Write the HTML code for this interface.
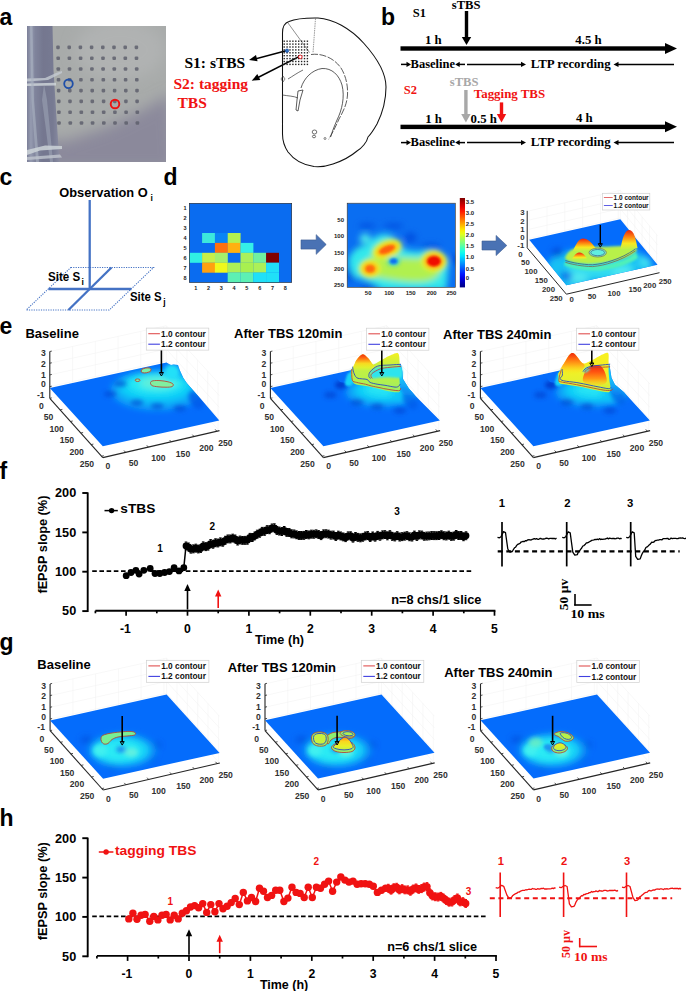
<!DOCTYPE html>
<html><head><meta charset="utf-8"><title>Figure</title>
<style>html,body{margin:0;padding:0;background:#fff;} svg{display:block;}</style></head>
<body><svg width="686" height="991" viewBox="0 0 686 991">
<defs>
<linearGradient id="phMain" x1="0" y1="0" x2="1" y2="1">
 <stop offset="0" stop-color="#aeb1b0"/>
 <stop offset="0.4" stop-color="#a8acaa"/>
 <stop offset="0.7" stop-color="#9fa1a6"/>
 <stop offset="1" stop-color="#8e8d9e"/>
</linearGradient>
<radialGradient id="phDark" cx="0.95" cy="1.0" r="0.55">
 <stop offset="0" stop-color="#848296" stop-opacity="0.95"/>
 <stop offset="1" stop-color="#848296" stop-opacity="0"/>
</radialGradient>
<linearGradient id="phLeft" x1="0" y1="0" x2="1" y2="0">
 <stop offset="0" stop-color="#7c7f98"/>
 <stop offset="0.12" stop-color="#959bb0"/>
 <stop offset="0.25" stop-color="#80849c"/>
 <stop offset="0.5" stop-color="#74778f"/>
 <stop offset="0.8" stop-color="#777a92"/>
 <stop offset="1" stop-color="#8a8da2"/>
</linearGradient>
<filter id="phblur"><feGaussianBlur stdDeviation="0.7"/></filter>
<clipPath id="phclip"><rect x="27" y="26" width="139" height="136"/></clipPath><filter id="phbig" x="-30%" y="-30%" width="160%" height="160%"><feGaussianBlur stdDeviation="7"/></filter><clipPath id="clipH"><rect x="347.2" y="203.2" width="108.1" height="84.1"/></clipPath><filter id="blur3" x="-50%" y="-50%" width="200%" height="200%"><feGaussianBlur stdDeviation="3"/></filter><filter id="blur2" x="-50%" y="-50%" width="200%" height="200%"><feGaussianBlur stdDeviation="2"/></filter><filter id="blur1" x="-50%" y="-50%" width="200%" height="200%"><feGaussianBlur stdDeviation="1.2"/></filter><filter id="blur4" x="-50%" y="-50%" width="200%" height="200%"><feGaussianBlur stdDeviation="4"/></filter><linearGradient id="jetv" x1="0" y1="1" x2="0" y2="0"><stop offset="0.00" stop-color="#00007f"/><stop offset="0.05" stop-color="#0000b2"/><stop offset="0.10" stop-color="#0000e5"/><stop offset="0.15" stop-color="#0019ff"/><stop offset="0.20" stop-color="#004cff"/><stop offset="0.25" stop-color="#007fff"/><stop offset="0.30" stop-color="#00b2ff"/><stop offset="0.35" stop-color="#00e5ff"/><stop offset="0.40" stop-color="#19ffe5"/><stop offset="0.45" stop-color="#4cffb2"/><stop offset="0.50" stop-color="#7fff7f"/><stop offset="0.55" stop-color="#b2ff4c"/><stop offset="0.60" stop-color="#e5ff19"/><stop offset="0.65" stop-color="#ffe500"/><stop offset="0.70" stop-color="#ffb200"/><stop offset="0.75" stop-color="#ff7f00"/><stop offset="0.80" stop-color="#ff4c00"/><stop offset="0.85" stop-color="#ff1900"/><stop offset="0.90" stop-color="#e50000"/><stop offset="0.95" stop-color="#b20000"/><stop offset="1.00" stop-color="#7f0000"/></linearGradient><clipPath id="sc1"><path d="M49.8,388.0 L166.5,362.6 L169.0,364.0 L171.0,365.0 L173.6,364.6 L178.0,365.0 L179.7,369.9 L183.2,377.7 L186.7,383.0 L193.7,390.9 L206.0,405.0 L219.3,420.5 L102.8,446.3 Z"/></clipPath><clipPath id="sc2"><path d="M270.4,388.0 L386.9,362.2 L401.0,364.5 L402.5,372.0 L403.0,379.1 L408.7,388.3 L416.0,396.5 L439.9,420.5 L323.4,446.3 Z"/></clipPath><linearGradient id="vg1" x1="0" y1="362" x2="0" y2="400" gradientUnits="userSpaceOnUse"><stop offset="0" stop-color="#30e8e8"/><stop offset="0.35" stop-color="#18d4f8"/><stop offset="0.75" stop-color="#1090f4"/><stop offset="1" stop-color="#0a70f0" stop-opacity="0"/></linearGradient><linearGradient id="vg2" x1="0" y1="353" x2="0" y2="392" gradientUnits="userSpaceOnUse"><stop offset="0" stop-color="#f4f020"/><stop offset="0.3" stop-color="#c8f040"/><stop offset="0.7" stop-color="#b4f04c"/><stop offset="1" stop-color="#98f068"/></linearGradient><linearGradient id="vg3" x1="0" y1="354" x2="0" y2="371" gradientUnits="userSpaceOnUse"><stop offset="0" stop-color="#f02810"/><stop offset="0.25" stop-color="#ff7010"/><stop offset="0.55" stop-color="#f8d820"/><stop offset="0.8" stop-color="#f0f020" stop-opacity="0.6"/><stop offset="1" stop-color="#e0f030" stop-opacity="0"/></linearGradient><clipPath id="sc3"><path d="M480.4,388.0 L596.9,362.2 L609.5,364.7 L611.5,377.8 L614.8,384.4 L624.0,392.2 L649.9,420.5 L533.4,446.3 Z"/></clipPath><linearGradient id="vg4" x1="0" y1="362" x2="0" y2="400" gradientUnits="userSpaceOnUse"><stop offset="0" stop-color="#30e8e8"/><stop offset="0.35" stop-color="#18d4f8"/><stop offset="0.75" stop-color="#1090f4"/><stop offset="1" stop-color="#0a70f0" stop-opacity="0"/></linearGradient><linearGradient id="vg5" x1="0" y1="353" x2="0" y2="392" gradientUnits="userSpaceOnUse"><stop offset="0" stop-color="#f8f020"/><stop offset="0.4" stop-color="#f4f024"/><stop offset="0.75" stop-color="#e4f030"/><stop offset="1" stop-color="#c0f044"/></linearGradient><linearGradient id="vg6" x1="0" y1="353" x2="0" y2="375" gradientUnits="userSpaceOnUse"><stop offset="0" stop-color="#f02810"/><stop offset="0.25" stop-color="#ff6810"/><stop offset="0.55" stop-color="#ffb018"/><stop offset="0.8" stop-color="#f8e020" stop-opacity="0.7"/><stop offset="1" stop-color="#f0f020" stop-opacity="0"/></linearGradient><linearGradient id="vg7" x1="0" y1="365" x2="0" y2="388" gradientUnits="userSpaceOnUse"><stop offset="0" stop-color="#f02810"/><stop offset="0.3" stop-color="#ff5410"/><stop offset="0.6" stop-color="#ff9a14"/><stop offset="0.85" stop-color="#f8d020" stop-opacity="0.5"/><stop offset="1" stop-color="#f0f020" stop-opacity="0"/></linearGradient><clipPath id="sc4"><polygon points="50.1,720.4 103.1,778.7 219.6,752.9 166.6,694.6"/></clipPath><clipPath id="sc5"><polygon points="265.0,720.3 318.0,778.6 434.5,752.8 381.5,694.5"/></clipPath><linearGradient id="vg8" x1="0" y1="737.0" x2="0" y2="750.0" gradientUnits="userSpaceOnUse"><stop offset="0" stop-color="#ff8a10"/><stop offset="0.35" stop-color="#f8d820"/><stop offset="0.7" stop-color="#e8f028"/><stop offset="1" stop-color="#c0f048"/></linearGradient><clipPath id="sc6"><polygon points="480.5,720.3 533.5,778.6 650.0,752.8 597.0,694.5"/></clipPath><linearGradient id="vg9" x1="0" y1="742.5" x2="0" y2="751.0" gradientUnits="userSpaceOnUse"><stop offset="0" stop-color="#f0f020"/><stop offset="0.5" stop-color="#d8f030"/><stop offset="1" stop-color="#b0f050"/></linearGradient><clipPath id="cd3"><polygon points="529.2,239.8 566.4,285.2 657.5,264.7 620.3,219.3"/></clipPath><linearGradient id="dpk" x1="0" y1="0" x2="0" y2="1"><stop offset="0" stop-color="#e82010"/><stop offset="0.35" stop-color="#ff8010"/><stop offset="0.7" stop-color="#f8e820"/><stop offset="1" stop-color="#c0f048"/></linearGradient></defs>
<rect width="686" height="991" fill="#fff"/>
<text x="-0.5" y="24.8" font-family='"Liberation Sans", sans-serif' font-size="23" font-weight="bold" fill="#000" text-anchor="start" >a</text>
<text x="381.0" y="24.6" font-family='"Liberation Sans", sans-serif' font-size="23" font-weight="bold" fill="#000" text-anchor="start" >b</text>
<text x="-0.5" y="184.7" font-family='"Liberation Sans", sans-serif' font-size="23" font-weight="bold" fill="#000" text-anchor="start" >c</text>
<text x="163.5" y="184.7" font-family='"Liberation Sans", sans-serif' font-size="23" font-weight="bold" fill="#000" text-anchor="start" >d</text>
<text x="-0.5" y="333.9" font-family='"Liberation Sans", sans-serif' font-size="23" font-weight="bold" fill="#000" text-anchor="start" >e</text>
<text x="-0.5" y="478.7" font-family='"Liberation Sans", sans-serif' font-size="23" font-weight="bold" fill="#000" text-anchor="start" >f</text>
<text x="-0.5" y="650.4" font-family='"Liberation Sans", sans-serif' font-size="23" font-weight="bold" fill="#000" text-anchor="start" >g</text>
<text x="-0.5" y="825.7" font-family='"Liberation Sans", sans-serif' font-size="23" font-weight="bold" fill="#000" text-anchor="start" >h</text>
<rect x="27" y="26" width="139" height="136" fill="#a8abaa"/>
<g clip-path="url(#phclip)">
<ellipse cx="120" cy="50" rx="45" ry="30" fill="#b0b2b2" filter="url(#phbig)"/>
<path d="M20,138 L65,141 L105,128 L143,110 L170,94 L175,170 L20,170 Z" fill="#8b899b" filter="url(#phbig)"/>
</g>
<g filter="url(#phblur)">
<path d="M27,26 L52.5,26 L53.5,70 L56,110 L59.5,162 L27,162 Z" fill="url(#phLeft)"/>
<path d="M27,78.5 L45,78 L56,73 L62,71 L62,73 L48,80 L27,81.5 Z" fill="#c4cad2" opacity="0.8"/>
<path d="M27,83.5 L56,82.8 L56,85.5 L27,86 Z" fill="#d2d8dc" opacity="0.8"/>
<path d="M44,84 L47,100 L50,130 L53,162 L50,162 L46,130 L42,100 Z" fill="#a4acbc" opacity="0.5"/>
<path d="M30,26 L32.5,26 L34,100 L39,162 L36,162 L31.5,100 Z" fill="#aab2c2" opacity="0.6"/>
<path d="M27,150 L45,145.5 L62,146 L62,149 L40,150.5 L27,155 Z" fill="#cdd3d8" opacity="0.85"/>
<path d="M27,157 L60,154.5 L62,157.5 L27,160 Z" fill="#c0c6ce" opacity="0.8"/>
</g>
<g filter="url(#phblur)">
<rect x="56.2" y="45.6" width="3.6" height="3.6" rx="1.1" fill="#5e5f6c" opacity="0.85"/>
<rect x="56.4" y="56.4" width="3.6" height="3.6" rx="1.1" fill="#5e5f6c" opacity="0.85"/>
<rect x="56.5" y="67.2" width="3.6" height="3.6" rx="1.1" fill="#5e5f6c" opacity="0.85"/>
<rect x="56.7" y="78.0" width="3.6" height="3.6" rx="1.1" fill="#5e5f6c" opacity="0.85"/>
<rect x="56.8" y="88.8" width="3.6" height="3.6" rx="1.1" fill="#5e5f6c" opacity="0.85"/>
<rect x="57.0" y="99.6" width="3.6" height="3.6" rx="1.1" fill="#5e5f6c" opacity="0.85"/>
<rect x="57.1" y="110.4" width="3.6" height="3.6" rx="1.1" fill="#5e5f6c" opacity="0.85"/>
<rect x="57.2" y="121.2" width="3.6" height="3.6" rx="1.1" fill="#5e5f6c" opacity="0.85"/>
<rect x="67.4" y="45.6" width="3.6" height="3.6" rx="1.1" fill="#5e5f6c" opacity="0.85"/>
<rect x="67.6" y="56.4" width="3.6" height="3.6" rx="1.1" fill="#5e5f6c" opacity="0.85"/>
<rect x="67.7" y="67.2" width="3.6" height="3.6" rx="1.1" fill="#5e5f6c" opacity="0.85"/>
<rect x="67.9" y="78.0" width="3.6" height="3.6" rx="1.1" fill="#5e5f6c" opacity="0.85"/>
<rect x="68.0" y="88.8" width="3.6" height="3.6" rx="1.1" fill="#5e5f6c" opacity="0.85"/>
<rect x="68.2" y="99.6" width="3.6" height="3.6" rx="1.1" fill="#5e5f6c" opacity="0.85"/>
<rect x="68.3" y="110.4" width="3.6" height="3.6" rx="1.1" fill="#5e5f6c" opacity="0.85"/>
<rect x="68.5" y="121.2" width="3.6" height="3.6" rx="1.1" fill="#5e5f6c" opacity="0.85"/>
<rect x="78.6" y="45.6" width="3.6" height="3.6" rx="1.1" fill="#5e5f6c" opacity="0.85"/>
<rect x="78.8" y="56.4" width="3.6" height="3.6" rx="1.1" fill="#5e5f6c" opacity="0.85"/>
<rect x="78.9" y="67.2" width="3.6" height="3.6" rx="1.1" fill="#5e5f6c" opacity="0.85"/>
<rect x="79.1" y="78.0" width="3.6" height="3.6" rx="1.1" fill="#5e5f6c" opacity="0.85"/>
<rect x="79.2" y="88.8" width="3.6" height="3.6" rx="1.1" fill="#5e5f6c" opacity="0.85"/>
<rect x="79.4" y="99.6" width="3.6" height="3.6" rx="1.1" fill="#5e5f6c" opacity="0.85"/>
<rect x="79.5" y="110.4" width="3.6" height="3.6" rx="1.1" fill="#5e5f6c" opacity="0.85"/>
<rect x="79.7" y="121.2" width="3.6" height="3.6" rx="1.1" fill="#5e5f6c" opacity="0.85"/>
<rect x="89.8" y="45.6" width="3.6" height="3.6" rx="1.1" fill="#5e5f6c" opacity="0.85"/>
<rect x="90.0" y="56.4" width="3.6" height="3.6" rx="1.1" fill="#5e5f6c" opacity="0.85"/>
<rect x="90.1" y="67.2" width="3.6" height="3.6" rx="1.1" fill="#5e5f6c" opacity="0.85"/>
<rect x="90.2" y="78.0" width="3.6" height="3.6" rx="1.1" fill="#5e5f6c" opacity="0.85"/>
<rect x="90.4" y="88.8" width="3.6" height="3.6" rx="1.1" fill="#5e5f6c" opacity="0.85"/>
<rect x="90.5" y="99.6" width="3.6" height="3.6" rx="1.1" fill="#5e5f6c" opacity="0.85"/>
<rect x="90.7" y="110.4" width="3.6" height="3.6" rx="1.1" fill="#5e5f6c" opacity="0.85"/>
<rect x="90.8" y="121.2" width="3.6" height="3.6" rx="1.1" fill="#5e5f6c" opacity="0.85"/>
<rect x="101.0" y="45.6" width="3.6" height="3.6" rx="1.1" fill="#5e5f6c" opacity="0.85"/>
<rect x="101.2" y="56.4" width="3.6" height="3.6" rx="1.1" fill="#5e5f6c" opacity="0.85"/>
<rect x="101.3" y="67.2" width="3.6" height="3.6" rx="1.1" fill="#5e5f6c" opacity="0.85"/>
<rect x="101.5" y="78.0" width="3.6" height="3.6" rx="1.1" fill="#5e5f6c" opacity="0.85"/>
<rect x="101.6" y="88.8" width="3.6" height="3.6" rx="1.1" fill="#5e5f6c" opacity="0.85"/>
<rect x="101.8" y="99.6" width="3.6" height="3.6" rx="1.1" fill="#5e5f6c" opacity="0.85"/>
<rect x="101.9" y="110.4" width="3.6" height="3.6" rx="1.1" fill="#5e5f6c" opacity="0.85"/>
<rect x="102.0" y="121.2" width="3.6" height="3.6" rx="1.1" fill="#5e5f6c" opacity="0.85"/>
<rect x="112.2" y="45.6" width="3.6" height="3.6" rx="1.1" fill="#5e5f6c" opacity="0.85"/>
<rect x="112.4" y="56.4" width="3.6" height="3.6" rx="1.1" fill="#5e5f6c" opacity="0.85"/>
<rect x="112.5" y="67.2" width="3.6" height="3.6" rx="1.1" fill="#5e5f6c" opacity="0.85"/>
<rect x="112.7" y="78.0" width="3.6" height="3.6" rx="1.1" fill="#5e5f6c" opacity="0.85"/>
<rect x="112.8" y="88.8" width="3.6" height="3.6" rx="1.1" fill="#5e5f6c" opacity="0.85"/>
<rect x="113.0" y="99.6" width="3.6" height="3.6" rx="1.1" fill="#5e5f6c" opacity="0.85"/>
<rect x="113.1" y="110.4" width="3.6" height="3.6" rx="1.1" fill="#5e5f6c" opacity="0.85"/>
<rect x="113.2" y="121.2" width="3.6" height="3.6" rx="1.1" fill="#5e5f6c" opacity="0.85"/>
<rect x="123.4" y="45.6" width="3.6" height="3.6" rx="1.1" fill="#5e5f6c" opacity="0.85"/>
<rect x="123.5" y="56.4" width="3.6" height="3.6" rx="1.1" fill="#5e5f6c" opacity="0.85"/>
<rect x="123.7" y="67.2" width="3.6" height="3.6" rx="1.1" fill="#5e5f6c" opacity="0.85"/>
<rect x="123.8" y="78.0" width="3.6" height="3.6" rx="1.1" fill="#5e5f6c" opacity="0.85"/>
<rect x="124.0" y="88.8" width="3.6" height="3.6" rx="1.1" fill="#5e5f6c" opacity="0.85"/>
<rect x="124.1" y="99.6" width="3.6" height="3.6" rx="1.1" fill="#5e5f6c" opacity="0.85"/>
<rect x="124.3" y="110.4" width="3.6" height="3.6" rx="1.1" fill="#5e5f6c" opacity="0.85"/>
<rect x="124.4" y="121.2" width="3.6" height="3.6" rx="1.1" fill="#5e5f6c" opacity="0.85"/>
<rect x="134.6" y="45.6" width="3.6" height="3.6" rx="1.1" fill="#5e5f6c" opacity="0.85"/>
<rect x="134.7" y="56.4" width="3.6" height="3.6" rx="1.1" fill="#5e5f6c" opacity="0.85"/>
<rect x="134.9" y="67.2" width="3.6" height="3.6" rx="1.1" fill="#5e5f6c" opacity="0.85"/>
<rect x="135.0" y="78.0" width="3.6" height="3.6" rx="1.1" fill="#5e5f6c" opacity="0.85"/>
<rect x="135.2" y="88.8" width="3.6" height="3.6" rx="1.1" fill="#5e5f6c" opacity="0.85"/>
<rect x="135.3" y="99.6" width="3.6" height="3.6" rx="1.1" fill="#5e5f6c" opacity="0.85"/>
<rect x="135.5" y="110.4" width="3.6" height="3.6" rx="1.1" fill="#5e5f6c" opacity="0.85"/>
<rect x="135.6" y="121.2" width="3.6" height="3.6" rx="1.1" fill="#5e5f6c" opacity="0.85"/>
</g>
<circle cx="68.5" cy="83.8" r="4.3" fill="none" stroke="#1f4fa8" stroke-width="1.8"/>
<circle cx="115" cy="104" r="4.3" fill="none" stroke="#ec1010" stroke-width="1.9"/>
<text x="184.5" y="68.0" font-family='"Liberation Serif", serif' font-size="15.5" font-weight="bold" fill="#000" text-anchor="start" >S1: sTBS</text>
<text x="173.5" y="88.5" font-family='"Liberation Serif", serif' font-size="15.5" font-weight="bold" fill="#f01212" text-anchor="start" >S2: tagging</text>
<text x="177.5" y="107.5" font-family='"Liberation Serif", serif' font-size="15.5" font-weight="bold" fill="#f01212" text-anchor="start" >TBS</text>
<line x1="287.0" y1="50.6" x2="254.0" y2="59.2" stroke="#000" stroke-width="1.5" />
<path d="M249.0,60.0 L256.0,54.9 L257.6,61.3 Z" fill="#000"/>
<line x1="300.0" y1="56.2" x2="256.0" y2="78.5" stroke="#000" stroke-width="1.5" />
<path d="M251.7,80.7 L257.3,74.1 L260.3,80.0 Z" fill="#000"/>
<path d="M282.5,33 C282.5,27 284,23 289,21.5 C296,18.5 306,17.8 318,18 C333,19 350,28 364,43.5 C377,58 386,72 386,87 C386,100 383,112 377,124 C373,131 370,135 368,137 C367,142 362,148 357,151 C350,157 342,161 333,164 C326,166.5 320,167 314,166.5 C303,165 294,160 288,152 C284,146 282.5,140 282.5,134 Z" fill="none" stroke="#111" stroke-width="1.05"/>
<path d="M288,23 L309.5,52.5" stroke="#444" stroke-width="0.6" fill="none"/>
<path d="M315.5,18.5 L313,53" stroke="#555" stroke-width="0.6" stroke-dasharray="1.5,0.8" fill="none"/>
<path d="M311,54.5 C322,53 334,58 341,68 C346,76 348,86 347.5,95 C347,104 343,112 339,119 C336,126 333,132 328.7,139.3" fill="none" stroke="#333" stroke-width="0.8" stroke-dasharray="7,1.5"/>
<path d="M301,88 C304,78 312,70 322,68.5 C332,68 339,75 342,85 C345,97 342,110 337,120 C334,127 332,132 330.6,137" fill="none" stroke="#333" stroke-width="0.8"/>
<path d="M303,70 C297,73 293,76 288,79" fill="none" stroke="#333" stroke-width="0.7"/>
<path d="M298,91 L297,100 L296,110 L298,111 L300,100 L303,90 Z" fill="none" stroke="#333" stroke-width="0.8"/>
<path d="M282.5,95 C288,96 294,96 298,98" fill="none" stroke="#333" stroke-width="0.7"/>
<path d="M283,76 L285,79 L283,82 L281,79 Z" fill="none" stroke="#333" stroke-width="0.6"/>
<ellipse cx="314.5" cy="132" rx="2.3" ry="2" fill="none" stroke="#333" stroke-width="0.7"/>
<ellipse cx="314" cy="136.5" rx="1.6" ry="1.3" fill="none" stroke="#333" stroke-width="0.7"/>
<circle cx="325" cy="138.5" r="1" fill="none" stroke="#333" stroke-width="0.6"/>
<rect x="283.5" y="40.5" width="1.4" height="1.4" fill="#222"/>
<rect x="283.5" y="43.4" width="1.4" height="1.4" fill="#222"/>
<rect x="283.5" y="46.3" width="1.4" height="1.4" fill="#222"/>
<rect x="283.5" y="49.2" width="1.4" height="1.4" fill="#222"/>
<rect x="283.5" y="52.1" width="1.4" height="1.4" fill="#222"/>
<rect x="283.5" y="55.0" width="1.4" height="1.4" fill="#222"/>
<rect x="283.5" y="57.9" width="1.4" height="1.4" fill="#222"/>
<rect x="283.5" y="60.8" width="1.4" height="1.4" fill="#222"/>
<rect x="283.5" y="63.7" width="1.4" height="1.4" fill="#222"/>
<rect x="286.4" y="40.5" width="1.4" height="1.4" fill="#222"/>
<rect x="286.4" y="43.4" width="1.4" height="1.4" fill="#222"/>
<rect x="286.4" y="46.3" width="1.4" height="1.4" fill="#222"/>
<rect x="286.4" y="49.2" width="1.4" height="1.4" fill="#222"/>
<rect x="286.4" y="52.1" width="1.4" height="1.4" fill="#222"/>
<rect x="286.4" y="55.0" width="1.4" height="1.4" fill="#222"/>
<rect x="286.4" y="57.9" width="1.4" height="1.4" fill="#222"/>
<rect x="286.4" y="60.8" width="1.4" height="1.4" fill="#222"/>
<rect x="286.4" y="63.7" width="1.4" height="1.4" fill="#222"/>
<rect x="289.3" y="40.5" width="1.4" height="1.4" fill="#222"/>
<rect x="289.3" y="43.4" width="1.4" height="1.4" fill="#222"/>
<rect x="289.3" y="46.3" width="1.4" height="1.4" fill="#222"/>
<rect x="289.3" y="49.2" width="1.4" height="1.4" fill="#222"/>
<rect x="289.3" y="52.1" width="1.4" height="1.4" fill="#222"/>
<rect x="289.3" y="55.0" width="1.4" height="1.4" fill="#222"/>
<rect x="289.3" y="57.9" width="1.4" height="1.4" fill="#222"/>
<rect x="289.3" y="60.8" width="1.4" height="1.4" fill="#222"/>
<rect x="289.3" y="63.7" width="1.4" height="1.4" fill="#222"/>
<rect x="292.2" y="40.5" width="1.4" height="1.4" fill="#222"/>
<rect x="292.2" y="43.4" width="1.4" height="1.4" fill="#222"/>
<rect x="292.2" y="46.3" width="1.4" height="1.4" fill="#222"/>
<rect x="292.2" y="49.2" width="1.4" height="1.4" fill="#222"/>
<rect x="292.2" y="52.1" width="1.4" height="1.4" fill="#222"/>
<rect x="292.2" y="55.0" width="1.4" height="1.4" fill="#222"/>
<rect x="292.2" y="57.9" width="1.4" height="1.4" fill="#222"/>
<rect x="292.2" y="60.8" width="1.4" height="1.4" fill="#222"/>
<rect x="292.2" y="63.7" width="1.4" height="1.4" fill="#222"/>
<rect x="295.1" y="40.5" width="1.4" height="1.4" fill="#222"/>
<rect x="295.1" y="43.4" width="1.4" height="1.4" fill="#222"/>
<rect x="295.1" y="46.3" width="1.4" height="1.4" fill="#222"/>
<rect x="295.1" y="49.2" width="1.4" height="1.4" fill="#222"/>
<rect x="295.1" y="52.1" width="1.4" height="1.4" fill="#222"/>
<rect x="295.1" y="55.0" width="1.4" height="1.4" fill="#222"/>
<rect x="295.1" y="57.9" width="1.4" height="1.4" fill="#222"/>
<rect x="295.1" y="60.8" width="1.4" height="1.4" fill="#222"/>
<rect x="295.1" y="63.7" width="1.4" height="1.4" fill="#222"/>
<rect x="298.0" y="40.5" width="1.4" height="1.4" fill="#222"/>
<rect x="298.0" y="43.4" width="1.4" height="1.4" fill="#222"/>
<rect x="298.0" y="46.3" width="1.4" height="1.4" fill="#222"/>
<rect x="298.0" y="49.2" width="1.4" height="1.4" fill="#222"/>
<rect x="298.0" y="52.1" width="1.4" height="1.4" fill="#222"/>
<rect x="298.0" y="55.0" width="1.4" height="1.4" fill="#222"/>
<rect x="298.0" y="57.9" width="1.4" height="1.4" fill="#222"/>
<rect x="298.0" y="60.8" width="1.4" height="1.4" fill="#222"/>
<rect x="298.0" y="63.7" width="1.4" height="1.4" fill="#222"/>
<rect x="300.9" y="40.5" width="1.4" height="1.4" fill="#222"/>
<rect x="300.9" y="43.4" width="1.4" height="1.4" fill="#222"/>
<rect x="300.9" y="46.3" width="1.4" height="1.4" fill="#222"/>
<rect x="300.9" y="49.2" width="1.4" height="1.4" fill="#222"/>
<rect x="300.9" y="52.1" width="1.4" height="1.4" fill="#222"/>
<rect x="300.9" y="55.0" width="1.4" height="1.4" fill="#222"/>
<rect x="300.9" y="57.9" width="1.4" height="1.4" fill="#222"/>
<rect x="300.9" y="60.8" width="1.4" height="1.4" fill="#222"/>
<rect x="300.9" y="63.7" width="1.4" height="1.4" fill="#222"/>
<rect x="303.8" y="40.5" width="1.4" height="1.4" fill="#222"/>
<rect x="303.8" y="43.4" width="1.4" height="1.4" fill="#222"/>
<rect x="303.8" y="46.3" width="1.4" height="1.4" fill="#222"/>
<rect x="303.8" y="49.2" width="1.4" height="1.4" fill="#222"/>
<rect x="303.8" y="52.1" width="1.4" height="1.4" fill="#222"/>
<rect x="303.8" y="55.0" width="1.4" height="1.4" fill="#222"/>
<rect x="303.8" y="57.9" width="1.4" height="1.4" fill="#222"/>
<rect x="303.8" y="60.8" width="1.4" height="1.4" fill="#222"/>
<rect x="303.8" y="63.7" width="1.4" height="1.4" fill="#222"/>
<rect x="306.7" y="40.5" width="1.4" height="1.4" fill="#222"/>
<rect x="306.7" y="43.4" width="1.4" height="1.4" fill="#222"/>
<rect x="306.7" y="46.3" width="1.4" height="1.4" fill="#222"/>
<rect x="306.7" y="49.2" width="1.4" height="1.4" fill="#222"/>
<rect x="306.7" y="52.1" width="1.4" height="1.4" fill="#222"/>
<rect x="306.7" y="55.0" width="1.4" height="1.4" fill="#222"/>
<rect x="306.7" y="57.9" width="1.4" height="1.4" fill="#222"/>
<rect x="306.7" y="60.8" width="1.4" height="1.4" fill="#222"/>
<rect x="306.7" y="63.7" width="1.4" height="1.4" fill="#222"/>
<circle cx="287" cy="50.7" r="1.8" fill="#2a6fc0" stroke="#1f4fa8" stroke-width="0.6"/>
<circle cx="300.3" cy="56.9" r="1.8" fill="#fff" stroke="#e8141c" stroke-width="1"/>
<text x="412.8" y="17.0" font-family='"Liberation Serif", serif' font-size="12.5" font-weight="bold" fill="#000" text-anchor="start" >S1</text>
<text x="451.8" y="8.7" font-family='"Liberation Serif", serif' font-size="12.6" font-weight="bold" fill="#000" text-anchor="start" >sTBS</text>
<rect x="464.8" y="11" width="3.4" height="27" fill="#000"/>
<path d="M461.8,37 L471.2,37 L466.5,45 Z" fill="#000"/>
<text x="425.0" y="43.7" font-family='"Liberation Serif", serif' font-size="12.8" font-weight="bold" fill="#000" text-anchor="start" >1 h</text>
<text x="575.3" y="44.3" font-family='"Liberation Serif", serif' font-size="12.8" font-weight="bold" fill="#000" text-anchor="start" >4.5 h</text>
<rect x="400.5" y="46.3" width="266" height="4.4" fill="#000"/>
<path d="M665,43 L677,48.5 L665,54 Z" fill="#000"/>
<line x1="401.0" y1="64.4" x2="408.0" y2="64.4" stroke="#000" stroke-width="1.5" />
<path d="M411.0,64.4 L406.5,67.0 L406.5,61.8 Z" fill="#000"/>
<text x="410.6" y="67.8" font-family='"Liberation Serif", serif' font-size="12.5" font-weight="bold" fill="#000" text-anchor="start" >Baseline</text>
<line x1="458.0" y1="64.4" x2="465.0" y2="64.4" stroke="#000" stroke-width="1.5" />
<path d="M455.2,64.4 L459.7,61.8 L459.7,67.0 Z" fill="#000"/>
<line x1="467.0" y1="64.4" x2="522.0" y2="64.4" stroke="#000" stroke-width="1.5" />
<path d="M526.0,64.4 L521.0,67.0 L521.0,61.8 Z" fill="#000"/>
<text x="530.8" y="67.8" font-family='"Liberation Serif", serif' font-size="12.9" font-weight="bold" fill="#000" text-anchor="start" >LTP recording</text>
<line x1="617.0" y1="64.4" x2="674.0" y2="64.4" stroke="#000" stroke-width="1.5" />
<path d="M613.5,64.4 L618.5,61.8 L618.5,67.0 Z" fill="#000"/>
<text x="403.8" y="93.6" font-family='"Liberation Serif", serif' font-size="12.5" font-weight="bold" fill="#f01212" text-anchor="start" >S2</text>
<text x="449.8" y="86.4" font-family='"Liberation Serif", serif' font-size="12.6" font-weight="bold" fill="#a8a8a8" text-anchor="start" >sTBS</text>
<rect x="464.2" y="90" width="3.4" height="25" fill="#a8a8a8"/>
<path d="M461.2,114 L470.6,114 L465.9,122.5 Z" fill="#a8a8a8"/>
<text x="473.8" y="98.0" font-family='"Liberation Serif", serif' font-size="12.9" font-weight="bold" fill="#f01212" text-anchor="start" >Tagging TBS</text>
<rect x="499.8" y="102.4" width="3.4" height="13" fill="#f01212"/>
<path d="M496.8,114 L506.2,114 L501.5,122.5 Z" fill="#f01212"/>
<text x="425.2" y="122.5" font-family='"Liberation Serif", serif' font-size="12.8" font-weight="bold" fill="#000" text-anchor="start" >1 h</text>
<text x="470.6" y="122.5" font-family='"Liberation Serif", serif' font-size="12.8" font-weight="bold" fill="#000" text-anchor="start" >0.5 h</text>
<text x="575.9" y="122.0" font-family='"Liberation Serif", serif' font-size="12.8" font-weight="bold" fill="#000" text-anchor="start" >4 h</text>
<rect x="400.5" y="124.7" width="266" height="4.4" fill="#000"/>
<path d="M665,121.3 L677,126.8 L665,132.2 Z" fill="#000"/>
<line x1="401.0" y1="142.6" x2="408.0" y2="142.6" stroke="#000" stroke-width="1.5" />
<path d="M411.0,142.6 L406.5,145.2 L406.5,140.0 Z" fill="#000"/>
<text x="410.6" y="146.0" font-family='"Liberation Serif", serif' font-size="12.5" font-weight="bold" fill="#000" text-anchor="start" >Baseline</text>
<line x1="458.0" y1="142.6" x2="465.0" y2="142.6" stroke="#000" stroke-width="1.5" />
<path d="M455.2,142.6 L459.7,140.0 L459.7,145.2 Z" fill="#000"/>
<line x1="467.0" y1="142.6" x2="522.0" y2="142.6" stroke="#000" stroke-width="1.5" />
<path d="M526.0,142.6 L521.0,145.2 L521.0,140.0 Z" fill="#000"/>
<text x="530.8" y="146.0" font-family='"Liberation Serif", serif' font-size="12.9" font-weight="bold" fill="#000" text-anchor="start" >LTP recording</text>
<line x1="617.0" y1="142.6" x2="674.0" y2="142.6" stroke="#000" stroke-width="1.5" />
<path d="M613.5,142.6 L618.5,140.0 L618.5,145.2 Z" fill="#000"/>
<path d="M70.8,267.5 L153.5,267.5 L109.3,310 L26.2,310 Z" fill="none" stroke="#4472c4" stroke-width="1.1" stroke-dasharray="1.2,1.2"/>
<line x1="48.5" y1="289.0" x2="131.4" y2="289.0" stroke="#4472c4" stroke-width="2.3" />
<line x1="111.5" y1="267.5" x2="68.4" y2="310.0" stroke="#4472c4" stroke-width="2.3" />
<line x1="89.7" y1="200.0" x2="89.7" y2="289.0" stroke="#4472c4" stroke-width="2.3" />
<text x="59.3" y="197.3" font-family='"Liberation Sans", sans-serif' font-size="12.8" font-weight="bold" fill="#000" text-anchor="start"  textLength="88.4" lengthAdjust="spacingAndGlyphs">Observation O</text>
<text x="150.6" y="200.8" font-family='"Liberation Sans", sans-serif' font-size="8.5" font-weight="bold" fill="#000" text-anchor="start" >i</text>
<text x="48.0" y="281.1" font-family='"Liberation Sans", sans-serif' font-size="12.8" font-weight="bold" fill="#000" text-anchor="start"  textLength="32.2" lengthAdjust="spacingAndGlyphs">Site S</text>
<text x="81.5" y="284.6" font-family='"Liberation Sans", sans-serif' font-size="8.5" font-weight="bold" fill="#000" text-anchor="start" >i</text>
<text x="130.0" y="301.0" font-family='"Liberation Sans", sans-serif' font-size="12.8" font-weight="bold" fill="#000" text-anchor="start"  textLength="31.7" lengthAdjust="spacingAndGlyphs">Site S</text>
<text x="163.2" y="304.5" font-family='"Liberation Sans", sans-serif' font-size="8.5" font-weight="bold" fill="#000" text-anchor="start" >j</text>
<rect x="189.3" y="203.3" width="102.4" height="79.2" fill="#0a6cf0"/>
<rect x="202.10" y="233.00" width="12.90" height="10.00" fill="#3ce8dc"/>
<rect x="214.90" y="233.00" width="12.90" height="10.00" fill="#0a84f4"/>
<rect x="227.70" y="233.00" width="12.90" height="10.00" fill="#b4f050"/>
<rect x="214.90" y="242.90" width="12.90" height="10.00" fill="#ff7010"/>
<rect x="227.70" y="242.90" width="12.90" height="10.00" fill="#ffb010"/>
<rect x="240.50" y="242.90" width="12.90" height="10.00" fill="#34f0e8"/>
<rect x="189.30" y="252.80" width="12.90" height="10.00" fill="#30f0e4"/>
<rect x="202.10" y="252.80" width="12.90" height="10.00" fill="#c8f048"/>
<rect x="214.90" y="252.80" width="12.90" height="10.00" fill="#a4f06c"/>
<rect x="240.50" y="252.80" width="12.90" height="10.00" fill="#aaf05c"/>
<rect x="253.30" y="252.80" width="12.90" height="10.00" fill="#70f0a0"/>
<rect x="266.10" y="252.80" width="12.90" height="10.00" fill="#800000"/>
<rect x="202.10" y="262.70" width="12.90" height="10.00" fill="#ffa010"/>
<rect x="214.90" y="262.70" width="12.90" height="10.00" fill="#f0f81c"/>
<rect x="227.70" y="262.70" width="12.90" height="10.00" fill="#acf058"/>
<rect x="240.50" y="262.70" width="12.90" height="10.00" fill="#a8f050"/>
<rect x="253.30" y="262.70" width="12.90" height="10.00" fill="#acf058"/>
<rect x="266.10" y="262.70" width="12.90" height="10.00" fill="#20e0f8"/>
<rect x="227.70" y="272.60" width="12.90" height="10.00" fill="#5cf0b4"/>
<rect x="240.50" y="272.60" width="12.90" height="10.00" fill="#5cf0b4"/>
<rect x="253.30" y="272.60" width="12.90" height="10.00" fill="#20e0f8"/>
<rect x="266.10" y="272.60" width="12.90" height="10.00" fill="#20e0f8"/>
<rect x="189.3" y="203.3" width="102.4" height="79.2" fill="none" stroke="#222" stroke-width="0.6"/>
<text x="185.0" y="210.2" font-family='"Liberation Sans", sans-serif' font-size="5.5" font-weight="bold" fill="#222" text-anchor="middle" >1</text>
<text x="195.7" y="289.8" font-family='"Liberation Sans", sans-serif' font-size="5.5" font-weight="bold" fill="#222" text-anchor="middle" >1</text>
<text x="185.0" y="220.2" font-family='"Liberation Sans", sans-serif' font-size="5.5" font-weight="bold" fill="#222" text-anchor="middle" >2</text>
<text x="208.5" y="289.8" font-family='"Liberation Sans", sans-serif' font-size="5.5" font-weight="bold" fill="#222" text-anchor="middle" >2</text>
<text x="185.0" y="230.1" font-family='"Liberation Sans", sans-serif' font-size="5.5" font-weight="bold" fill="#222" text-anchor="middle" >3</text>
<text x="221.3" y="289.8" font-family='"Liberation Sans", sans-serif' font-size="5.5" font-weight="bold" fill="#222" text-anchor="middle" >3</text>
<text x="185.0" y="240.0" font-family='"Liberation Sans", sans-serif' font-size="5.5" font-weight="bold" fill="#222" text-anchor="middle" >4</text>
<text x="234.1" y="289.8" font-family='"Liberation Sans", sans-serif' font-size="5.5" font-weight="bold" fill="#222" text-anchor="middle" >4</text>
<text x="185.0" y="249.9" font-family='"Liberation Sans", sans-serif' font-size="5.5" font-weight="bold" fill="#222" text-anchor="middle" >5</text>
<text x="246.9" y="289.8" font-family='"Liberation Sans", sans-serif' font-size="5.5" font-weight="bold" fill="#222" text-anchor="middle" >5</text>
<text x="185.0" y="259.8" font-family='"Liberation Sans", sans-serif' font-size="5.5" font-weight="bold" fill="#222" text-anchor="middle" >6</text>
<text x="259.7" y="289.8" font-family='"Liberation Sans", sans-serif' font-size="5.5" font-weight="bold" fill="#222" text-anchor="middle" >6</text>
<text x="185.0" y="269.7" font-family='"Liberation Sans", sans-serif' font-size="5.5" font-weight="bold" fill="#222" text-anchor="middle" >7</text>
<text x="272.5" y="289.8" font-family='"Liberation Sans", sans-serif' font-size="5.5" font-weight="bold" fill="#222" text-anchor="middle" >7</text>
<text x="185.0" y="279.6" font-family='"Liberation Sans", sans-serif' font-size="5.5" font-weight="bold" fill="#222" text-anchor="middle" >8</text>
<text x="285.3" y="289.8" font-family='"Liberation Sans", sans-serif' font-size="5.5" font-weight="bold" fill="#222" text-anchor="middle" >8</text>
<path d="M301,239.9 L316.2,239.9 L316.2,234.65 L326.2,244.5 L316.2,254.35 L316.2,249.1 L301,249.1 Z" fill="#4a72b4" stroke="#3a5a90" stroke-width="0.6"/>
<path d="M482,241.0 L496.1,241.0 L496.1,235.45 L506.8,245.5 L496.1,255.55 L496.1,250.0 L482,250.0 Z" fill="#4a72b4" stroke="#3a5a90" stroke-width="0.6"/>
<g clip-path="url(#clipH)">
<rect x="347.2" y="203.2" width="108.1" height="84.1" fill="#0a6ef2"/>
<g filter="url(#blur3)">
<ellipse cx="366.8" cy="226" rx="8.5" ry="2.5" fill="#0650e0"/>
<ellipse cx="393.6" cy="226" rx="10" ry="2.5" fill="#0650e0"/>
<ellipse cx="410.4" cy="237.7" rx="6" ry="5" fill="#0650e0"/>
<ellipse cx="430.5" cy="247.8" rx="10" ry="4" fill="#0650e0"/>
<ellipse cx="455" cy="259.5" rx="4" ry="6" fill="#0650e0"/>
<ellipse cx="351.7" cy="274" rx="6" ry="7" fill="#0650e0"/>
<ellipse cx="370" cy="286" rx="10" ry="3" fill="#0650e0"/>
<ellipse cx="361.8" cy="248.6" rx="7" ry="4" fill="#0650e0"/>
<path d="M349,258 C352,250 360,246 368,244 C372,238 378,234 384,234 C392,234 398,240 402,248 C410,252 420,252 428,250 C438,250 446,254 448,262 C449,270 447,280 446,290 L382,290 C376,284 366,280 356,278 C350,272 348,264 349,258 Z" fill="#30e8ec"/>
<ellipse cx="365.1" cy="238.6" rx="5.5" ry="4.5" fill="#50f0e8"/>
<path d="M366,262 C370,256 378,254 386,256 C398,258 410,258 422,258 C434,258 440,262 440,270 C440,278 430,282 418,282 C404,282 392,280 380,278 C370,276 364,270 366,262 Z" fill="#b0f050"/>
<ellipse cx="387" cy="249.5" rx="15" ry="8.5" fill="#c8f048" transform="rotate(-22 387 249.5)"/>
<ellipse cx="370.1" cy="268.7" rx="10" ry="8" fill="#d8f040"/>
<ellipse cx="433.9" cy="261.2" rx="12" ry="9.5" fill="#d8f040"/>
</g>
<g filter="url(#blur2)">
<ellipse cx="393.6" cy="261.2" rx="6" ry="4.2" fill="#20c8f0"/>
<ellipse cx="387" cy="249.5" rx="14" ry="7.5" fill="#f0f020" transform="rotate(-22 387 249.5)"/>
<ellipse cx="370.1" cy="268.7" rx="9.5" ry="8" fill="#f0f020"/>
<ellipse cx="433.9" cy="261.2" rx="11.5" ry="9.5" fill="#f0f020"/>
<ellipse cx="387" cy="249.5" rx="11" ry="5" fill="#ffa010" transform="rotate(-22 387 249.5)"/>
<ellipse cx="370.1" cy="268.7" rx="7" ry="5.8" fill="#ffa010"/>
<ellipse cx="433.9" cy="261.2" rx="9" ry="7" fill="#ff8010"/>
</g>
<g filter="url(#blur1)">
<ellipse cx="393.6" cy="261.2" rx="3.6" ry="2.6" fill="#1070f0"/>
<ellipse cx="387" cy="249.5" rx="8" ry="3.2" fill="#ff6010" transform="rotate(-22 387 249.5)"/>
<ellipse cx="370.1" cy="268.7" rx="4.2" ry="3.5" fill="#ff6a10"/>
<ellipse cx="433.9" cy="261.2" rx="6.5" ry="5" fill="#f01000"/>
</g>
</g>
<rect x="347.2" y="203.2" width="108.1" height="84.1" fill="none" stroke="#222" stroke-width="0.6"/>
<text x="344.0" y="221.7" font-family='"Liberation Sans", sans-serif' font-size="6" font-weight="bold" fill="#222" text-anchor="end" >50</text>
<text x="344.0" y="238.4" font-family='"Liberation Sans", sans-serif' font-size="6" font-weight="bold" fill="#222" text-anchor="end" >100</text>
<text x="344.0" y="255.0" font-family='"Liberation Sans", sans-serif' font-size="6" font-weight="bold" fill="#222" text-anchor="end" >150</text>
<text x="344.0" y="270.7" font-family='"Liberation Sans", sans-serif' font-size="6" font-weight="bold" fill="#222" text-anchor="end" >200</text>
<text x="344.0" y="287.0" font-family='"Liberation Sans", sans-serif' font-size="6" font-weight="bold" fill="#222" text-anchor="end" >250</text>
<text x="368.2" y="295.0" font-family='"Liberation Sans", sans-serif' font-size="6" font-weight="bold" fill="#222" text-anchor="middle" >50</text>
<text x="389.2" y="295.0" font-family='"Liberation Sans", sans-serif' font-size="6" font-weight="bold" fill="#222" text-anchor="middle" >100</text>
<text x="410.7" y="295.0" font-family='"Liberation Sans", sans-serif' font-size="6" font-weight="bold" fill="#222" text-anchor="middle" >150</text>
<text x="431.7" y="295.0" font-family='"Liberation Sans", sans-serif' font-size="6" font-weight="bold" fill="#222" text-anchor="middle" >200</text>
<text x="451.4" y="295.0" font-family='"Liberation Sans", sans-serif' font-size="6" font-weight="bold" fill="#222" text-anchor="middle" >250</text>
<rect x="459.8" y="198" width="5.2" height="89.4" fill="url(#jetv)"/>
<text x="465.8" y="203.7" font-family='"Liberation Sans", sans-serif' font-size="6" font-weight="bold" fill="#222" text-anchor="start" >3.5</text>
<text x="465.8" y="215.0" font-family='"Liberation Sans", sans-serif' font-size="6" font-weight="bold" fill="#222" text-anchor="start" >3.0</text>
<text x="465.8" y="226.3" font-family='"Liberation Sans", sans-serif' font-size="6" font-weight="bold" fill="#222" text-anchor="start" >2.5</text>
<text x="465.8" y="237.2" font-family='"Liberation Sans", sans-serif' font-size="6" font-weight="bold" fill="#222" text-anchor="start" >2.0</text>
<text x="465.8" y="248.1" font-family='"Liberation Sans", sans-serif' font-size="6" font-weight="bold" fill="#222" text-anchor="start" >1.5</text>
<text x="465.8" y="259.3" font-family='"Liberation Sans", sans-serif' font-size="6" font-weight="bold" fill="#222" text-anchor="start" >1.0</text>
<text x="465.8" y="270.7" font-family='"Liberation Sans", sans-serif' font-size="6" font-weight="bold" fill="#222" text-anchor="start" >0.5</text>
<text x="465.8" y="280.2" font-family='"Liberation Sans", sans-serif' font-size="6" font-weight="bold" fill="#222" text-anchor="start" >0</text>
<line x1="49.8" y1="398.3" x2="49.8" y2="351.5" stroke="#f1f1f1" stroke-width="0.5" />
<line x1="72.6" y1="393.3" x2="72.6" y2="346.5" stroke="#f1f1f1" stroke-width="0.5" />
<line x1="95.3" y1="388.2" x2="95.3" y2="341.4" stroke="#f1f1f1" stroke-width="0.5" />
<line x1="118.1" y1="383.2" x2="118.1" y2="336.4" stroke="#f1f1f1" stroke-width="0.5" />
<line x1="140.8" y1="378.1" x2="140.8" y2="331.3" stroke="#f1f1f1" stroke-width="0.5" />
<line x1="163.6" y1="373.1" x2="163.6" y2="326.3" stroke="#f1f1f1" stroke-width="0.5" />
<line x1="49.8" y1="351.5" x2="166.3" y2="325.7" stroke="#f1f1f1" stroke-width="0.5" />
<line x1="166.3" y1="325.7" x2="219.3" y2="384.0" stroke="#f1f1f1" stroke-width="0.5" />
<line x1="49.8" y1="363.2" x2="166.3" y2="337.4" stroke="#f1f1f1" stroke-width="0.5" />
<line x1="166.3" y1="337.4" x2="219.3" y2="395.7" stroke="#f1f1f1" stroke-width="0.5" />
<line x1="49.8" y1="374.9" x2="166.3" y2="349.1" stroke="#f1f1f1" stroke-width="0.5" />
<line x1="166.3" y1="349.1" x2="219.3" y2="407.4" stroke="#f1f1f1" stroke-width="0.5" />
<line x1="49.8" y1="386.6" x2="166.3" y2="360.8" stroke="#f1f1f1" stroke-width="0.5" />
<line x1="166.3" y1="360.8" x2="219.3" y2="419.1" stroke="#f1f1f1" stroke-width="0.5" />
<line x1="49.8" y1="398.3" x2="166.3" y2="372.5" stroke="#f1f1f1" stroke-width="0.5" />
<line x1="166.3" y1="372.5" x2="219.3" y2="430.8" stroke="#f1f1f1" stroke-width="0.5" />
<line x1="166.3" y1="372.5" x2="166.3" y2="325.7" stroke="#f1f1f1" stroke-width="0.5" />
<line x1="176.7" y1="383.9" x2="176.7" y2="337.1" stroke="#f1f1f1" stroke-width="0.5" />
<line x1="187.0" y1="395.3" x2="187.0" y2="348.5" stroke="#f1f1f1" stroke-width="0.5" />
<line x1="197.4" y1="406.7" x2="197.4" y2="359.9" stroke="#f1f1f1" stroke-width="0.5" />
<line x1="207.7" y1="418.0" x2="207.7" y2="371.2" stroke="#f1f1f1" stroke-width="0.5" />
<line x1="218.1" y1="429.4" x2="218.1" y2="382.6" stroke="#f1f1f1" stroke-width="0.5" />
<line x1="49.8" y1="351.5" x2="49.8" y2="398.3" stroke="#262626" stroke-width="1.1" />
<line x1="49.8" y1="351.5" x2="51.8" y2="351.1" stroke="#262626" stroke-width="0.8" />
<line x1="49.8" y1="363.2" x2="51.8" y2="362.8" stroke="#262626" stroke-width="0.8" />
<line x1="49.8" y1="374.9" x2="51.8" y2="374.4" stroke="#262626" stroke-width="0.8" />
<line x1="49.8" y1="386.6" x2="51.8" y2="386.2" stroke="#262626" stroke-width="0.8" />
<line x1="49.8" y1="398.3" x2="51.8" y2="397.9" stroke="#262626" stroke-width="0.8" />
<line x1="49.8" y1="398.3" x2="102.8" y2="457.6" stroke="#262626" stroke-width="1.1" />
<line x1="60.2" y1="409.9" x2="62.4" y2="409.4" stroke="#262626" stroke-width="0.8" />
<line x1="70.5" y1="421.5" x2="72.7" y2="421.0" stroke="#262626" stroke-width="0.8" />
<line x1="80.9" y1="433.0" x2="83.1" y2="432.5" stroke="#262626" stroke-width="0.8" />
<line x1="91.2" y1="444.6" x2="93.4" y2="444.1" stroke="#262626" stroke-width="0.8" />
<line x1="101.6" y1="456.2" x2="103.8" y2="455.7" stroke="#262626" stroke-width="0.8" />
<line x1="102.8" y1="457.6" x2="219.5" y2="430.6" stroke="#262626" stroke-width="1.1" />
<line x1="125.6" y1="452.3" x2="124.0" y2="450.5" stroke="#262626" stroke-width="0.8" />
<line x1="148.4" y1="447.1" x2="146.8" y2="445.3" stroke="#262626" stroke-width="0.8" />
<line x1="171.2" y1="441.8" x2="169.6" y2="440.0" stroke="#262626" stroke-width="0.8" />
<line x1="194.0" y1="436.5" x2="192.4" y2="434.7" stroke="#262626" stroke-width="0.8" />
<line x1="216.8" y1="431.2" x2="215.2" y2="429.4" stroke="#262626" stroke-width="0.8" />
<text x="43.3" y="356.3" font-family='"Liberation Sans", sans-serif' font-size="8.6" font-weight="bold" fill="#303030" text-anchor="middle" >3</text>
<text x="43.3" y="366.9" font-family='"Liberation Sans", sans-serif' font-size="8.6" font-weight="bold" fill="#303030" text-anchor="middle" >2</text>
<text x="43.3" y="377.6" font-family='"Liberation Sans", sans-serif' font-size="8.6" font-weight="bold" fill="#303030" text-anchor="middle" >1</text>
<text x="43.3" y="387.4" font-family='"Liberation Sans", sans-serif' font-size="8.6" font-weight="bold" fill="#303030" text-anchor="middle" >0</text>
<text x="40.8" y="398.0" font-family='"Liberation Sans", sans-serif' font-size="8.6" font-weight="bold" fill="#303030" text-anchor="middle" >-1</text>
<text x="41.5" y="409.2" font-family='"Liberation Sans", sans-serif' font-size="8.6" font-weight="bold" fill="#303030" text-anchor="middle" >0</text>
<text x="48.6" y="420.2" font-family='"Liberation Sans", sans-serif' font-size="8.6" font-weight="bold" fill="#303030" text-anchor="middle" >50</text>
<text x="56.6" y="431.8" font-family='"Liberation Sans", sans-serif' font-size="8.6" font-weight="bold" fill="#303030" text-anchor="middle" >100</text>
<text x="66.8" y="443.2" font-family='"Liberation Sans", sans-serif' font-size="8.6" font-weight="bold" fill="#303030" text-anchor="middle" >150</text>
<text x="76.7" y="454.9" font-family='"Liberation Sans", sans-serif' font-size="8.6" font-weight="bold" fill="#303030" text-anchor="middle" >200</text>
<text x="86.9" y="466.5" font-family='"Liberation Sans", sans-serif' font-size="8.6" font-weight="bold" fill="#303030" text-anchor="middle" >250</text>
<text x="108.0" y="469.4" font-family='"Liberation Sans", sans-serif' font-size="8.6" font-weight="bold" fill="#303030" text-anchor="middle" >0</text>
<text x="133.5" y="465.7" font-family='"Liberation Sans", sans-serif' font-size="8.6" font-weight="bold" fill="#303030" text-anchor="middle" >50</text>
<text x="158.3" y="461.3" font-family='"Liberation Sans", sans-serif' font-size="8.6" font-weight="bold" fill="#303030" text-anchor="middle" >100</text>
<text x="183.0" y="457.0" font-family='"Liberation Sans", sans-serif' font-size="8.6" font-weight="bold" fill="#303030" text-anchor="middle" >150</text>
<text x="206.4" y="450.5" font-family='"Liberation Sans", sans-serif' font-size="8.6" font-weight="bold" fill="#303030" text-anchor="middle" >200</text>
<text x="225.3" y="446.0" font-family='"Liberation Sans", sans-serif' font-size="8.6" font-weight="bold" fill="#303030" text-anchor="middle" >250</text>
<path d="M49.8,388.0 L166.5,362.6 L169.0,364.0 L171.0,365.0 L173.6,364.6 L178.0,365.0 L179.7,369.9 L183.2,377.7 L186.7,383.0 L193.7,390.9 L206.0,405.0 L219.3,420.5 L102.8,446.3 Z" fill="#046cfc"/>
<g clip-path="url(#sc1)"><g filter="url(#blur3)">
<ellipse cx="157.0" cy="390.0" rx="46.0" ry="20.0" fill="#10a8f8" opacity="1"/>
<ellipse cx="156.0" cy="387.0" rx="37.0" ry="15.0" fill="#10d0f8" opacity="1"/>
<ellipse cx="156.0" cy="384.0" rx="28.0" ry="10.0" fill="#28e8f4" opacity="1"/>
<ellipse cx="158.0" cy="383.0" rx="18.0" ry="6.0" fill="#60f0d8" opacity="1"/>
</g><g filter="url(#blur2)">
<ellipse cx="172.0" cy="372.0" rx="8.0" ry="8.0" fill="#20e0f8" opacity="1"/>
<ellipse cx="120.6" cy="383.7" rx="6.5" ry="3.2" fill="#0640d0" opacity="0.6"/>
<ellipse cx="110.4" cy="393.9" rx="6.5" ry="3.2" fill="#0640d0" opacity="0.6"/>
<ellipse cx="137.0" cy="402.7" rx="6.5" ry="3.2" fill="#0640d0" opacity="0.6"/>
<ellipse cx="157.3" cy="406.1" rx="6.5" ry="3.2" fill="#0640d0" opacity="0.6"/>
<ellipse cx="179.8" cy="408.2" rx="6.5" ry="3.2" fill="#0640d0" opacity="0.6"/>
<ellipse cx="196.0" cy="400.0" rx="6.0" ry="10.0" fill="#0858e8" opacity="0.8" transform="rotate(-35 196.0 400.0)"/>
</g></g>
<ellipse cx="146.1" cy="370.4" rx="5.1" ry="2.4" fill="#78f0a8" stroke="#b84a38" stroke-width="0.9" transform="rotate(-8 146.1 370.4)"/>
<ellipse cx="137.6" cy="380.2" rx="2.4" ry="1.3" fill="#78f0a8" stroke="#b84a38" stroke-width="0.9"/>
<path d="M150.5,382.5 C150.7,381.7 151.4,381.1 153.0,380.8 C154.6,380.5 157.5,380.4 160.0,380.6 C162.5,380.8 165.8,381.2 168.0,381.8 C170.2,382.4 172.3,383.2 173.0,384.0 C173.7,384.8 173.2,386.1 172.0,386.6 C170.8,387.1 168.3,387.2 166.0,387.2 C163.7,387.2 160.3,387.1 158.0,386.8 C155.7,386.5 153.2,386.3 152.0,385.6 C150.8,384.9 150.3,383.3 150.5,382.5 Z" fill="#80f0a0" stroke="#b84a38" stroke-width="0.9"/>
<line x1="161.4" y1="350.0" x2="161.4" y2="373.5" stroke="#000" stroke-width="1.6" />
<path d="M159.4,372.5 L163.4,372.5 L161.4,376.0 Z" fill="none" stroke="#000" stroke-width="1"/>
<rect x="146.3" y="328.1" width="62.5" height="22" fill="#fff" stroke="#d0d0d0" stroke-width="0.7"/>
<line x1="148.3" y1="333.7" x2="159.9" y2="333.7" stroke="#e05050" stroke-width="1.1" />
<line x1="148.3" y1="344.2" x2="159.9" y2="344.2" stroke="#4040e0" stroke-width="1.1" />
<text x="161.1" y="336.9" font-family='"Liberation Sans", sans-serif' font-size="8.3" font-weight="bold" fill="#111" text-anchor="start" >1.0 contour</text>
<text x="161.1" y="347.2" font-family='"Liberation Sans", sans-serif' font-size="8.3" font-weight="bold" fill="#111" text-anchor="start" >1.2 contour</text>
<text x="25.4" y="337.7" font-family='"Liberation Sans", sans-serif' font-size="13" font-weight="bold" fill="#000" text-anchor="start" >Baseline</text>
<line x1="270.4" y1="398.3" x2="270.4" y2="351.5" stroke="#f1f1f1" stroke-width="0.5" />
<line x1="293.2" y1="393.3" x2="293.2" y2="346.5" stroke="#f1f1f1" stroke-width="0.5" />
<line x1="315.9" y1="388.2" x2="315.9" y2="341.4" stroke="#f1f1f1" stroke-width="0.5" />
<line x1="338.7" y1="383.2" x2="338.7" y2="336.4" stroke="#f1f1f1" stroke-width="0.5" />
<line x1="361.4" y1="378.1" x2="361.4" y2="331.3" stroke="#f1f1f1" stroke-width="0.5" />
<line x1="384.2" y1="373.1" x2="384.2" y2="326.3" stroke="#f1f1f1" stroke-width="0.5" />
<line x1="270.4" y1="351.5" x2="386.9" y2="325.7" stroke="#f1f1f1" stroke-width="0.5" />
<line x1="386.9" y1="325.7" x2="439.9" y2="384.0" stroke="#f1f1f1" stroke-width="0.5" />
<line x1="270.4" y1="363.2" x2="386.9" y2="337.4" stroke="#f1f1f1" stroke-width="0.5" />
<line x1="386.9" y1="337.4" x2="439.9" y2="395.7" stroke="#f1f1f1" stroke-width="0.5" />
<line x1="270.4" y1="374.9" x2="386.9" y2="349.1" stroke="#f1f1f1" stroke-width="0.5" />
<line x1="386.9" y1="349.1" x2="439.9" y2="407.4" stroke="#f1f1f1" stroke-width="0.5" />
<line x1="270.4" y1="386.6" x2="386.9" y2="360.8" stroke="#f1f1f1" stroke-width="0.5" />
<line x1="386.9" y1="360.8" x2="439.9" y2="419.1" stroke="#f1f1f1" stroke-width="0.5" />
<line x1="270.4" y1="398.3" x2="386.9" y2="372.5" stroke="#f1f1f1" stroke-width="0.5" />
<line x1="386.9" y1="372.5" x2="439.9" y2="430.8" stroke="#f1f1f1" stroke-width="0.5" />
<line x1="386.9" y1="372.5" x2="386.9" y2="325.7" stroke="#f1f1f1" stroke-width="0.5" />
<line x1="397.3" y1="383.9" x2="397.3" y2="337.1" stroke="#f1f1f1" stroke-width="0.5" />
<line x1="407.6" y1="395.3" x2="407.6" y2="348.5" stroke="#f1f1f1" stroke-width="0.5" />
<line x1="418.0" y1="406.7" x2="418.0" y2="359.9" stroke="#f1f1f1" stroke-width="0.5" />
<line x1="428.3" y1="418.0" x2="428.3" y2="371.2" stroke="#f1f1f1" stroke-width="0.5" />
<line x1="438.7" y1="429.4" x2="438.7" y2="382.6" stroke="#f1f1f1" stroke-width="0.5" />
<line x1="270.4" y1="351.5" x2="270.4" y2="398.3" stroke="#262626" stroke-width="1.1" />
<line x1="270.4" y1="351.5" x2="272.4" y2="351.1" stroke="#262626" stroke-width="0.8" />
<line x1="270.4" y1="363.2" x2="272.4" y2="362.8" stroke="#262626" stroke-width="0.8" />
<line x1="270.4" y1="374.9" x2="272.4" y2="374.4" stroke="#262626" stroke-width="0.8" />
<line x1="270.4" y1="386.6" x2="272.4" y2="386.2" stroke="#262626" stroke-width="0.8" />
<line x1="270.4" y1="398.3" x2="272.4" y2="397.9" stroke="#262626" stroke-width="0.8" />
<line x1="270.4" y1="398.3" x2="323.4" y2="457.6" stroke="#262626" stroke-width="1.1" />
<line x1="280.8" y1="409.9" x2="283.0" y2="409.4" stroke="#262626" stroke-width="0.8" />
<line x1="291.1" y1="421.5" x2="293.3" y2="421.0" stroke="#262626" stroke-width="0.8" />
<line x1="301.5" y1="433.0" x2="303.7" y2="432.5" stroke="#262626" stroke-width="0.8" />
<line x1="311.8" y1="444.6" x2="314.0" y2="444.1" stroke="#262626" stroke-width="0.8" />
<line x1="322.2" y1="456.2" x2="324.4" y2="455.7" stroke="#262626" stroke-width="0.8" />
<line x1="323.4" y1="457.6" x2="440.1" y2="430.6" stroke="#262626" stroke-width="1.1" />
<line x1="346.2" y1="452.3" x2="344.6" y2="450.5" stroke="#262626" stroke-width="0.8" />
<line x1="369.0" y1="447.1" x2="367.4" y2="445.3" stroke="#262626" stroke-width="0.8" />
<line x1="391.8" y1="441.8" x2="390.2" y2="440.0" stroke="#262626" stroke-width="0.8" />
<line x1="414.6" y1="436.5" x2="413.0" y2="434.7" stroke="#262626" stroke-width="0.8" />
<line x1="437.4" y1="431.2" x2="435.8" y2="429.4" stroke="#262626" stroke-width="0.8" />
<text x="263.9" y="356.3" font-family='"Liberation Sans", sans-serif' font-size="8.6" font-weight="bold" fill="#303030" text-anchor="middle" >3</text>
<text x="263.9" y="366.9" font-family='"Liberation Sans", sans-serif' font-size="8.6" font-weight="bold" fill="#303030" text-anchor="middle" >2</text>
<text x="263.9" y="377.6" font-family='"Liberation Sans", sans-serif' font-size="8.6" font-weight="bold" fill="#303030" text-anchor="middle" >1</text>
<text x="263.9" y="387.4" font-family='"Liberation Sans", sans-serif' font-size="8.6" font-weight="bold" fill="#303030" text-anchor="middle" >0</text>
<text x="261.4" y="398.0" font-family='"Liberation Sans", sans-serif' font-size="8.6" font-weight="bold" fill="#303030" text-anchor="middle" >-1</text>
<text x="262.1" y="409.2" font-family='"Liberation Sans", sans-serif' font-size="8.6" font-weight="bold" fill="#303030" text-anchor="middle" >0</text>
<text x="269.2" y="420.2" font-family='"Liberation Sans", sans-serif' font-size="8.6" font-weight="bold" fill="#303030" text-anchor="middle" >50</text>
<text x="277.2" y="431.8" font-family='"Liberation Sans", sans-serif' font-size="8.6" font-weight="bold" fill="#303030" text-anchor="middle" >100</text>
<text x="287.4" y="443.2" font-family='"Liberation Sans", sans-serif' font-size="8.6" font-weight="bold" fill="#303030" text-anchor="middle" >150</text>
<text x="297.3" y="454.9" font-family='"Liberation Sans", sans-serif' font-size="8.6" font-weight="bold" fill="#303030" text-anchor="middle" >200</text>
<text x="307.5" y="466.5" font-family='"Liberation Sans", sans-serif' font-size="8.6" font-weight="bold" fill="#303030" text-anchor="middle" >250</text>
<text x="328.6" y="469.4" font-family='"Liberation Sans", sans-serif' font-size="8.6" font-weight="bold" fill="#303030" text-anchor="middle" >0</text>
<text x="354.1" y="465.7" font-family='"Liberation Sans", sans-serif' font-size="8.6" font-weight="bold" fill="#303030" text-anchor="middle" >50</text>
<text x="378.9" y="461.3" font-family='"Liberation Sans", sans-serif' font-size="8.6" font-weight="bold" fill="#303030" text-anchor="middle" >100</text>
<text x="403.6" y="457.0" font-family='"Liberation Sans", sans-serif' font-size="8.6" font-weight="bold" fill="#303030" text-anchor="middle" >150</text>
<text x="427.0" y="450.5" font-family='"Liberation Sans", sans-serif' font-size="8.6" font-weight="bold" fill="#303030" text-anchor="middle" >200</text>
<text x="445.9" y="446.0" font-family='"Liberation Sans", sans-serif' font-size="8.6" font-weight="bold" fill="#303030" text-anchor="middle" >250</text>
<path d="M270.4,388.0 L386.9,362.2 L401.0,364.5 L402.5,372.0 L403.0,379.1 L408.7,388.3 L416.0,396.5 L439.9,420.5 L323.4,446.3 Z" fill="#046cfc"/>
<g clip-path="url(#sc2)"><g filter="url(#blur3)">
<ellipse cx="382.0" cy="392.0" rx="36.0" ry="15.0" fill="#10a8f8" opacity="1"/>
<ellipse cx="384.0" cy="390.0" rx="29.0" ry="11.0" fill="#10d0f8" opacity="1"/>
<ellipse cx="386.0" cy="389.0" rx="21.0" ry="7.0" fill="#28e4f4" opacity="1"/>
<ellipse cx="401.0" cy="394.0" rx="10.0" ry="9.0" fill="#10c8f8" opacity="1"/>
</g><g filter="url(#blur2)">
<ellipse cx="340.8" cy="385.0" rx="6.0" ry="4.0" fill="#0438c8" opacity="0.9"/>
<ellipse cx="330.4" cy="395.0" rx="6.5" ry="3.5" fill="#0438c8" opacity="0.55"/>
<ellipse cx="357.0" cy="402.5" rx="6.5" ry="3.3" fill="#0438c8" opacity="0.55"/>
<ellipse cx="377.3" cy="406.5" rx="6.5" ry="3.3" fill="#0438c8" opacity="0.55"/>
<ellipse cx="399.8" cy="410.5" rx="6.5" ry="3.3" fill="#0438c8" opacity="0.5"/>
<ellipse cx="410.0" cy="400.5" rx="6.0" ry="10.0" fill="#0858e8" opacity="0.7" transform="rotate(-35 410.0 400.5)"/>
</g>
<path d="M398.0,362.0 L401.0,364.5 L402.5,372.0 L403.0,379.1 L408.7,388.3 L416.0,396.5 L408.0,400.5 L399.0,388.0 Z" fill="url(#vg1)" filter="url(#blur1)"/>
</g>
<path d="M333.0,374.3 L349.5,373.4 L353.0,376.0 L352.0,384.0 L340.0,382.0 Z" fill="#046cfc"/>
<path d="M347.5,374.0 C348.3,372.1 349.2,373.3 350.0,372.5 C350.8,371.7 351.7,369.1 352.5,369.0 C353.3,368.9 354.8,369.8 355.0,372.0 C355.2,374.2 354.8,379.7 354.0,382.0 C353.2,384.3 351.5,385.7 350.0,386.0 C348.5,386.3 345.4,386.0 345.0,384.0 C344.6,382.0 346.7,375.9 347.5,374.0 Z" fill="#14d4f8" filter="url(#blur1)"/>
<path d="M351.0,371.5 C351.1,370.5 351.1,371.0 351.6,369.9 C352.2,368.8 353.4,366.4 354.3,364.7 C355.2,362.9 355.5,361.1 356.9,359.4 C358.3,357.6 360.9,354.4 362.8,354.2 C364.7,354.0 366.5,356.6 368.0,358.1 C369.5,359.6 370.9,362.4 372.0,363.4 C373.1,364.4 372.9,364.7 374.6,364.0 C376.4,363.3 379.6,360.9 382.5,359.4 C385.4,357.9 389.1,355.8 391.7,354.8 C394.3,353.8 396.9,352.3 398.2,353.5 C399.5,354.7 399.4,358.9 399.6,362.0 C399.8,365.1 399.2,368.8 399.2,372.0 C399.2,375.2 399.5,378.2 399.6,381.0 C399.7,383.8 400.3,387.1 400.0,389.0 C399.7,390.9 400.5,392.1 398.0,392.3 C395.5,392.6 389.9,391.5 385.1,390.5 C380.3,389.5 374.2,387.5 369.4,386.5 C364.6,385.5 359.0,385.4 356.2,384.5 C353.4,383.6 353.3,382.4 352.5,381.0 C351.7,379.6 351.4,377.6 351.2,376.0 C350.9,374.4 350.9,372.5 351.0,371.5 Z" fill="url(#vg2)"/>
<path d="M352.5,369.0 C351.6,367.9 353.6,366.3 354.3,364.7 C355.0,363.1 355.5,361.1 356.9,359.4 C358.3,357.6 360.9,354.4 362.8,354.2 C364.7,354.0 366.5,356.6 368.0,358.1 C369.5,359.6 370.8,361.9 372.0,363.4 C373.2,364.9 375.5,365.9 375.0,367.0 C374.5,368.1 371.5,369.3 369.0,370.0 C366.5,370.7 362.8,371.2 360.0,371.0 C357.2,370.8 353.4,370.1 352.5,369.0 Z" fill="url(#vg3)"/>
<path d="M372.0,370.5 C373.2,369.6 375.8,368.1 378.0,367.6 C380.2,367.1 382.7,367.4 385.0,367.3 C387.3,367.2 389.3,367.2 392.0,367.1 C394.7,367.0 399.4,365.2 401.0,366.9 C402.6,368.5 402.9,375.2 401.6,377.0 C400.3,378.8 395.8,377.4 393.0,377.5 C390.2,377.6 387.5,377.3 385.0,377.3 C382.5,377.3 380.1,377.5 378.0,377.7 C375.9,377.9 373.7,378.6 372.5,378.3 C371.3,378.0 370.9,376.9 370.6,376.0 C370.3,375.1 370.6,373.9 370.8,373.0 C371.0,372.1 370.8,371.4 372.0,370.5 Z" fill="#2ee4ee" filter="url(#blur1)"/>
<path d="M351.7,369.0 C351.8,370.9 351.5,377.9 352.3,380.1 C353.1,382.3 354.5,381.7 356.7,382.4 C358.9,383.1 363.0,383.6 365.4,384.2 C367.8,384.8 368.8,385.3 371.2,385.9 C373.6,386.5 377.7,387.2 380.0,387.7 C382.3,388.2 381.9,388.3 385.0,388.8 C388.1,389.3 396.0,390.8 398.6,390.7 C401.2,390.6 400.4,388.4 400.8,388.0" fill="none" stroke="#b84a38" stroke-width="0.9"/>
<path d="M352.6,366.7 C352.8,367.7 353.0,370.7 353.7,372.5 C354.4,374.3 355.2,376.6 356.7,377.7 C358.2,378.8 360.8,378.6 362.5,378.9 C364.2,379.2 365.9,378.9 367.2,379.5 C368.5,380.1 368.5,381.6 370.1,382.4 C371.8,383.2 374.6,383.7 377.1,384.2 C379.6,384.7 382.0,384.8 385.0,385.3 C388.0,385.8 392.7,386.9 395.0,387.1 C397.3,387.3 397.7,386.8 398.6,386.3 C399.5,385.8 399.9,384.4 400.2,384.0" fill="none" stroke="#2a48c0" stroke-width="0.9"/>
<path d="M401.0,366.4 C399.2,366.5 393.5,366.9 390.0,367.3 C386.5,367.7 383.0,367.9 380.0,369.0 C377.0,370.1 373.3,372.3 371.8,373.7 C370.3,375.1 371.1,376.4 371.2,377.2 C371.3,378.0 372.2,378.1 372.4,378.3" fill="none" stroke="#b84a38" stroke-width="0.9"/>
<path d="M401.0,364.3 C399.2,364.4 393.9,364.7 390.0,365.0 C386.1,365.3 381.0,365.0 377.7,366.1 C374.4,367.2 371.6,370.1 370.1,371.9 C368.6,373.6 368.8,375.5 368.9,376.6 C369.0,377.7 370.4,378.0 370.7,378.3" fill="none" stroke="#2a48c0" stroke-width="0.9"/>
<line x1="381.8" y1="350.0" x2="381.8" y2="373.5" stroke="#000" stroke-width="1.6" />
<path d="M379.8,372.5 L383.8,372.5 L381.8,376.0 Z" fill="none" stroke="#000" stroke-width="1"/>
<rect x="366.4" y="328.2" width="62.5" height="22" fill="#fff" stroke="#d0d0d0" stroke-width="0.7"/>
<line x1="368.4" y1="333.8" x2="380.0" y2="333.8" stroke="#e05050" stroke-width="1.1" />
<line x1="368.4" y1="344.3" x2="380.0" y2="344.3" stroke="#4040e0" stroke-width="1.1" />
<text x="381.2" y="337.0" font-family='"Liberation Sans", sans-serif' font-size="8.3" font-weight="bold" fill="#111" text-anchor="start" >1.0 contour</text>
<text x="381.2" y="347.3" font-family='"Liberation Sans", sans-serif' font-size="8.3" font-weight="bold" fill="#111" text-anchor="start" >1.2 contour</text>
<text x="234.0" y="338.3" font-family='"Liberation Sans", sans-serif' font-size="13" font-weight="bold" fill="#000" text-anchor="start" >After TBS 120min</text>
<line x1="480.4" y1="398.3" x2="480.4" y2="351.5" stroke="#f1f1f1" stroke-width="0.5" />
<line x1="503.2" y1="393.3" x2="503.2" y2="346.5" stroke="#f1f1f1" stroke-width="0.5" />
<line x1="525.9" y1="388.2" x2="525.9" y2="341.4" stroke="#f1f1f1" stroke-width="0.5" />
<line x1="548.7" y1="383.2" x2="548.7" y2="336.4" stroke="#f1f1f1" stroke-width="0.5" />
<line x1="571.4" y1="378.1" x2="571.4" y2="331.3" stroke="#f1f1f1" stroke-width="0.5" />
<line x1="594.2" y1="373.1" x2="594.2" y2="326.3" stroke="#f1f1f1" stroke-width="0.5" />
<line x1="480.4" y1="351.5" x2="596.9" y2="325.7" stroke="#f1f1f1" stroke-width="0.5" />
<line x1="596.9" y1="325.7" x2="649.9" y2="384.0" stroke="#f1f1f1" stroke-width="0.5" />
<line x1="480.4" y1="363.2" x2="596.9" y2="337.4" stroke="#f1f1f1" stroke-width="0.5" />
<line x1="596.9" y1="337.4" x2="649.9" y2="395.7" stroke="#f1f1f1" stroke-width="0.5" />
<line x1="480.4" y1="374.9" x2="596.9" y2="349.1" stroke="#f1f1f1" stroke-width="0.5" />
<line x1="596.9" y1="349.1" x2="649.9" y2="407.4" stroke="#f1f1f1" stroke-width="0.5" />
<line x1="480.4" y1="386.6" x2="596.9" y2="360.8" stroke="#f1f1f1" stroke-width="0.5" />
<line x1="596.9" y1="360.8" x2="649.9" y2="419.1" stroke="#f1f1f1" stroke-width="0.5" />
<line x1="480.4" y1="398.3" x2="596.9" y2="372.5" stroke="#f1f1f1" stroke-width="0.5" />
<line x1="596.9" y1="372.5" x2="649.9" y2="430.8" stroke="#f1f1f1" stroke-width="0.5" />
<line x1="596.9" y1="372.5" x2="596.9" y2="325.7" stroke="#f1f1f1" stroke-width="0.5" />
<line x1="607.3" y1="383.9" x2="607.3" y2="337.1" stroke="#f1f1f1" stroke-width="0.5" />
<line x1="617.6" y1="395.3" x2="617.6" y2="348.5" stroke="#f1f1f1" stroke-width="0.5" />
<line x1="628.0" y1="406.7" x2="628.0" y2="359.9" stroke="#f1f1f1" stroke-width="0.5" />
<line x1="638.3" y1="418.0" x2="638.3" y2="371.2" stroke="#f1f1f1" stroke-width="0.5" />
<line x1="648.7" y1="429.4" x2="648.7" y2="382.6" stroke="#f1f1f1" stroke-width="0.5" />
<line x1="480.4" y1="351.5" x2="480.4" y2="398.3" stroke="#262626" stroke-width="1.1" />
<line x1="480.4" y1="351.5" x2="482.4" y2="351.1" stroke="#262626" stroke-width="0.8" />
<line x1="480.4" y1="363.2" x2="482.4" y2="362.8" stroke="#262626" stroke-width="0.8" />
<line x1="480.4" y1="374.9" x2="482.4" y2="374.4" stroke="#262626" stroke-width="0.8" />
<line x1="480.4" y1="386.6" x2="482.4" y2="386.2" stroke="#262626" stroke-width="0.8" />
<line x1="480.4" y1="398.3" x2="482.4" y2="397.9" stroke="#262626" stroke-width="0.8" />
<line x1="480.4" y1="398.3" x2="533.4" y2="457.6" stroke="#262626" stroke-width="1.1" />
<line x1="490.8" y1="409.9" x2="493.0" y2="409.4" stroke="#262626" stroke-width="0.8" />
<line x1="501.1" y1="421.5" x2="503.3" y2="421.0" stroke="#262626" stroke-width="0.8" />
<line x1="511.5" y1="433.0" x2="513.7" y2="432.5" stroke="#262626" stroke-width="0.8" />
<line x1="521.8" y1="444.6" x2="524.0" y2="444.1" stroke="#262626" stroke-width="0.8" />
<line x1="532.2" y1="456.2" x2="534.4" y2="455.7" stroke="#262626" stroke-width="0.8" />
<line x1="533.4" y1="457.6" x2="650.1" y2="430.6" stroke="#262626" stroke-width="1.1" />
<line x1="556.2" y1="452.3" x2="554.6" y2="450.5" stroke="#262626" stroke-width="0.8" />
<line x1="579.0" y1="447.1" x2="577.4" y2="445.3" stroke="#262626" stroke-width="0.8" />
<line x1="601.8" y1="441.8" x2="600.2" y2="440.0" stroke="#262626" stroke-width="0.8" />
<line x1="624.6" y1="436.5" x2="623.0" y2="434.7" stroke="#262626" stroke-width="0.8" />
<line x1="647.4" y1="431.2" x2="645.8" y2="429.4" stroke="#262626" stroke-width="0.8" />
<text x="473.9" y="356.3" font-family='"Liberation Sans", sans-serif' font-size="8.6" font-weight="bold" fill="#303030" text-anchor="middle" >3</text>
<text x="473.9" y="366.9" font-family='"Liberation Sans", sans-serif' font-size="8.6" font-weight="bold" fill="#303030" text-anchor="middle" >2</text>
<text x="473.9" y="377.6" font-family='"Liberation Sans", sans-serif' font-size="8.6" font-weight="bold" fill="#303030" text-anchor="middle" >1</text>
<text x="473.9" y="387.4" font-family='"Liberation Sans", sans-serif' font-size="8.6" font-weight="bold" fill="#303030" text-anchor="middle" >0</text>
<text x="471.4" y="398.0" font-family='"Liberation Sans", sans-serif' font-size="8.6" font-weight="bold" fill="#303030" text-anchor="middle" >-1</text>
<text x="472.1" y="409.2" font-family='"Liberation Sans", sans-serif' font-size="8.6" font-weight="bold" fill="#303030" text-anchor="middle" >0</text>
<text x="479.2" y="420.2" font-family='"Liberation Sans", sans-serif' font-size="8.6" font-weight="bold" fill="#303030" text-anchor="middle" >50</text>
<text x="487.2" y="431.8" font-family='"Liberation Sans", sans-serif' font-size="8.6" font-weight="bold" fill="#303030" text-anchor="middle" >100</text>
<text x="497.4" y="443.2" font-family='"Liberation Sans", sans-serif' font-size="8.6" font-weight="bold" fill="#303030" text-anchor="middle" >150</text>
<text x="507.3" y="454.9" font-family='"Liberation Sans", sans-serif' font-size="8.6" font-weight="bold" fill="#303030" text-anchor="middle" >200</text>
<text x="517.5" y="466.5" font-family='"Liberation Sans", sans-serif' font-size="8.6" font-weight="bold" fill="#303030" text-anchor="middle" >250</text>
<text x="538.6" y="469.4" font-family='"Liberation Sans", sans-serif' font-size="8.6" font-weight="bold" fill="#303030" text-anchor="middle" >0</text>
<text x="564.1" y="465.7" font-family='"Liberation Sans", sans-serif' font-size="8.6" font-weight="bold" fill="#303030" text-anchor="middle" >50</text>
<text x="588.9" y="461.3" font-family='"Liberation Sans", sans-serif' font-size="8.6" font-weight="bold" fill="#303030" text-anchor="middle" >100</text>
<text x="613.6" y="457.0" font-family='"Liberation Sans", sans-serif' font-size="8.6" font-weight="bold" fill="#303030" text-anchor="middle" >150</text>
<text x="637.0" y="450.5" font-family='"Liberation Sans", sans-serif' font-size="8.6" font-weight="bold" fill="#303030" text-anchor="middle" >200</text>
<text x="655.9" y="446.0" font-family='"Liberation Sans", sans-serif' font-size="8.6" font-weight="bold" fill="#303030" text-anchor="middle" >250</text>
<path d="M480.4,388.0 L596.9,362.2 L609.5,364.7 L611.5,377.8 L614.8,384.4 L624.0,392.2 L649.9,420.5 L533.4,446.3 Z" fill="#046cfc"/>
<g clip-path="url(#sc3)"><g filter="url(#blur3)">
<ellipse cx="592.0" cy="392.0" rx="36.0" ry="15.0" fill="#10a8f8" opacity="1"/>
<ellipse cx="594.0" cy="390.0" rx="29.0" ry="11.0" fill="#10d0f8" opacity="1"/>
<ellipse cx="596.0" cy="389.0" rx="21.0" ry="7.0" fill="#28e4f4" opacity="1"/>
<ellipse cx="611.0" cy="394.0" rx="10.0" ry="9.0" fill="#10c8f8" opacity="1"/>
</g><g filter="url(#blur2)">
<ellipse cx="550.8" cy="385.0" rx="6.0" ry="4.0" fill="#0438c8" opacity="0.9"/>
<ellipse cx="540.4" cy="395.0" rx="6.5" ry="3.5" fill="#0438c8" opacity="0.55"/>
<ellipse cx="567.0" cy="402.5" rx="6.5" ry="3.3" fill="#0438c8" opacity="0.55"/>
<ellipse cx="587.3" cy="406.5" rx="6.5" ry="3.3" fill="#0438c8" opacity="0.55"/>
<ellipse cx="609.8" cy="410.5" rx="6.5" ry="3.3" fill="#0438c8" opacity="0.5"/>
<ellipse cx="618.0" cy="396.2" rx="6.0" ry="10.0" fill="#0858e8" opacity="0.7" transform="rotate(-35 618.0 396.2)"/>
</g>
<path d="M606.5,362.0 L609.5,364.7 L611.5,377.8 L614.8,384.4 L624.0,392.2 L616.0,396.2 L607.5,388.0 Z" fill="url(#vg4)" filter="url(#blur1)"/>
</g>
<path d="M543.0,374.3 L559.5,373.4 L563.0,376.0 L562.0,384.0 L550.0,382.0 Z" fill="#046cfc"/>
<path d="M557.5,374.0 C558.3,372.1 559.2,373.3 560.0,372.5 C560.8,371.7 561.7,369.1 562.5,369.0 C563.3,368.9 564.8,369.8 565.0,372.0 C565.2,374.2 564.8,379.7 564.0,382.0 C563.2,384.3 561.5,385.7 560.0,386.0 C558.5,386.3 555.4,386.0 555.0,384.0 C554.6,382.0 556.7,375.9 557.5,374.0 Z" fill="#14d4f8" filter="url(#blur1)"/>
<path d="M558.4,373.2 C558.9,372.0 560.4,370.7 561.6,368.6 C562.8,366.5 564.3,363.0 565.6,360.7 C566.9,358.4 568.3,356.1 569.5,354.8 C570.7,353.5 571.6,352.9 572.8,353.1 C574.0,353.3 575.4,354.8 576.7,356.2 C578.0,357.6 579.4,360.2 580.7,361.4 C582.0,362.6 582.6,363.6 584.6,363.4 C586.6,363.2 589.7,361.5 592.5,360.1 C595.4,358.7 599.1,356.0 601.7,354.8 C604.3,353.6 606.9,351.9 608.0,353.1 C609.2,354.3 608.5,358.9 608.6,362.0 C608.7,365.1 608.5,368.8 608.6,372.0 C608.8,375.2 609.2,378.2 609.5,381.0 C609.8,383.8 610.8,386.6 610.5,388.5 C610.3,390.4 610.6,392.0 608.0,392.3 C605.4,392.5 599.8,391.0 595.0,390.0 C590.2,389.0 583.8,387.4 579.0,386.5 C574.2,385.6 569.3,385.1 566.0,384.5 C562.8,383.9 560.8,384.4 559.5,383.0 C558.3,381.6 558.7,377.6 558.5,376.0 C558.3,374.4 557.9,374.4 558.4,373.2 Z" fill="url(#vg5)"/>
<path d="M560.0,371.0 C559.9,368.6 564.0,363.4 565.6,360.7 C567.2,358.0 568.3,356.1 569.5,354.8 C570.7,353.5 571.6,352.9 572.8,353.1 C574.0,353.3 575.4,354.8 576.7,356.2 C578.0,357.6 579.4,359.8 580.7,361.4 C582.0,363.0 585.0,364.1 584.6,366.0 C584.2,367.9 581.1,371.5 578.0,373.0 C574.9,374.5 569.0,375.3 566.0,375.0 C563.0,374.7 560.1,373.4 560.0,371.0 Z" fill="url(#vg6)"/>
<path d="M583.0,381.0 C582.2,378.9 584.0,374.3 585.0,372.0 C586.0,369.7 587.3,368.4 589.0,367.3 C590.7,366.2 593.3,365.6 595.0,365.3 C596.8,365.0 598.2,365.1 599.5,365.6 C600.8,366.1 602.0,367.1 603.0,368.5 C604.0,369.9 604.9,371.8 605.5,374.0 C606.1,376.2 607.4,380.1 606.5,382.0 C605.6,383.9 602.8,385.1 600.0,385.5 C597.3,385.9 592.8,385.2 590.0,384.5 C587.2,383.8 583.8,383.1 583.0,381.0 Z" fill="url(#vg7)"/>
<path d="M583.5,371.5 C583.6,370.8 584.3,369.2 585.0,368.5 C585.8,367.8 587.2,367.2 588.0,367.3 C588.8,367.4 590.2,368.2 590.0,369.0 C589.8,369.8 587.9,371.4 587.0,372.0 C586.1,372.6 585.1,372.6 584.5,372.5 C583.9,372.4 583.4,372.2 583.5,371.5 Z" fill="#50e8d8" filter="url(#blur1)"/>
<path d="M561.1,370.3 C560.8,371.2 559.9,374.3 559.5,376.0 C559.1,377.7 558.8,379.4 558.9,380.4 C559.0,381.3 557.9,381.1 560.2,381.7 C562.5,382.3 567.5,382.9 572.5,383.9 C577.5,384.8 584.9,386.4 590.0,387.4 C595.1,388.4 599.6,389.5 603.1,390.0 C606.6,390.5 609.4,390.6 611.0,390.4 C612.6,390.2 612.4,389.0 612.7,388.7" fill="none" stroke="#b84a38" stroke-width="0.9"/>
<path d="M562.0,369.0 C562.1,370.0 562.7,373.5 562.4,375.1 C562.1,376.7 560.0,377.7 560.2,378.6 C560.4,379.6 560.9,380.1 563.7,380.8 C566.5,381.5 572.5,381.9 576.9,382.6 C581.3,383.3 585.6,384.3 590.0,385.2 C594.4,386.1 599.9,387.2 603.1,387.8 C606.3,388.4 607.9,388.8 609.2,388.7 C610.5,388.6 610.7,387.6 611.0,387.4" fill="none" stroke="#2a48c0" stroke-width="0.9"/>
<path d="M584.5,372.2 C584.8,371.8 585.7,370.4 586.5,369.8 C587.3,369.1 588.3,368.7 589.5,368.3 C590.7,367.9 591.8,367.8 593.5,367.6 C595.3,367.4 597.2,367.4 600.0,367.3 C602.8,367.2 608.4,366.9 610.1,366.8" fill="none" stroke="#b84a38" stroke-width="0.9"/>
<path d="M583.0,371.6 C583.3,371.2 584.1,369.7 585.0,369.0 C585.9,368.3 586.9,367.7 588.2,367.2 C589.5,366.7 590.6,366.3 592.6,366.0 C594.6,365.7 597.1,365.5 600.0,365.2 C602.9,364.9 608.4,364.4 610.1,364.2" fill="none" stroke="#2a48c0" stroke-width="0.9"/>
<line x1="591.8" y1="350.0" x2="591.8" y2="364.0" stroke="#000" stroke-width="1.6" />
<path d="M589.8,363.0 L593.8,363.0 L591.8,366.5 Z" fill="none" stroke="#000" stroke-width="1"/>
<rect x="576.4" y="328.2" width="62.5" height="22" fill="#fff" stroke="#d0d0d0" stroke-width="0.7"/>
<line x1="578.4" y1="333.8" x2="590.0" y2="333.8" stroke="#e05050" stroke-width="1.1" />
<line x1="578.4" y1="344.3" x2="590.0" y2="344.3" stroke="#4040e0" stroke-width="1.1" />
<text x="591.2" y="337.0" font-family='"Liberation Sans", sans-serif' font-size="8.3" font-weight="bold" fill="#111" text-anchor="start" >1.0 contour</text>
<text x="591.2" y="347.3" font-family='"Liberation Sans", sans-serif' font-size="8.3" font-weight="bold" fill="#111" text-anchor="start" >1.2 contour</text>
<text x="443.0" y="338.5" font-family='"Liberation Sans", sans-serif' font-size="13" font-weight="bold" fill="#000" text-anchor="start" >After TBS 240min</text>
<line x1="50.1" y1="730.7" x2="50.1" y2="683.9" stroke="#f1f1f1" stroke-width="0.5" />
<line x1="72.9" y1="725.7" x2="72.9" y2="678.9" stroke="#f1f1f1" stroke-width="0.5" />
<line x1="95.6" y1="720.6" x2="95.6" y2="673.8" stroke="#f1f1f1" stroke-width="0.5" />
<line x1="118.4" y1="715.6" x2="118.4" y2="668.8" stroke="#f1f1f1" stroke-width="0.5" />
<line x1="141.1" y1="710.5" x2="141.1" y2="663.7" stroke="#f1f1f1" stroke-width="0.5" />
<line x1="163.9" y1="705.5" x2="163.9" y2="658.7" stroke="#f1f1f1" stroke-width="0.5" />
<line x1="50.1" y1="683.9" x2="166.6" y2="658.1" stroke="#f1f1f1" stroke-width="0.5" />
<line x1="166.6" y1="658.1" x2="219.6" y2="716.4" stroke="#f1f1f1" stroke-width="0.5" />
<line x1="50.1" y1="695.6" x2="166.6" y2="669.8" stroke="#f1f1f1" stroke-width="0.5" />
<line x1="166.6" y1="669.8" x2="219.6" y2="728.1" stroke="#f1f1f1" stroke-width="0.5" />
<line x1="50.1" y1="707.3" x2="166.6" y2="681.5" stroke="#f1f1f1" stroke-width="0.5" />
<line x1="166.6" y1="681.5" x2="219.6" y2="739.8" stroke="#f1f1f1" stroke-width="0.5" />
<line x1="50.1" y1="719.0" x2="166.6" y2="693.2" stroke="#f1f1f1" stroke-width="0.5" />
<line x1="166.6" y1="693.2" x2="219.6" y2="751.5" stroke="#f1f1f1" stroke-width="0.5" />
<line x1="50.1" y1="730.7" x2="166.6" y2="704.9" stroke="#f1f1f1" stroke-width="0.5" />
<line x1="166.6" y1="704.9" x2="219.6" y2="763.2" stroke="#f1f1f1" stroke-width="0.5" />
<line x1="166.6" y1="704.9" x2="166.6" y2="658.1" stroke="#f1f1f1" stroke-width="0.5" />
<line x1="177.0" y1="716.3" x2="177.0" y2="669.5" stroke="#f1f1f1" stroke-width="0.5" />
<line x1="187.3" y1="727.7" x2="187.3" y2="680.9" stroke="#f1f1f1" stroke-width="0.5" />
<line x1="197.7" y1="739.1" x2="197.7" y2="692.3" stroke="#f1f1f1" stroke-width="0.5" />
<line x1="208.0" y1="750.4" x2="208.0" y2="703.6" stroke="#f1f1f1" stroke-width="0.5" />
<line x1="218.4" y1="761.8" x2="218.4" y2="715.0" stroke="#f1f1f1" stroke-width="0.5" />
<line x1="50.1" y1="683.9" x2="50.1" y2="730.7" stroke="#262626" stroke-width="1.1" />
<line x1="50.1" y1="683.9" x2="52.1" y2="683.4" stroke="#262626" stroke-width="0.8" />
<line x1="50.1" y1="695.6" x2="52.1" y2="695.1" stroke="#262626" stroke-width="0.8" />
<line x1="50.1" y1="707.3" x2="52.1" y2="706.8" stroke="#262626" stroke-width="0.8" />
<line x1="50.1" y1="719.0" x2="52.1" y2="718.5" stroke="#262626" stroke-width="0.8" />
<line x1="50.1" y1="730.7" x2="52.1" y2="730.2" stroke="#262626" stroke-width="0.8" />
<line x1="50.1" y1="730.7" x2="103.1" y2="790.0" stroke="#262626" stroke-width="1.1" />
<line x1="60.5" y1="742.3" x2="62.7" y2="741.8" stroke="#262626" stroke-width="0.8" />
<line x1="70.8" y1="753.9" x2="73.0" y2="753.4" stroke="#262626" stroke-width="0.8" />
<line x1="81.2" y1="765.4" x2="83.4" y2="764.9" stroke="#262626" stroke-width="0.8" />
<line x1="91.5" y1="777.0" x2="93.7" y2="776.5" stroke="#262626" stroke-width="0.8" />
<line x1="101.9" y1="788.6" x2="104.1" y2="788.1" stroke="#262626" stroke-width="0.8" />
<line x1="103.1" y1="790.0" x2="219.8" y2="763.0" stroke="#262626" stroke-width="1.1" />
<line x1="125.9" y1="784.7" x2="124.3" y2="782.9" stroke="#262626" stroke-width="0.8" />
<line x1="148.7" y1="779.5" x2="147.1" y2="777.7" stroke="#262626" stroke-width="0.8" />
<line x1="171.5" y1="774.2" x2="169.9" y2="772.4" stroke="#262626" stroke-width="0.8" />
<line x1="194.3" y1="768.9" x2="192.7" y2="767.1" stroke="#262626" stroke-width="0.8" />
<line x1="217.1" y1="763.6" x2="215.5" y2="761.8" stroke="#262626" stroke-width="0.8" />
<text x="43.6" y="688.7" font-family='"Liberation Sans", sans-serif' font-size="8.6" font-weight="bold" fill="#303030" text-anchor="middle" >3</text>
<text x="43.6" y="699.3" font-family='"Liberation Sans", sans-serif' font-size="8.6" font-weight="bold" fill="#303030" text-anchor="middle" >2</text>
<text x="43.6" y="710.0" font-family='"Liberation Sans", sans-serif' font-size="8.6" font-weight="bold" fill="#303030" text-anchor="middle" >1</text>
<text x="43.6" y="719.8" font-family='"Liberation Sans", sans-serif' font-size="8.6" font-weight="bold" fill="#303030" text-anchor="middle" >0</text>
<text x="41.1" y="730.4" font-family='"Liberation Sans", sans-serif' font-size="8.6" font-weight="bold" fill="#303030" text-anchor="middle" >-1</text>
<text x="41.8" y="741.6" font-family='"Liberation Sans", sans-serif' font-size="8.6" font-weight="bold" fill="#303030" text-anchor="middle" >0</text>
<text x="48.9" y="752.6" font-family='"Liberation Sans", sans-serif' font-size="8.6" font-weight="bold" fill="#303030" text-anchor="middle" >50</text>
<text x="56.9" y="764.2" font-family='"Liberation Sans", sans-serif' font-size="8.6" font-weight="bold" fill="#303030" text-anchor="middle" >100</text>
<text x="67.1" y="775.6" font-family='"Liberation Sans", sans-serif' font-size="8.6" font-weight="bold" fill="#303030" text-anchor="middle" >150</text>
<text x="77.0" y="787.3" font-family='"Liberation Sans", sans-serif' font-size="8.6" font-weight="bold" fill="#303030" text-anchor="middle" >200</text>
<text x="87.2" y="798.9" font-family='"Liberation Sans", sans-serif' font-size="8.6" font-weight="bold" fill="#303030" text-anchor="middle" >250</text>
<text x="108.3" y="801.8" font-family='"Liberation Sans", sans-serif' font-size="8.6" font-weight="bold" fill="#303030" text-anchor="middle" >0</text>
<text x="133.8" y="798.1" font-family='"Liberation Sans", sans-serif' font-size="8.6" font-weight="bold" fill="#303030" text-anchor="middle" >50</text>
<text x="158.6" y="793.7" font-family='"Liberation Sans", sans-serif' font-size="8.6" font-weight="bold" fill="#303030" text-anchor="middle" >100</text>
<text x="183.3" y="789.4" font-family='"Liberation Sans", sans-serif' font-size="8.6" font-weight="bold" fill="#303030" text-anchor="middle" >150</text>
<text x="206.7" y="782.9" font-family='"Liberation Sans", sans-serif' font-size="8.6" font-weight="bold" fill="#303030" text-anchor="middle" >200</text>
<text x="225.6" y="778.4" font-family='"Liberation Sans", sans-serif' font-size="8.6" font-weight="bold" fill="#303030" text-anchor="middle" >250</text>
<polygon points="50.1,720.4 103.1,778.7 219.6,752.9 166.6,694.6" fill="#046cfc"/>
<g clip-path="url(#sc4)"><g filter="url(#blur3)">
<ellipse cx="155.1" cy="745.1" rx="6.5" ry="3.2" fill="#0448d8" opacity="0.7"/>
<ellipse cx="149.7" cy="758.2" rx="6.5" ry="3.2" fill="#0448d8" opacity="0.7"/>
<ellipse cx="113.0" cy="766.1" rx="6.5" ry="3.2" fill="#0448d8" opacity="0.7"/>
<ellipse cx="86.7" cy="739.9" rx="6.5" ry="3.2" fill="#0448d8" opacity="0.7"/>
<ellipse cx="122.1" cy="750.4" rx="34.0" ry="17.0" fill="#0c98f8" opacity="1"/>
<ellipse cx="121.1" cy="750.4" rx="28.0" ry="14.0" fill="#14d4f8" opacity="1"/>
<ellipse cx="119.1" cy="750.4" rx="21.0" ry="10.0" fill="#2ceaf4" opacity="1"/>
</g><g filter="url(#blur2)">
<ellipse cx="100.1" cy="750.4" rx="7.0" ry="6.0" fill="#40f0f0" opacity="1"/>
<ellipse cx="131.1" cy="752.4" rx="7.0" ry="4.5" fill="#60f0e0" opacity="1"/>
<ellipse cx="121.1" cy="749.4" rx="5.0" ry="3.2" fill="#1a8cf0" opacity="1"/>
</g></g>
<path d="M101.0,738.0 C101.2,737.0 101.5,736.1 103.0,735.3 C104.5,734.5 107.2,733.8 110.0,733.3 C112.8,732.8 116.7,732.3 120.0,732.0 C123.3,731.7 127.5,731.3 130.0,731.4 C132.5,731.5 134.2,731.9 135.0,732.5 C135.8,733.1 135.8,734.4 134.5,735.0 C133.2,735.6 129.8,735.7 127.0,736.0 C124.2,736.3 120.5,736.4 118.0,737.0 C115.5,737.6 113.7,738.4 112.0,739.5 C110.3,740.6 109.3,742.8 108.0,743.5 C106.7,744.2 105.1,744.3 104.0,744.0 C102.9,743.7 102.0,742.5 101.5,741.5 C101.0,740.5 100.8,739.0 101.0,738.0 Z" fill="#78f094" stroke="#b04a3a" stroke-width="0.9" stroke-linejoin="round"/>
<line x1="122.2" y1="715.9" x2="122.2" y2="742.6" stroke="#000" stroke-width="1.6" />
<path d="M120.2,741.6 L124.2,741.6 L122.2,745.1 Z" fill="none" stroke="#000" stroke-width="1"/>
<rect x="146.4" y="660.3" width="62.5" height="22" fill="#fff" stroke="#d0d0d0" stroke-width="0.7"/>
<line x1="148.4" y1="665.9" x2="160.0" y2="665.9" stroke="#e05050" stroke-width="1.1" />
<line x1="148.4" y1="676.4" x2="160.0" y2="676.4" stroke="#4040e0" stroke-width="1.1" />
<text x="161.2" y="669.1" font-family='"Liberation Sans", sans-serif' font-size="8.3" font-weight="bold" fill="#111" text-anchor="start" >1.0 contour</text>
<text x="161.2" y="679.4" font-family='"Liberation Sans", sans-serif' font-size="8.3" font-weight="bold" fill="#111" text-anchor="start" >1.2 contour</text>
<text x="37.3" y="669.4" font-family='"Liberation Sans", sans-serif' font-size="13" font-weight="bold" fill="#000" text-anchor="start" >Baseline</text>
<line x1="265.0" y1="730.6" x2="265.0" y2="683.8" stroke="#f1f1f1" stroke-width="0.5" />
<line x1="287.8" y1="725.6" x2="287.8" y2="678.8" stroke="#f1f1f1" stroke-width="0.5" />
<line x1="310.5" y1="720.5" x2="310.5" y2="673.7" stroke="#f1f1f1" stroke-width="0.5" />
<line x1="333.3" y1="715.5" x2="333.3" y2="668.7" stroke="#f1f1f1" stroke-width="0.5" />
<line x1="356.0" y1="710.4" x2="356.0" y2="663.6" stroke="#f1f1f1" stroke-width="0.5" />
<line x1="378.8" y1="705.4" x2="378.8" y2="658.6" stroke="#f1f1f1" stroke-width="0.5" />
<line x1="265.0" y1="683.8" x2="381.5" y2="658.0" stroke="#f1f1f1" stroke-width="0.5" />
<line x1="381.5" y1="658.0" x2="434.5" y2="716.3" stroke="#f1f1f1" stroke-width="0.5" />
<line x1="265.0" y1="695.5" x2="381.5" y2="669.7" stroke="#f1f1f1" stroke-width="0.5" />
<line x1="381.5" y1="669.7" x2="434.5" y2="728.0" stroke="#f1f1f1" stroke-width="0.5" />
<line x1="265.0" y1="707.2" x2="381.5" y2="681.4" stroke="#f1f1f1" stroke-width="0.5" />
<line x1="381.5" y1="681.4" x2="434.5" y2="739.7" stroke="#f1f1f1" stroke-width="0.5" />
<line x1="265.0" y1="718.9" x2="381.5" y2="693.1" stroke="#f1f1f1" stroke-width="0.5" />
<line x1="381.5" y1="693.1" x2="434.5" y2="751.4" stroke="#f1f1f1" stroke-width="0.5" />
<line x1="265.0" y1="730.6" x2="381.5" y2="704.8" stroke="#f1f1f1" stroke-width="0.5" />
<line x1="381.5" y1="704.8" x2="434.5" y2="763.1" stroke="#f1f1f1" stroke-width="0.5" />
<line x1="381.5" y1="704.8" x2="381.5" y2="658.0" stroke="#f1f1f1" stroke-width="0.5" />
<line x1="391.9" y1="716.2" x2="391.9" y2="669.4" stroke="#f1f1f1" stroke-width="0.5" />
<line x1="402.2" y1="727.6" x2="402.2" y2="680.8" stroke="#f1f1f1" stroke-width="0.5" />
<line x1="412.6" y1="739.0" x2="412.6" y2="692.2" stroke="#f1f1f1" stroke-width="0.5" />
<line x1="422.9" y1="750.3" x2="422.9" y2="703.5" stroke="#f1f1f1" stroke-width="0.5" />
<line x1="433.3" y1="761.7" x2="433.3" y2="714.9" stroke="#f1f1f1" stroke-width="0.5" />
<line x1="265.0" y1="683.8" x2="265.0" y2="730.6" stroke="#262626" stroke-width="1.1" />
<line x1="265.0" y1="683.8" x2="267.0" y2="683.3" stroke="#262626" stroke-width="0.8" />
<line x1="265.0" y1="695.5" x2="267.0" y2="695.0" stroke="#262626" stroke-width="0.8" />
<line x1="265.0" y1="707.2" x2="267.0" y2="706.7" stroke="#262626" stroke-width="0.8" />
<line x1="265.0" y1="718.9" x2="267.0" y2="718.4" stroke="#262626" stroke-width="0.8" />
<line x1="265.0" y1="730.6" x2="267.0" y2="730.1" stroke="#262626" stroke-width="0.8" />
<line x1="265.0" y1="730.6" x2="318.0" y2="789.9" stroke="#262626" stroke-width="1.1" />
<line x1="275.4" y1="742.2" x2="277.6" y2="741.7" stroke="#262626" stroke-width="0.8" />
<line x1="285.7" y1="753.8" x2="287.9" y2="753.3" stroke="#262626" stroke-width="0.8" />
<line x1="296.1" y1="765.3" x2="298.3" y2="764.8" stroke="#262626" stroke-width="0.8" />
<line x1="306.4" y1="776.9" x2="308.6" y2="776.4" stroke="#262626" stroke-width="0.8" />
<line x1="316.8" y1="788.5" x2="319.0" y2="788.0" stroke="#262626" stroke-width="0.8" />
<line x1="318.0" y1="789.9" x2="434.7" y2="762.9" stroke="#262626" stroke-width="1.1" />
<line x1="340.8" y1="784.6" x2="339.2" y2="782.8" stroke="#262626" stroke-width="0.8" />
<line x1="363.6" y1="779.4" x2="362.0" y2="777.6" stroke="#262626" stroke-width="0.8" />
<line x1="386.4" y1="774.1" x2="384.8" y2="772.3" stroke="#262626" stroke-width="0.8" />
<line x1="409.2" y1="768.8" x2="407.6" y2="767.0" stroke="#262626" stroke-width="0.8" />
<line x1="432.0" y1="763.5" x2="430.4" y2="761.7" stroke="#262626" stroke-width="0.8" />
<text x="258.5" y="688.6" font-family='"Liberation Sans", sans-serif' font-size="8.6" font-weight="bold" fill="#303030" text-anchor="middle" >3</text>
<text x="258.5" y="699.2" font-family='"Liberation Sans", sans-serif' font-size="8.6" font-weight="bold" fill="#303030" text-anchor="middle" >2</text>
<text x="258.5" y="709.9" font-family='"Liberation Sans", sans-serif' font-size="8.6" font-weight="bold" fill="#303030" text-anchor="middle" >1</text>
<text x="258.5" y="719.7" font-family='"Liberation Sans", sans-serif' font-size="8.6" font-weight="bold" fill="#303030" text-anchor="middle" >0</text>
<text x="256.0" y="730.3" font-family='"Liberation Sans", sans-serif' font-size="8.6" font-weight="bold" fill="#303030" text-anchor="middle" >-1</text>
<text x="256.7" y="741.5" font-family='"Liberation Sans", sans-serif' font-size="8.6" font-weight="bold" fill="#303030" text-anchor="middle" >0</text>
<text x="263.8" y="752.5" font-family='"Liberation Sans", sans-serif' font-size="8.6" font-weight="bold" fill="#303030" text-anchor="middle" >50</text>
<text x="271.8" y="764.1" font-family='"Liberation Sans", sans-serif' font-size="8.6" font-weight="bold" fill="#303030" text-anchor="middle" >100</text>
<text x="282.0" y="775.5" font-family='"Liberation Sans", sans-serif' font-size="8.6" font-weight="bold" fill="#303030" text-anchor="middle" >150</text>
<text x="291.9" y="787.2" font-family='"Liberation Sans", sans-serif' font-size="8.6" font-weight="bold" fill="#303030" text-anchor="middle" >200</text>
<text x="302.1" y="798.8" font-family='"Liberation Sans", sans-serif' font-size="8.6" font-weight="bold" fill="#303030" text-anchor="middle" >250</text>
<text x="323.2" y="801.7" font-family='"Liberation Sans", sans-serif' font-size="8.6" font-weight="bold" fill="#303030" text-anchor="middle" >0</text>
<text x="348.7" y="798.0" font-family='"Liberation Sans", sans-serif' font-size="8.6" font-weight="bold" fill="#303030" text-anchor="middle" >50</text>
<text x="373.5" y="793.6" font-family='"Liberation Sans", sans-serif' font-size="8.6" font-weight="bold" fill="#303030" text-anchor="middle" >100</text>
<text x="398.2" y="789.3" font-family='"Liberation Sans", sans-serif' font-size="8.6" font-weight="bold" fill="#303030" text-anchor="middle" >150</text>
<text x="421.6" y="782.8" font-family='"Liberation Sans", sans-serif' font-size="8.6" font-weight="bold" fill="#303030" text-anchor="middle" >200</text>
<text x="440.5" y="778.3" font-family='"Liberation Sans", sans-serif' font-size="8.6" font-weight="bold" fill="#303030" text-anchor="middle" >250</text>
<polygon points="265.0,720.3 318.0,778.6 434.5,752.8 381.5,694.5" fill="#046cfc"/>
<g clip-path="url(#sc5)"><g filter="url(#blur3)">
<ellipse cx="370.0" cy="745.0" rx="6.5" ry="3.2" fill="#0448d8" opacity="0.7"/>
<ellipse cx="364.6" cy="758.1" rx="6.5" ry="3.2" fill="#0448d8" opacity="0.7"/>
<ellipse cx="327.9" cy="766.0" rx="6.5" ry="3.2" fill="#0448d8" opacity="0.7"/>
<ellipse cx="301.6" cy="739.8" rx="6.5" ry="3.2" fill="#0448d8" opacity="0.7"/>
<ellipse cx="337.0" cy="750.3" rx="34.0" ry="17.0" fill="#0c98f8" opacity="1"/>
<ellipse cx="336.0" cy="750.3" rx="28.0" ry="14.0" fill="#14d4f8" opacity="1"/>
<ellipse cx="334.0" cy="750.3" rx="21.0" ry="10.0" fill="#2ceaf4" opacity="1"/>
</g><g filter="url(#blur2)">
<ellipse cx="315.0" cy="750.3" rx="7.0" ry="6.0" fill="#40f0f0" opacity="1"/>
<ellipse cx="346.0" cy="752.3" rx="7.0" ry="4.5" fill="#60f0e0" opacity="1"/>
<ellipse cx="336.0" cy="749.3" rx="5.0" ry="3.2" fill="#1a8cf0" opacity="1"/>
</g></g>
<path d="M325.0,739.0 C325.0,737.5 326.7,736.1 328.0,735.0 C329.3,733.9 331.0,733.0 333.0,732.5 C335.0,732.0 337.8,732.0 340.0,731.8 C342.2,731.6 344.0,731.3 346.0,731.5 C348.0,731.7 350.7,732.2 352.0,733.0 C353.3,733.8 354.3,735.6 354.0,736.5 C353.7,737.4 351.8,738.3 350.0,738.5 C348.2,738.7 345.3,737.7 343.0,737.5 C340.7,737.3 338.0,737.1 336.0,737.5 C334.0,737.9 332.3,738.9 331.0,740.0 C329.7,741.1 329.0,744.2 328.0,744.0 C327.0,743.8 325.0,740.5 325.0,739.0 Z" fill="#8cf070" stroke="#b04a3a" stroke-width="0.9"/>
<path d="M311.5,738.0 C311.5,736.4 311.9,735.0 313.0,734.0 C314.1,733.0 316.2,732.2 318.0,732.0 C319.8,731.8 322.4,731.9 324.0,732.5 C325.6,733.1 326.8,734.1 327.5,735.5 C328.2,736.9 328.4,739.3 328.0,741.0 C327.6,742.7 326.7,744.7 325.0,745.5 C323.3,746.3 320.0,746.3 318.0,746.0 C316.0,745.7 314.1,744.8 313.0,743.5 C311.9,742.2 311.5,739.6 311.5,738.0 Z" fill="#98f068" stroke="#b04a3a" stroke-width="0.9"/>
<path d="M313.5,737.5 C313.6,736.2 314.1,735.2 315.0,734.5 C315.9,733.8 317.5,733.6 319.0,733.5 C320.5,733.4 322.8,733.5 324.0,734.0 C325.2,734.5 325.7,735.3 326.0,736.5 C326.3,737.7 326.4,739.8 326.0,741.0 C325.6,742.2 324.8,743.3 323.5,743.8 C322.2,744.3 319.5,744.3 318.0,744.0 C316.5,743.7 315.2,743.1 314.5,742.0 C313.8,740.9 313.4,738.8 313.5,737.5 Z" fill="#c8f040" stroke="#2a48c0" stroke-width="0.9"/>
<path d="M340.0,733.0 C340.2,732.1 342.3,731.1 344.0,730.8 C345.7,730.5 348.2,730.5 350.0,731.0 C351.8,731.5 353.8,732.6 354.5,733.5 C355.2,734.4 355.1,735.9 354.0,736.5 C352.9,737.1 349.8,737.1 348.0,737.0 C346.2,736.9 344.3,736.7 343.0,736.0 C341.7,735.3 339.8,733.9 340.0,733.0 Z" fill="#98f068" stroke="#b04a3a" stroke-width="0.9"/>
<path d="M343.0,733.0 C343.3,732.5 344.8,732.0 346.0,731.8 C347.2,731.6 348.8,731.6 350.0,732.0 C351.2,732.4 352.7,733.4 353.0,734.0 C353.3,734.6 353.0,735.2 352.0,735.5 C351.0,735.8 348.3,735.8 347.0,735.6 C345.7,735.5 344.7,735.0 344.0,734.6 C343.3,734.2 342.7,733.5 343.0,733.0 Z" fill="#b0f050" stroke="#2a48c0" stroke-width="0.9"/>
<path d="M331.5,748.0 C331.2,746.8 332.6,745.5 334.0,744.5 C335.4,743.5 337.7,742.5 340.0,742.0 C342.3,741.5 345.8,741.2 348.0,741.5 C350.2,741.8 351.8,742.4 353.0,743.5 C354.2,744.6 355.2,746.7 355.0,748.0 C354.8,749.3 353.8,750.8 352.0,751.5 C350.2,752.2 346.7,752.5 344.0,752.5 C341.3,752.5 338.1,752.2 336.0,751.5 C333.9,750.8 331.8,749.2 331.5,748.0 Z" fill="#98f068" stroke="#b04a3a" stroke-width="0.9"/>
<path d="M333.5,747.5 C332.8,746.6 334.9,745.2 336.0,744.0 C337.1,742.8 338.6,741.1 340.0,740.0 C341.4,738.9 343.1,737.4 344.5,737.2 C345.9,737.0 347.3,738.0 348.5,739.0 C349.7,740.0 350.8,741.6 351.5,743.0 C352.2,744.4 353.6,746.4 353.0,747.5 C352.4,748.6 350.2,749.2 348.0,749.6 C345.8,750.0 342.4,750.0 340.0,749.6 C337.6,749.2 334.2,748.4 333.5,747.5 Z" fill="url(#vg8)" stroke="#2a48c0" stroke-width="0.9"/>
<line x1="337.1" y1="715.8" x2="337.1" y2="742.5" stroke="#000" stroke-width="1.6" />
<path d="M335.1,741.5 L339.1,741.5 L337.1,745.0 Z" fill="none" stroke="#000" stroke-width="1"/>
<rect x="361.3" y="660.3" width="62.5" height="22" fill="#fff" stroke="#d0d0d0" stroke-width="0.7"/>
<line x1="363.3" y1="665.9" x2="374.9" y2="665.9" stroke="#e05050" stroke-width="1.1" />
<line x1="363.3" y1="676.4" x2="374.9" y2="676.4" stroke="#4040e0" stroke-width="1.1" />
<text x="376.1" y="669.1" font-family='"Liberation Sans", sans-serif' font-size="8.3" font-weight="bold" fill="#111" text-anchor="start" >1.0 contour</text>
<text x="376.1" y="679.4" font-family='"Liberation Sans", sans-serif' font-size="8.3" font-weight="bold" fill="#111" text-anchor="start" >1.2 contour</text>
<text x="227.7" y="672.3" font-family='"Liberation Sans", sans-serif' font-size="13" font-weight="bold" fill="#000" text-anchor="start" >After TBS 120min</text>
<line x1="480.5" y1="730.6" x2="480.5" y2="683.8" stroke="#f1f1f1" stroke-width="0.5" />
<line x1="503.3" y1="725.6" x2="503.3" y2="678.8" stroke="#f1f1f1" stroke-width="0.5" />
<line x1="526.0" y1="720.5" x2="526.0" y2="673.7" stroke="#f1f1f1" stroke-width="0.5" />
<line x1="548.8" y1="715.5" x2="548.8" y2="668.7" stroke="#f1f1f1" stroke-width="0.5" />
<line x1="571.5" y1="710.4" x2="571.5" y2="663.6" stroke="#f1f1f1" stroke-width="0.5" />
<line x1="594.3" y1="705.4" x2="594.3" y2="658.6" stroke="#f1f1f1" stroke-width="0.5" />
<line x1="480.5" y1="683.8" x2="597.0" y2="658.0" stroke="#f1f1f1" stroke-width="0.5" />
<line x1="597.0" y1="658.0" x2="650.0" y2="716.3" stroke="#f1f1f1" stroke-width="0.5" />
<line x1="480.5" y1="695.5" x2="597.0" y2="669.7" stroke="#f1f1f1" stroke-width="0.5" />
<line x1="597.0" y1="669.7" x2="650.0" y2="728.0" stroke="#f1f1f1" stroke-width="0.5" />
<line x1="480.5" y1="707.2" x2="597.0" y2="681.4" stroke="#f1f1f1" stroke-width="0.5" />
<line x1="597.0" y1="681.4" x2="650.0" y2="739.7" stroke="#f1f1f1" stroke-width="0.5" />
<line x1="480.5" y1="718.9" x2="597.0" y2="693.1" stroke="#f1f1f1" stroke-width="0.5" />
<line x1="597.0" y1="693.1" x2="650.0" y2="751.4" stroke="#f1f1f1" stroke-width="0.5" />
<line x1="480.5" y1="730.6" x2="597.0" y2="704.8" stroke="#f1f1f1" stroke-width="0.5" />
<line x1="597.0" y1="704.8" x2="650.0" y2="763.1" stroke="#f1f1f1" stroke-width="0.5" />
<line x1="597.0" y1="704.8" x2="597.0" y2="658.0" stroke="#f1f1f1" stroke-width="0.5" />
<line x1="607.4" y1="716.2" x2="607.4" y2="669.4" stroke="#f1f1f1" stroke-width="0.5" />
<line x1="617.7" y1="727.6" x2="617.7" y2="680.8" stroke="#f1f1f1" stroke-width="0.5" />
<line x1="628.1" y1="739.0" x2="628.1" y2="692.2" stroke="#f1f1f1" stroke-width="0.5" />
<line x1="638.4" y1="750.3" x2="638.4" y2="703.5" stroke="#f1f1f1" stroke-width="0.5" />
<line x1="648.8" y1="761.7" x2="648.8" y2="714.9" stroke="#f1f1f1" stroke-width="0.5" />
<line x1="480.5" y1="683.8" x2="480.5" y2="730.6" stroke="#262626" stroke-width="1.1" />
<line x1="480.5" y1="683.8" x2="482.5" y2="683.3" stroke="#262626" stroke-width="0.8" />
<line x1="480.5" y1="695.5" x2="482.5" y2="695.0" stroke="#262626" stroke-width="0.8" />
<line x1="480.5" y1="707.2" x2="482.5" y2="706.7" stroke="#262626" stroke-width="0.8" />
<line x1="480.5" y1="718.9" x2="482.5" y2="718.4" stroke="#262626" stroke-width="0.8" />
<line x1="480.5" y1="730.6" x2="482.5" y2="730.1" stroke="#262626" stroke-width="0.8" />
<line x1="480.5" y1="730.6" x2="533.5" y2="789.9" stroke="#262626" stroke-width="1.1" />
<line x1="490.9" y1="742.2" x2="493.1" y2="741.7" stroke="#262626" stroke-width="0.8" />
<line x1="501.2" y1="753.8" x2="503.4" y2="753.3" stroke="#262626" stroke-width="0.8" />
<line x1="511.6" y1="765.3" x2="513.8" y2="764.8" stroke="#262626" stroke-width="0.8" />
<line x1="521.9" y1="776.9" x2="524.1" y2="776.4" stroke="#262626" stroke-width="0.8" />
<line x1="532.3" y1="788.5" x2="534.5" y2="788.0" stroke="#262626" stroke-width="0.8" />
<line x1="533.5" y1="789.9" x2="650.2" y2="762.9" stroke="#262626" stroke-width="1.1" />
<line x1="556.3" y1="784.6" x2="554.7" y2="782.8" stroke="#262626" stroke-width="0.8" />
<line x1="579.1" y1="779.4" x2="577.5" y2="777.6" stroke="#262626" stroke-width="0.8" />
<line x1="601.9" y1="774.1" x2="600.3" y2="772.3" stroke="#262626" stroke-width="0.8" />
<line x1="624.7" y1="768.8" x2="623.1" y2="767.0" stroke="#262626" stroke-width="0.8" />
<line x1="647.5" y1="763.5" x2="645.9" y2="761.7" stroke="#262626" stroke-width="0.8" />
<text x="474.0" y="688.6" font-family='"Liberation Sans", sans-serif' font-size="8.6" font-weight="bold" fill="#303030" text-anchor="middle" >3</text>
<text x="474.0" y="699.2" font-family='"Liberation Sans", sans-serif' font-size="8.6" font-weight="bold" fill="#303030" text-anchor="middle" >2</text>
<text x="474.0" y="709.9" font-family='"Liberation Sans", sans-serif' font-size="8.6" font-weight="bold" fill="#303030" text-anchor="middle" >1</text>
<text x="474.0" y="719.7" font-family='"Liberation Sans", sans-serif' font-size="8.6" font-weight="bold" fill="#303030" text-anchor="middle" >0</text>
<text x="471.5" y="730.3" font-family='"Liberation Sans", sans-serif' font-size="8.6" font-weight="bold" fill="#303030" text-anchor="middle" >-1</text>
<text x="472.2" y="741.5" font-family='"Liberation Sans", sans-serif' font-size="8.6" font-weight="bold" fill="#303030" text-anchor="middle" >0</text>
<text x="479.3" y="752.5" font-family='"Liberation Sans", sans-serif' font-size="8.6" font-weight="bold" fill="#303030" text-anchor="middle" >50</text>
<text x="487.3" y="764.1" font-family='"Liberation Sans", sans-serif' font-size="8.6" font-weight="bold" fill="#303030" text-anchor="middle" >100</text>
<text x="497.5" y="775.5" font-family='"Liberation Sans", sans-serif' font-size="8.6" font-weight="bold" fill="#303030" text-anchor="middle" >150</text>
<text x="507.4" y="787.2" font-family='"Liberation Sans", sans-serif' font-size="8.6" font-weight="bold" fill="#303030" text-anchor="middle" >200</text>
<text x="517.6" y="798.8" font-family='"Liberation Sans", sans-serif' font-size="8.6" font-weight="bold" fill="#303030" text-anchor="middle" >250</text>
<text x="538.7" y="801.7" font-family='"Liberation Sans", sans-serif' font-size="8.6" font-weight="bold" fill="#303030" text-anchor="middle" >0</text>
<text x="564.2" y="798.0" font-family='"Liberation Sans", sans-serif' font-size="8.6" font-weight="bold" fill="#303030" text-anchor="middle" >50</text>
<text x="589.0" y="793.6" font-family='"Liberation Sans", sans-serif' font-size="8.6" font-weight="bold" fill="#303030" text-anchor="middle" >100</text>
<text x="613.7" y="789.3" font-family='"Liberation Sans", sans-serif' font-size="8.6" font-weight="bold" fill="#303030" text-anchor="middle" >150</text>
<text x="637.1" y="782.8" font-family='"Liberation Sans", sans-serif' font-size="8.6" font-weight="bold" fill="#303030" text-anchor="middle" >200</text>
<text x="656.0" y="778.3" font-family='"Liberation Sans", sans-serif' font-size="8.6" font-weight="bold" fill="#303030" text-anchor="middle" >250</text>
<polygon points="480.5,720.3 533.5,778.6 650.0,752.8 597.0,694.5" fill="#046cfc"/>
<g clip-path="url(#sc6)"><g filter="url(#blur3)">
<ellipse cx="585.5" cy="745.0" rx="6.5" ry="3.2" fill="#0448d8" opacity="0.7"/>
<ellipse cx="580.1" cy="758.1" rx="6.5" ry="3.2" fill="#0448d8" opacity="0.7"/>
<ellipse cx="543.4" cy="766.0" rx="6.5" ry="3.2" fill="#0448d8" opacity="0.7"/>
<ellipse cx="517.1" cy="739.8" rx="6.5" ry="3.2" fill="#0448d8" opacity="0.7"/>
<ellipse cx="552.5" cy="750.3" rx="34.0" ry="17.0" fill="#0c98f8" opacity="1"/>
<ellipse cx="551.5" cy="750.3" rx="28.0" ry="14.0" fill="#14d4f8" opacity="1"/>
<ellipse cx="549.5" cy="750.3" rx="21.0" ry="10.0" fill="#2ceaf4" opacity="1"/>
</g><g filter="url(#blur2)">
<ellipse cx="530.5" cy="750.3" rx="7.0" ry="6.0" fill="#40f0f0" opacity="1"/>
<ellipse cx="561.5" cy="752.3" rx="7.0" ry="4.5" fill="#60f0e0" opacity="1"/>
<ellipse cx="551.5" cy="749.3" rx="5.0" ry="3.2" fill="#1a8cf0" opacity="1"/>
</g></g>
<ellipse cx="535.5" cy="742.5" rx="7" ry="5" fill="#70f0c0" opacity="0.8" filter="url(#blur2)"/>
<ellipse cx="547.7" cy="746.9" rx="4" ry="3" fill="#1a8cf0" opacity="0.8" filter="url(#blur1)"/>
<path d="M554.7,733.3 C555.5,732.7 558.0,731.8 560.0,731.6 C562.0,731.5 565.0,731.8 567.0,732.4 C569.0,733.0 571.1,734.5 572.2,735.5 C573.3,736.5 573.9,737.2 573.6,738.1 C573.3,739.0 571.9,740.2 570.5,740.7 C569.1,741.2 566.7,741.5 565.2,741.2 C563.7,740.9 562.9,739.8 561.7,739.0 C560.5,738.2 559.3,737.0 558.2,736.4 C557.1,735.8 555.8,735.6 555.2,735.1 C554.6,734.6 553.9,733.9 554.7,733.3 Z" fill="#90f070" stroke="#b04a3a" stroke-width="0.9"/>
<path d="M560.5,733.0 C561.2,732.5 564.3,732.6 566.0,733.0 C567.7,733.4 569.6,734.7 570.5,735.5 C571.4,736.3 571.8,737.4 571.5,738.0 C571.2,738.6 569.7,739.3 568.5,739.4 C567.3,739.5 565.7,739.1 564.5,738.5 C563.3,737.9 562.2,736.7 561.5,735.8 C560.8,734.9 559.8,733.5 560.5,733.0 Z" fill="#b8f048" stroke="#2a48c0" stroke-width="0.9"/>
<path d="M551.7,748.2 C551.7,747.2 552.3,746.2 553.5,745.5 C554.7,744.8 557.1,744.1 559.0,744.0 C560.9,743.9 563.6,744.3 565.0,745.0 C566.4,745.7 567.5,747.1 567.5,748.2 C567.5,749.3 566.4,750.7 565.0,751.5 C563.6,752.3 561.0,753.0 559.1,753.0 C557.2,753.0 554.7,752.3 553.5,751.5 C552.3,750.7 551.7,749.2 551.7,748.2 Z" fill="#90f070" stroke="#b04a3a" stroke-width="0.9"/>
<path d="M553.5,747.5 C553.6,746.6 554.4,745.3 555.5,744.5 C556.6,743.7 558.6,742.8 560.0,742.8 C561.4,742.8 563.0,743.5 564.0,744.3 C565.0,745.1 566.2,746.5 566.0,747.5 C565.8,748.5 564.2,749.5 563.0,750.0 C561.8,750.5 560.3,750.7 559.0,750.7 C557.7,750.7 555.9,750.3 555.0,749.8 C554.1,749.3 553.4,748.4 553.5,747.5 Z" fill="url(#vg9)" stroke="#2a48c0" stroke-width="0.9"/>
<line x1="552.6" y1="715.8" x2="552.6" y2="742.5" stroke="#000" stroke-width="1.6" />
<path d="M550.6,741.5 L554.6,741.5 L552.6,745.0 Z" fill="none" stroke="#000" stroke-width="1"/>
<rect x="576.8" y="660.4" width="62.5" height="22" fill="#fff" stroke="#d0d0d0" stroke-width="0.7"/>
<line x1="578.8" y1="666.0" x2="590.4" y2="666.0" stroke="#e05050" stroke-width="1.1" />
<line x1="578.8" y1="676.5" x2="590.4" y2="676.5" stroke="#4040e0" stroke-width="1.1" />
<text x="591.6" y="669.2" font-family='"Liberation Sans", sans-serif' font-size="8.3" font-weight="bold" fill="#111" text-anchor="start" >1.0 contour</text>
<text x="591.6" y="679.5" font-family='"Liberation Sans", sans-serif' font-size="8.3" font-weight="bold" fill="#111" text-anchor="start" >1.2 contour</text>
<text x="444.2" y="676.9" font-family='"Liberation Sans", sans-serif' font-size="13" font-weight="bold" fill="#000" text-anchor="start" >After TBS 240min</text>
<line x1="529.2" y1="247.8" x2="529.2" y2="210.8" stroke="#f1f1f1" stroke-width="0.5" />
<line x1="620.3" y1="227.3" x2="620.3" y2="190.3" stroke="#f1f1f1" stroke-width="0.5" />
<line x1="547.0" y1="243.8" x2="547.0" y2="206.8" stroke="#f1f1f1" stroke-width="0.5" />
<line x1="627.6" y1="236.2" x2="627.6" y2="199.2" stroke="#f1f1f1" stroke-width="0.5" />
<line x1="564.8" y1="239.8" x2="564.8" y2="202.8" stroke="#f1f1f1" stroke-width="0.5" />
<line x1="634.8" y1="245.0" x2="634.8" y2="208.0" stroke="#f1f1f1" stroke-width="0.5" />
<line x1="582.6" y1="235.8" x2="582.6" y2="198.8" stroke="#f1f1f1" stroke-width="0.5" />
<line x1="642.1" y1="253.9" x2="642.1" y2="216.9" stroke="#f1f1f1" stroke-width="0.5" />
<line x1="600.4" y1="231.8" x2="600.4" y2="194.8" stroke="#f1f1f1" stroke-width="0.5" />
<line x1="649.4" y1="262.8" x2="649.4" y2="225.8" stroke="#f1f1f1" stroke-width="0.5" />
<line x1="618.2" y1="227.8" x2="618.2" y2="190.8" stroke="#f1f1f1" stroke-width="0.5" />
<line x1="656.6" y1="271.6" x2="656.6" y2="234.6" stroke="#f1f1f1" stroke-width="0.5" />
<line x1="529.2" y1="210.8" x2="620.3" y2="190.3" stroke="#f1f1f1" stroke-width="0.5" />
<line x1="620.3" y1="190.3" x2="657.5" y2="235.7" stroke="#f1f1f1" stroke-width="0.5" />
<line x1="529.2" y1="220.0" x2="620.3" y2="199.5" stroke="#f1f1f1" stroke-width="0.5" />
<line x1="620.3" y1="199.5" x2="657.5" y2="244.9" stroke="#f1f1f1" stroke-width="0.5" />
<line x1="529.2" y1="229.2" x2="620.3" y2="208.7" stroke="#f1f1f1" stroke-width="0.5" />
<line x1="620.3" y1="208.7" x2="657.5" y2="254.1" stroke="#f1f1f1" stroke-width="0.5" />
<line x1="529.2" y1="238.4" x2="620.3" y2="217.9" stroke="#f1f1f1" stroke-width="0.5" />
<line x1="620.3" y1="217.9" x2="657.5" y2="263.3" stroke="#f1f1f1" stroke-width="0.5" />
<line x1="529.2" y1="247.8" x2="620.3" y2="227.3" stroke="#f1f1f1" stroke-width="0.5" />
<line x1="620.3" y1="227.3" x2="657.5" y2="272.7" stroke="#f1f1f1" stroke-width="0.5" />
<line x1="527.2" y1="210.8" x2="527.2" y2="247.8" stroke="#262626" stroke-width="1" />
<line x1="527.2" y1="247.8" x2="566.4" y2="294.2" stroke="#262626" stroke-width="1" />
<line x1="566.4" y1="294.2" x2="659.5" y2="272.7" stroke="#262626" stroke-width="1" />
<text x="522.4" y="215.4" font-family='"Liberation Sans", sans-serif' font-size="7.8" font-weight="bold" fill="#303030" text-anchor="middle" >3</text>
<text x="522.4" y="223.7" font-family='"Liberation Sans", sans-serif' font-size="7.8" font-weight="bold" fill="#303030" text-anchor="middle" >2</text>
<text x="522.4" y="231.9" font-family='"Liberation Sans", sans-serif' font-size="7.8" font-weight="bold" fill="#303030" text-anchor="middle" >1</text>
<text x="522.4" y="239.7" font-family='"Liberation Sans", sans-serif' font-size="7.8" font-weight="bold" fill="#303030" text-anchor="middle" >0</text>
<text x="520.8" y="248.2" font-family='"Liberation Sans", sans-serif' font-size="7.8" font-weight="bold" fill="#303030" text-anchor="middle" >-1</text>
<text x="520.3" y="257.2" font-family='"Liberation Sans", sans-serif' font-size="7.8" font-weight="bold" fill="#303030" text-anchor="middle" >0</text>
<text x="525.4" y="265.4" font-family='"Liberation Sans", sans-serif' font-size="7.8" font-weight="bold" fill="#303030" text-anchor="middle" >50</text>
<text x="531.0" y="273.8" font-family='"Liberation Sans", sans-serif' font-size="7.8" font-weight="bold" fill="#303030" text-anchor="middle" >100</text>
<text x="541.3" y="282.8" font-family='"Liberation Sans", sans-serif' font-size="7.8" font-weight="bold" fill="#303030" text-anchor="middle" >150</text>
<text x="548.5" y="291.8" font-family='"Liberation Sans", sans-serif' font-size="7.8" font-weight="bold" fill="#303030" text-anchor="middle" >200</text>
<text x="556.2" y="300.8" font-family='"Liberation Sans", sans-serif' font-size="7.8" font-weight="bold" fill="#303030" text-anchor="middle" >250</text>
<text x="571.6" y="302.1" font-family='"Liberation Sans", sans-serif' font-size="7.8" font-weight="bold" fill="#303030" text-anchor="middle" >0</text>
<text x="592.0" y="299.0" font-family='"Liberation Sans", sans-serif' font-size="7.8" font-weight="bold" fill="#303030" text-anchor="middle" >50</text>
<text x="614.0" y="295.7" font-family='"Liberation Sans", sans-serif' font-size="7.8" font-weight="bold" fill="#303030" text-anchor="middle" >100</text>
<text x="635.0" y="291.8" font-family='"Liberation Sans", sans-serif' font-size="7.8" font-weight="bold" fill="#303030" text-anchor="middle" >150</text>
<text x="649.8" y="288.0" font-family='"Liberation Sans", sans-serif' font-size="7.8" font-weight="bold" fill="#303030" text-anchor="middle" >200</text>
<text x="665.2" y="284.1" font-family='"Liberation Sans", sans-serif' font-size="7.8" font-weight="bold" fill="#303030" text-anchor="middle" >250</text>
<polygon points="529.2,239.8 566.4,285.2 657.5,264.7 620.3,219.3" fill="#046cfc"/>
<g clip-path="url(#cd3)"><g filter="url(#blur3)">
<path d="M548,262 C560,250 580,248 600,250 C620,246 640,248 652,262 C655,272 650,285 630,290 L570,292 C555,288 545,275 548,262 Z" fill="#18c0f4"/>
<ellipse cx="600.0" cy="268.0" rx="34.0" ry="10.0" fill="#30dcf0" opacity="1"/>
<ellipse cx="578.0" cy="278.0" rx="10.0" ry="5.0" fill="#50e8f0" opacity="1"/>
<ellipse cx="622.0" cy="272.0" rx="10.0" ry="5.0" fill="#50e8f0" opacity="1"/>
<ellipse cx="645.0" cy="262.0" rx="6.0" ry="5.0" fill="#40e0f0" opacity="1"/>
<ellipse cx="557.5" cy="252.6" rx="6.0" ry="4.0" fill="#0448d8" opacity="1"/>
<ellipse cx="566.0" cy="276.0" rx="6.0" ry="4.0" fill="#0c60e8" opacity="1"/>
<ellipse cx="600.0" cy="284.0" rx="8.0" ry="3.0" fill="#0c60e8" opacity="1"/>
<ellipse cx="640.0" cy="276.0" rx="6.0" ry="3.0" fill="#0c60e8" opacity="1"/>
</g></g>
<path d="M565,258 C568,250 574,247 584,247.5 C595,246.5 610,247 622,246 C630,245 636,246 637,250 C633,256 625,259 612,261 C600,263.5 590,264.5 580,263.5 C572,262.5 566,261 565,258 Z" fill="#b8f048" filter="url(#blur1)"/>
<path d="M565,262 C575,265.5 590,267.5 605,265 C618,263 628,259 636,252 L638,258 C630,264 615,269 600,270.5 C585,271 572,269 564,265 Z" fill="#50f0b8" filter="url(#blur1)"/>
<path d="M573,251 C576,244 579,238.6 583,238.6 C588,238.6 592,243 596,249 C590,250 580,251 573,251 Z" fill="url(#dpk)"/>
<path d="M620.5,249 C622,240 624.5,229.9 629.2,229.9 C634,229.9 636,240 637.5,248 C632,249 626,249.5 620.5,249 Z" fill="url(#dpk)"/>
<path d="M572,259 C574,255.5 576.5,252.6 579.4,252.6 C582.5,252.6 585,255.5 587,258.5 C582,259.5 577,259.5 572,259 Z" fill="url(#dpk)"/>
<ellipse cx="597.7" cy="252.6" rx="8.7" ry="4.4" fill="#78f0d0" stroke="#7a6a50" stroke-width="0.7"/>
<ellipse cx="597.7" cy="252.6" rx="6.9" ry="3.1" fill="#60eee0" stroke="#3a5a8a" stroke-width="0.7"/>
<path d="M565.4,262.29999999999995 C572,264.4 582,266.4 592.5,266.59999999999997 C600,265.9 606,264.4 612,262.4 C620,259.9 628,255.9 635.3,250.9" fill="none" stroke="#7a6a50" stroke-width="0.8"/>
<path d="M565.4,260.5 C572,262.6 582,264.6 592.5,264.8 C600,264.1 606,262.6 612,260.6 C620,258.1 628,254.1 635.3,249.1" fill="none" stroke="#3a5a8a" stroke-width="0.8"/>
<line x1="600.3" y1="224.9" x2="600.3" y2="244.7" stroke="#000" stroke-width="1.4" />
<path d="M598.3,243.7 L602.3,243.7 L600.3,247.2 Z" fill="none" stroke="#000" stroke-width="1"/>
<rect x="602.4" y="193.3" width="47.4" height="16.7" fill="#fff" stroke="#d0d0d0" stroke-width="0.7"/>
<line x1="603.9" y1="197.5" x2="612.7" y2="197.5" stroke="#e05050" stroke-width="0.83424" />
<line x1="603.9" y1="205.5" x2="612.7" y2="205.5" stroke="#4040e0" stroke-width="0.83424" />
<text x="613.6" y="200.0" font-family='"Liberation Sans", sans-serif' font-size="6.5" font-weight="bold" fill="#111" text-anchor="start" >1.0 contour</text>
<text x="613.6" y="207.8" font-family='"Liberation Sans", sans-serif' font-size="6.5" font-weight="bold" fill="#111" text-anchor="start" >1.2 contour</text>
<line x1="87.7" y1="492.4" x2="87.7" y2="612.0" stroke="#000" stroke-width="1.9" />
<line x1="82.3" y1="493.0" x2="87.7" y2="493.0" stroke="#000" stroke-width="1.9" />
<text x="76.2" y="497.3" font-family='"Liberation Sans", sans-serif' font-size="12.2" font-weight="bold" fill="#000" text-anchor="end"  textLength="21.2" lengthAdjust="spacingAndGlyphs">200</text>
<line x1="82.3" y1="532.4" x2="87.7" y2="532.4" stroke="#000" stroke-width="1.9" />
<text x="76.2" y="536.6" font-family='"Liberation Sans", sans-serif' font-size="12.2" font-weight="bold" fill="#000" text-anchor="end"  textLength="21.2" lengthAdjust="spacingAndGlyphs">150</text>
<line x1="82.3" y1="571.7" x2="87.7" y2="571.7" stroke="#000" stroke-width="1.9" />
<text x="76.2" y="576.0" font-family='"Liberation Sans", sans-serif' font-size="12.2" font-weight="bold" fill="#000" text-anchor="end"  textLength="21.2" lengthAdjust="spacingAndGlyphs">100</text>
<line x1="82.3" y1="611.1" x2="87.7" y2="611.1" stroke="#000" stroke-width="1.9" />
<text x="76.2" y="615.4" font-family='"Liberation Sans", sans-serif' font-size="12.2" font-weight="bold" fill="#000" text-anchor="end"  textLength="14.1" lengthAdjust="spacingAndGlyphs">50</text>
<line x1="95.4" y1="610.7" x2="495.4" y2="610.7" stroke="#000" stroke-width="1.9" />
<line x1="95.4" y1="610.7" x2="95.4" y2="613.3" stroke="#000" stroke-width="1.7" />
<line x1="126.1" y1="610.7" x2="126.1" y2="615.7" stroke="#000" stroke-width="1.7" />
<line x1="156.8" y1="610.7" x2="156.8" y2="613.3" stroke="#000" stroke-width="1.7" />
<line x1="187.5" y1="610.7" x2="187.5" y2="615.7" stroke="#000" stroke-width="1.7" />
<line x1="218.2" y1="610.7" x2="218.2" y2="613.3" stroke="#000" stroke-width="1.7" />
<line x1="248.9" y1="610.7" x2="248.9" y2="615.7" stroke="#000" stroke-width="1.7" />
<line x1="279.6" y1="610.7" x2="279.6" y2="613.3" stroke="#000" stroke-width="1.7" />
<line x1="310.3" y1="610.7" x2="310.3" y2="615.7" stroke="#000" stroke-width="1.7" />
<line x1="341.0" y1="610.7" x2="341.0" y2="613.3" stroke="#000" stroke-width="1.7" />
<line x1="371.7" y1="610.7" x2="371.7" y2="615.7" stroke="#000" stroke-width="1.7" />
<line x1="402.4" y1="610.7" x2="402.4" y2="613.3" stroke="#000" stroke-width="1.7" />
<line x1="433.1" y1="610.7" x2="433.1" y2="615.7" stroke="#000" stroke-width="1.7" />
<line x1="463.8" y1="610.7" x2="463.8" y2="613.3" stroke="#000" stroke-width="1.7" />
<line x1="494.5" y1="610.7" x2="494.5" y2="615.7" stroke="#000" stroke-width="1.7" />
<text x="125.3" y="632.9" font-family='"Liberation Sans", sans-serif' font-size="12.2" font-weight="bold" fill="#000" text-anchor="middle" >-1</text>
<text x="187.5" y="632.9" font-family='"Liberation Sans", sans-serif' font-size="12.2" font-weight="bold" fill="#000" text-anchor="middle" >0</text>
<text x="248.9" y="632.9" font-family='"Liberation Sans", sans-serif' font-size="12.2" font-weight="bold" fill="#000" text-anchor="middle" >1</text>
<text x="310.3" y="632.9" font-family='"Liberation Sans", sans-serif' font-size="12.2" font-weight="bold" fill="#000" text-anchor="middle" >2</text>
<text x="371.7" y="632.9" font-family='"Liberation Sans", sans-serif' font-size="12.2" font-weight="bold" fill="#000" text-anchor="middle" >3</text>
<text x="433.1" y="632.9" font-family='"Liberation Sans", sans-serif' font-size="12.2" font-weight="bold" fill="#000" text-anchor="middle" >4</text>
<text x="494.5" y="632.9" font-family='"Liberation Sans", sans-serif' font-size="12.2" font-weight="bold" fill="#000" text-anchor="middle" >5</text>
<text x="255.1" y="643.7" font-family='"Liberation Sans", sans-serif' font-size="12" font-weight="bold" fill="#000" text-anchor="start"  textLength="49" lengthAdjust="spacingAndGlyphs">Time (h)</text>
<text x="0" y="0" font-family='"Liberation Sans", sans-serif' font-size="13.5" font-weight="bold" fill="#000" text-anchor="middle" textLength="98" lengthAdjust="spacingAndGlyphs" transform="translate(46.6 544.6) rotate(-90)">fEPSP slope (%)</text>
<line x1="92.2" y1="571.2" x2="472.7" y2="571.2" stroke="#000" stroke-width="1.7" stroke-dasharray="4.6,2.6"/>
<path d="M126.2,575.7 L131.0,572.5 L135.9,570.3 L139.1,574.1 L143.8,570.3 L150.2,568.4 L155.0,573.5 L159.8,573.5 L164.6,572.5 L169.4,571.6 L174.1,567.7 L179.0,570.9 L183.8,567.7 L186.0,546.0 L188.5,547.0 L190.9,549.2 L193.4,548.8 L195.8,548.2 L198.3,549.0 L200.7,548.5 L203.2,545.8 L205.7,546.7 L208.1,546.1 L210.6,543.6 L213.0,544.3 L215.5,542.7 L217.9,543.0 L220.4,541.9 L222.8,542.3 L225.3,540.3 L227.8,538.9 L230.2,539.0 L232.7,538.1 L235.1,538.9 L237.6,541.1 L240.0,540.0 L242.5,540.4 L244.9,540.3 L247.4,540.2 L249.9,537.3 L252.3,537.5 L254.8,535.9 L257.2,534.2 L259.7,533.2 L262.1,531.4 L264.6,531.3 L267.1,529.6 L269.5,529.8 L272.0,527.9 L274.4,527.8 L276.9,530.4 L279.3,531.1 L281.8,531.6 L284.2,530.4 L286.7,532.4 L289.2,532.5 L291.6,533.9 L294.1,533.9 L296.5,534.8 L299.0,535.5 L301.4,535.4 L303.9,535.4 L306.3,534.5 L308.8,534.9 L311.3,534.2 L313.7,534.3 L316.2,533.8 L318.6,534.5 L321.1,535.7 L323.5,533.8 L326.0,533.7 L328.5,534.1 L330.9,535.1 L333.4,535.0 L335.8,536.5 L338.3,535.1 L340.7,536.0 L343.2,536.9 L345.6,537.7 L348.1,535.9 L350.6,535.7 L353.0,538.2 L355.5,536.5 L357.9,537.3 L360.4,537.8 L362.8,537.3 L365.3,536.0 L367.7,535.6 L370.2,537.5 L372.7,535.9 L375.1,537.2 L377.6,535.4 L380.0,536.2 L382.5,534.9 L384.9,534.6 L387.4,535.8 L389.9,534.6 L392.3,536.3 L394.8,536.9 L397.2,535.6 L399.7,537.1 L402.1,536.7 L404.6,536.1 L407.0,535.6 L409.5,536.8 L412.0,537.1 L414.4,535.0 L416.9,536.4 L419.3,534.8 L421.8,535.0 L424.2,536.3 L426.7,536.1 L429.1,535.9 L431.6,535.6 L434.1,535.6 L436.5,535.7 L439.0,535.5 L441.4,534.7 L443.9,535.8 L446.3,535.9 L448.8,535.2 L451.3,536.4 L453.7,536.2 L456.2,534.4 L458.6,535.6 L461.1,535.5 L463.5,536.8 L466.0,535.7" fill="none" stroke="#000" stroke-width="1.5"/>
<line x1="186.0" y1="542.0" x2="186.0" y2="549.9" stroke="#000" stroke-width="1.0" />
<line x1="184.7" y1="542.0" x2="187.3" y2="542.0" stroke="#000" stroke-width="1.0" />
<line x1="184.7" y1="549.9" x2="187.3" y2="549.9" stroke="#000" stroke-width="1.0" />
<line x1="188.5" y1="543.0" x2="188.5" y2="550.9" stroke="#000" stroke-width="1.0" />
<line x1="187.2" y1="543.0" x2="189.8" y2="543.0" stroke="#000" stroke-width="1.0" />
<line x1="187.2" y1="550.9" x2="189.8" y2="550.9" stroke="#000" stroke-width="1.0" />
<line x1="190.9" y1="545.3" x2="190.9" y2="553.1" stroke="#000" stroke-width="1.0" />
<line x1="189.6" y1="545.3" x2="192.2" y2="545.3" stroke="#000" stroke-width="1.0" />
<line x1="189.6" y1="553.1" x2="192.2" y2="553.1" stroke="#000" stroke-width="1.0" />
<line x1="193.4" y1="544.9" x2="193.4" y2="552.8" stroke="#000" stroke-width="1.0" />
<line x1="192.1" y1="544.9" x2="194.7" y2="544.9" stroke="#000" stroke-width="1.0" />
<line x1="192.1" y1="552.8" x2="194.7" y2="552.8" stroke="#000" stroke-width="1.0" />
<line x1="195.8" y1="544.2" x2="195.8" y2="552.1" stroke="#000" stroke-width="1.0" />
<line x1="194.5" y1="544.2" x2="197.1" y2="544.2" stroke="#000" stroke-width="1.0" />
<line x1="194.5" y1="552.1" x2="197.1" y2="552.1" stroke="#000" stroke-width="1.0" />
<line x1="198.3" y1="545.1" x2="198.3" y2="552.9" stroke="#000" stroke-width="1.0" />
<line x1="197.0" y1="545.1" x2="199.6" y2="545.1" stroke="#000" stroke-width="1.0" />
<line x1="197.0" y1="552.9" x2="199.6" y2="552.9" stroke="#000" stroke-width="1.0" />
<line x1="200.7" y1="544.6" x2="200.7" y2="552.4" stroke="#000" stroke-width="1.0" />
<line x1="199.4" y1="544.6" x2="202.0" y2="544.6" stroke="#000" stroke-width="1.0" />
<line x1="199.4" y1="552.4" x2="202.0" y2="552.4" stroke="#000" stroke-width="1.0" />
<line x1="203.2" y1="541.9" x2="203.2" y2="549.8" stroke="#000" stroke-width="1.0" />
<line x1="201.9" y1="541.9" x2="204.5" y2="541.9" stroke="#000" stroke-width="1.0" />
<line x1="201.9" y1="549.8" x2="204.5" y2="549.8" stroke="#000" stroke-width="1.0" />
<line x1="205.7" y1="542.7" x2="205.7" y2="550.6" stroke="#000" stroke-width="1.0" />
<line x1="204.4" y1="542.7" x2="207.0" y2="542.7" stroke="#000" stroke-width="1.0" />
<line x1="204.4" y1="550.6" x2="207.0" y2="550.6" stroke="#000" stroke-width="1.0" />
<line x1="208.1" y1="542.2" x2="208.1" y2="550.1" stroke="#000" stroke-width="1.0" />
<line x1="206.8" y1="542.2" x2="209.4" y2="542.2" stroke="#000" stroke-width="1.0" />
<line x1="206.8" y1="550.1" x2="209.4" y2="550.1" stroke="#000" stroke-width="1.0" />
<line x1="210.6" y1="539.6" x2="210.6" y2="547.5" stroke="#000" stroke-width="1.0" />
<line x1="209.3" y1="539.6" x2="211.9" y2="539.6" stroke="#000" stroke-width="1.0" />
<line x1="209.3" y1="547.5" x2="211.9" y2="547.5" stroke="#000" stroke-width="1.0" />
<line x1="213.0" y1="540.3" x2="213.0" y2="548.2" stroke="#000" stroke-width="1.0" />
<line x1="211.7" y1="540.3" x2="214.3" y2="540.3" stroke="#000" stroke-width="1.0" />
<line x1="211.7" y1="548.2" x2="214.3" y2="548.2" stroke="#000" stroke-width="1.0" />
<line x1="215.5" y1="538.8" x2="215.5" y2="546.7" stroke="#000" stroke-width="1.0" />
<line x1="214.2" y1="538.8" x2="216.8" y2="538.8" stroke="#000" stroke-width="1.0" />
<line x1="214.2" y1="546.7" x2="216.8" y2="546.7" stroke="#000" stroke-width="1.0" />
<line x1="217.9" y1="539.1" x2="217.9" y2="546.9" stroke="#000" stroke-width="1.0" />
<line x1="216.6" y1="539.1" x2="219.2" y2="539.1" stroke="#000" stroke-width="1.0" />
<line x1="216.6" y1="546.9" x2="219.2" y2="546.9" stroke="#000" stroke-width="1.0" />
<line x1="220.4" y1="537.9" x2="220.4" y2="545.8" stroke="#000" stroke-width="1.0" />
<line x1="219.1" y1="537.9" x2="221.7" y2="537.9" stroke="#000" stroke-width="1.0" />
<line x1="219.1" y1="545.8" x2="221.7" y2="545.8" stroke="#000" stroke-width="1.0" />
<line x1="222.8" y1="538.4" x2="222.8" y2="546.2" stroke="#000" stroke-width="1.0" />
<line x1="221.5" y1="538.4" x2="224.1" y2="538.4" stroke="#000" stroke-width="1.0" />
<line x1="221.5" y1="546.2" x2="224.1" y2="546.2" stroke="#000" stroke-width="1.0" />
<line x1="225.3" y1="536.3" x2="225.3" y2="544.2" stroke="#000" stroke-width="1.0" />
<line x1="224.0" y1="536.3" x2="226.6" y2="536.3" stroke="#000" stroke-width="1.0" />
<line x1="224.0" y1="544.2" x2="226.6" y2="544.2" stroke="#000" stroke-width="1.0" />
<line x1="227.8" y1="535.0" x2="227.8" y2="542.8" stroke="#000" stroke-width="1.0" />
<line x1="226.5" y1="535.0" x2="229.1" y2="535.0" stroke="#000" stroke-width="1.0" />
<line x1="226.5" y1="542.8" x2="229.1" y2="542.8" stroke="#000" stroke-width="1.0" />
<line x1="230.2" y1="535.0" x2="230.2" y2="542.9" stroke="#000" stroke-width="1.0" />
<line x1="228.9" y1="535.0" x2="231.5" y2="535.0" stroke="#000" stroke-width="1.0" />
<line x1="228.9" y1="542.9" x2="231.5" y2="542.9" stroke="#000" stroke-width="1.0" />
<line x1="232.7" y1="534.2" x2="232.7" y2="542.0" stroke="#000" stroke-width="1.0" />
<line x1="231.4" y1="534.2" x2="234.0" y2="534.2" stroke="#000" stroke-width="1.0" />
<line x1="231.4" y1="542.0" x2="234.0" y2="542.0" stroke="#000" stroke-width="1.0" />
<line x1="235.1" y1="535.0" x2="235.1" y2="542.9" stroke="#000" stroke-width="1.0" />
<line x1="233.8" y1="535.0" x2="236.4" y2="535.0" stroke="#000" stroke-width="1.0" />
<line x1="233.8" y1="542.9" x2="236.4" y2="542.9" stroke="#000" stroke-width="1.0" />
<line x1="237.6" y1="537.2" x2="237.6" y2="545.0" stroke="#000" stroke-width="1.0" />
<line x1="236.3" y1="537.2" x2="238.9" y2="537.2" stroke="#000" stroke-width="1.0" />
<line x1="236.3" y1="545.0" x2="238.9" y2="545.0" stroke="#000" stroke-width="1.0" />
<line x1="240.0" y1="536.1" x2="240.0" y2="543.9" stroke="#000" stroke-width="1.0" />
<line x1="238.7" y1="536.1" x2="241.3" y2="536.1" stroke="#000" stroke-width="1.0" />
<line x1="238.7" y1="543.9" x2="241.3" y2="543.9" stroke="#000" stroke-width="1.0" />
<line x1="242.5" y1="536.5" x2="242.5" y2="544.3" stroke="#000" stroke-width="1.0" />
<line x1="241.2" y1="536.5" x2="243.8" y2="536.5" stroke="#000" stroke-width="1.0" />
<line x1="241.2" y1="544.3" x2="243.8" y2="544.3" stroke="#000" stroke-width="1.0" />
<line x1="244.9" y1="536.4" x2="244.9" y2="544.3" stroke="#000" stroke-width="1.0" />
<line x1="243.6" y1="536.4" x2="246.2" y2="536.4" stroke="#000" stroke-width="1.0" />
<line x1="243.6" y1="544.3" x2="246.2" y2="544.3" stroke="#000" stroke-width="1.0" />
<line x1="247.4" y1="536.3" x2="247.4" y2="544.2" stroke="#000" stroke-width="1.0" />
<line x1="246.1" y1="536.3" x2="248.7" y2="536.3" stroke="#000" stroke-width="1.0" />
<line x1="246.1" y1="544.2" x2="248.7" y2="544.2" stroke="#000" stroke-width="1.0" />
<line x1="249.9" y1="533.4" x2="249.9" y2="541.3" stroke="#000" stroke-width="1.0" />
<line x1="248.6" y1="533.4" x2="251.2" y2="533.4" stroke="#000" stroke-width="1.0" />
<line x1="248.6" y1="541.3" x2="251.2" y2="541.3" stroke="#000" stroke-width="1.0" />
<line x1="252.3" y1="533.6" x2="252.3" y2="541.5" stroke="#000" stroke-width="1.0" />
<line x1="251.0" y1="533.6" x2="253.6" y2="533.6" stroke="#000" stroke-width="1.0" />
<line x1="251.0" y1="541.5" x2="253.6" y2="541.5" stroke="#000" stroke-width="1.0" />
<line x1="254.8" y1="532.0" x2="254.8" y2="539.8" stroke="#000" stroke-width="1.0" />
<line x1="253.5" y1="532.0" x2="256.1" y2="532.0" stroke="#000" stroke-width="1.0" />
<line x1="253.5" y1="539.8" x2="256.1" y2="539.8" stroke="#000" stroke-width="1.0" />
<line x1="257.2" y1="530.2" x2="257.2" y2="538.1" stroke="#000" stroke-width="1.0" />
<line x1="255.9" y1="530.2" x2="258.5" y2="530.2" stroke="#000" stroke-width="1.0" />
<line x1="255.9" y1="538.1" x2="258.5" y2="538.1" stroke="#000" stroke-width="1.0" />
<line x1="259.7" y1="529.3" x2="259.7" y2="537.2" stroke="#000" stroke-width="1.0" />
<line x1="258.4" y1="529.3" x2="261.0" y2="529.3" stroke="#000" stroke-width="1.0" />
<line x1="258.4" y1="537.2" x2="261.0" y2="537.2" stroke="#000" stroke-width="1.0" />
<line x1="262.1" y1="527.4" x2="262.1" y2="535.3" stroke="#000" stroke-width="1.0" />
<line x1="260.8" y1="527.4" x2="263.4" y2="527.4" stroke="#000" stroke-width="1.0" />
<line x1="260.8" y1="535.3" x2="263.4" y2="535.3" stroke="#000" stroke-width="1.0" />
<line x1="264.6" y1="527.4" x2="264.6" y2="535.3" stroke="#000" stroke-width="1.0" />
<line x1="263.3" y1="527.4" x2="265.9" y2="527.4" stroke="#000" stroke-width="1.0" />
<line x1="263.3" y1="535.3" x2="265.9" y2="535.3" stroke="#000" stroke-width="1.0" />
<line x1="267.1" y1="525.7" x2="267.1" y2="533.5" stroke="#000" stroke-width="1.0" />
<line x1="265.8" y1="525.7" x2="268.4" y2="525.7" stroke="#000" stroke-width="1.0" />
<line x1="265.8" y1="533.5" x2="268.4" y2="533.5" stroke="#000" stroke-width="1.0" />
<line x1="269.5" y1="525.9" x2="269.5" y2="533.7" stroke="#000" stroke-width="1.0" />
<line x1="268.2" y1="525.9" x2="270.8" y2="525.9" stroke="#000" stroke-width="1.0" />
<line x1="268.2" y1="533.7" x2="270.8" y2="533.7" stroke="#000" stroke-width="1.0" />
<line x1="272.0" y1="524.0" x2="272.0" y2="531.8" stroke="#000" stroke-width="1.0" />
<line x1="270.7" y1="524.0" x2="273.3" y2="524.0" stroke="#000" stroke-width="1.0" />
<line x1="270.7" y1="531.8" x2="273.3" y2="531.8" stroke="#000" stroke-width="1.0" />
<line x1="274.4" y1="523.8" x2="274.4" y2="531.7" stroke="#000" stroke-width="1.0" />
<line x1="273.1" y1="523.8" x2="275.7" y2="523.8" stroke="#000" stroke-width="1.0" />
<line x1="273.1" y1="531.7" x2="275.7" y2="531.7" stroke="#000" stroke-width="1.0" />
<line x1="276.9" y1="526.5" x2="276.9" y2="534.4" stroke="#000" stroke-width="1.0" />
<line x1="275.6" y1="526.5" x2="278.2" y2="526.5" stroke="#000" stroke-width="1.0" />
<line x1="275.6" y1="534.4" x2="278.2" y2="534.4" stroke="#000" stroke-width="1.0" />
<line x1="279.3" y1="527.1" x2="279.3" y2="535.0" stroke="#000" stroke-width="1.0" />
<line x1="278.0" y1="527.1" x2="280.6" y2="527.1" stroke="#000" stroke-width="1.0" />
<line x1="278.0" y1="535.0" x2="280.6" y2="535.0" stroke="#000" stroke-width="1.0" />
<line x1="281.8" y1="527.6" x2="281.8" y2="535.5" stroke="#000" stroke-width="1.0" />
<line x1="280.5" y1="527.6" x2="283.1" y2="527.6" stroke="#000" stroke-width="1.0" />
<line x1="280.5" y1="535.5" x2="283.1" y2="535.5" stroke="#000" stroke-width="1.0" />
<line x1="284.2" y1="526.5" x2="284.2" y2="534.3" stroke="#000" stroke-width="1.0" />
<line x1="282.9" y1="526.5" x2="285.5" y2="526.5" stroke="#000" stroke-width="1.0" />
<line x1="282.9" y1="534.3" x2="285.5" y2="534.3" stroke="#000" stroke-width="1.0" />
<line x1="286.7" y1="528.5" x2="286.7" y2="536.3" stroke="#000" stroke-width="1.0" />
<line x1="285.4" y1="528.5" x2="288.0" y2="528.5" stroke="#000" stroke-width="1.0" />
<line x1="285.4" y1="536.3" x2="288.0" y2="536.3" stroke="#000" stroke-width="1.0" />
<line x1="289.2" y1="528.6" x2="289.2" y2="536.4" stroke="#000" stroke-width="1.0" />
<line x1="287.9" y1="528.6" x2="290.5" y2="528.6" stroke="#000" stroke-width="1.0" />
<line x1="287.9" y1="536.4" x2="290.5" y2="536.4" stroke="#000" stroke-width="1.0" />
<line x1="291.6" y1="529.9" x2="291.6" y2="537.8" stroke="#000" stroke-width="1.0" />
<line x1="290.3" y1="529.9" x2="292.9" y2="529.9" stroke="#000" stroke-width="1.0" />
<line x1="290.3" y1="537.8" x2="292.9" y2="537.8" stroke="#000" stroke-width="1.0" />
<line x1="294.1" y1="530.0" x2="294.1" y2="537.9" stroke="#000" stroke-width="1.0" />
<line x1="292.8" y1="530.0" x2="295.4" y2="530.0" stroke="#000" stroke-width="1.0" />
<line x1="292.8" y1="537.9" x2="295.4" y2="537.9" stroke="#000" stroke-width="1.0" />
<line x1="296.5" y1="530.9" x2="296.5" y2="538.7" stroke="#000" stroke-width="1.0" />
<line x1="295.2" y1="530.9" x2="297.8" y2="530.9" stroke="#000" stroke-width="1.0" />
<line x1="295.2" y1="538.7" x2="297.8" y2="538.7" stroke="#000" stroke-width="1.0" />
<line x1="299.0" y1="531.5" x2="299.0" y2="539.4" stroke="#000" stroke-width="1.0" />
<line x1="297.7" y1="531.5" x2="300.3" y2="531.5" stroke="#000" stroke-width="1.0" />
<line x1="297.7" y1="539.4" x2="300.3" y2="539.4" stroke="#000" stroke-width="1.0" />
<line x1="301.4" y1="531.5" x2="301.4" y2="539.4" stroke="#000" stroke-width="1.0" />
<line x1="300.1" y1="531.5" x2="302.7" y2="531.5" stroke="#000" stroke-width="1.0" />
<line x1="300.1" y1="539.4" x2="302.7" y2="539.4" stroke="#000" stroke-width="1.0" />
<line x1="303.9" y1="531.4" x2="303.9" y2="539.3" stroke="#000" stroke-width="1.0" />
<line x1="302.6" y1="531.4" x2="305.2" y2="531.4" stroke="#000" stroke-width="1.0" />
<line x1="302.6" y1="539.3" x2="305.2" y2="539.3" stroke="#000" stroke-width="1.0" />
<line x1="306.3" y1="530.5" x2="306.3" y2="538.4" stroke="#000" stroke-width="1.0" />
<line x1="305.0" y1="530.5" x2="307.6" y2="530.5" stroke="#000" stroke-width="1.0" />
<line x1="305.0" y1="538.4" x2="307.6" y2="538.4" stroke="#000" stroke-width="1.0" />
<line x1="308.8" y1="531.0" x2="308.8" y2="538.8" stroke="#000" stroke-width="1.0" />
<line x1="307.5" y1="531.0" x2="310.1" y2="531.0" stroke="#000" stroke-width="1.0" />
<line x1="307.5" y1="538.8" x2="310.1" y2="538.8" stroke="#000" stroke-width="1.0" />
<line x1="311.3" y1="530.2" x2="311.3" y2="538.1" stroke="#000" stroke-width="1.0" />
<line x1="310.0" y1="530.2" x2="312.6" y2="530.2" stroke="#000" stroke-width="1.0" />
<line x1="310.0" y1="538.1" x2="312.6" y2="538.1" stroke="#000" stroke-width="1.0" />
<line x1="313.7" y1="530.3" x2="313.7" y2="538.2" stroke="#000" stroke-width="1.0" />
<line x1="312.4" y1="530.3" x2="315.0" y2="530.3" stroke="#000" stroke-width="1.0" />
<line x1="312.4" y1="538.2" x2="315.0" y2="538.2" stroke="#000" stroke-width="1.0" />
<line x1="316.2" y1="529.9" x2="316.2" y2="537.7" stroke="#000" stroke-width="1.0" />
<line x1="314.9" y1="529.9" x2="317.5" y2="529.9" stroke="#000" stroke-width="1.0" />
<line x1="314.9" y1="537.7" x2="317.5" y2="537.7" stroke="#000" stroke-width="1.0" />
<line x1="318.6" y1="530.6" x2="318.6" y2="538.4" stroke="#000" stroke-width="1.0" />
<line x1="317.3" y1="530.6" x2="319.9" y2="530.6" stroke="#000" stroke-width="1.0" />
<line x1="317.3" y1="538.4" x2="319.9" y2="538.4" stroke="#000" stroke-width="1.0" />
<line x1="321.1" y1="531.7" x2="321.1" y2="539.6" stroke="#000" stroke-width="1.0" />
<line x1="319.8" y1="531.7" x2="322.4" y2="531.7" stroke="#000" stroke-width="1.0" />
<line x1="319.8" y1="539.6" x2="322.4" y2="539.6" stroke="#000" stroke-width="1.0" />
<line x1="323.5" y1="529.9" x2="323.5" y2="537.7" stroke="#000" stroke-width="1.0" />
<line x1="322.2" y1="529.9" x2="324.8" y2="529.9" stroke="#000" stroke-width="1.0" />
<line x1="322.2" y1="537.7" x2="324.8" y2="537.7" stroke="#000" stroke-width="1.0" />
<line x1="326.0" y1="529.8" x2="326.0" y2="537.7" stroke="#000" stroke-width="1.0" />
<line x1="324.7" y1="529.8" x2="327.3" y2="529.8" stroke="#000" stroke-width="1.0" />
<line x1="324.7" y1="537.7" x2="327.3" y2="537.7" stroke="#000" stroke-width="1.0" />
<line x1="328.5" y1="530.2" x2="328.5" y2="538.0" stroke="#000" stroke-width="1.0" />
<line x1="327.2" y1="530.2" x2="329.8" y2="530.2" stroke="#000" stroke-width="1.0" />
<line x1="327.2" y1="538.0" x2="329.8" y2="538.0" stroke="#000" stroke-width="1.0" />
<line x1="330.9" y1="531.2" x2="330.9" y2="539.1" stroke="#000" stroke-width="1.0" />
<line x1="329.6" y1="531.2" x2="332.2" y2="531.2" stroke="#000" stroke-width="1.0" />
<line x1="329.6" y1="539.1" x2="332.2" y2="539.1" stroke="#000" stroke-width="1.0" />
<line x1="333.4" y1="531.1" x2="333.4" y2="538.9" stroke="#000" stroke-width="1.0" />
<line x1="332.1" y1="531.1" x2="334.7" y2="531.1" stroke="#000" stroke-width="1.0" />
<line x1="332.1" y1="538.9" x2="334.7" y2="538.9" stroke="#000" stroke-width="1.0" />
<line x1="335.8" y1="532.5" x2="335.8" y2="540.4" stroke="#000" stroke-width="1.0" />
<line x1="334.5" y1="532.5" x2="337.1" y2="532.5" stroke="#000" stroke-width="1.0" />
<line x1="334.5" y1="540.4" x2="337.1" y2="540.4" stroke="#000" stroke-width="1.0" />
<line x1="338.3" y1="531.2" x2="338.3" y2="539.0" stroke="#000" stroke-width="1.0" />
<line x1="337.0" y1="531.2" x2="339.6" y2="531.2" stroke="#000" stroke-width="1.0" />
<line x1="337.0" y1="539.0" x2="339.6" y2="539.0" stroke="#000" stroke-width="1.0" />
<line x1="340.7" y1="532.0" x2="340.7" y2="539.9" stroke="#000" stroke-width="1.0" />
<line x1="339.4" y1="532.0" x2="342.0" y2="532.0" stroke="#000" stroke-width="1.0" />
<line x1="339.4" y1="539.9" x2="342.0" y2="539.9" stroke="#000" stroke-width="1.0" />
<line x1="343.2" y1="533.0" x2="343.2" y2="540.8" stroke="#000" stroke-width="1.0" />
<line x1="341.9" y1="533.0" x2="344.5" y2="533.0" stroke="#000" stroke-width="1.0" />
<line x1="341.9" y1="540.8" x2="344.5" y2="540.8" stroke="#000" stroke-width="1.0" />
<line x1="345.6" y1="533.7" x2="345.6" y2="541.6" stroke="#000" stroke-width="1.0" />
<line x1="344.3" y1="533.7" x2="346.9" y2="533.7" stroke="#000" stroke-width="1.0" />
<line x1="344.3" y1="541.6" x2="346.9" y2="541.6" stroke="#000" stroke-width="1.0" />
<line x1="348.1" y1="531.9" x2="348.1" y2="539.8" stroke="#000" stroke-width="1.0" />
<line x1="346.8" y1="531.9" x2="349.4" y2="531.9" stroke="#000" stroke-width="1.0" />
<line x1="346.8" y1="539.8" x2="349.4" y2="539.8" stroke="#000" stroke-width="1.0" />
<line x1="350.6" y1="531.8" x2="350.6" y2="539.7" stroke="#000" stroke-width="1.0" />
<line x1="349.3" y1="531.8" x2="351.9" y2="531.8" stroke="#000" stroke-width="1.0" />
<line x1="349.3" y1="539.7" x2="351.9" y2="539.7" stroke="#000" stroke-width="1.0" />
<line x1="353.0" y1="534.3" x2="353.0" y2="542.1" stroke="#000" stroke-width="1.0" />
<line x1="351.7" y1="534.3" x2="354.3" y2="534.3" stroke="#000" stroke-width="1.0" />
<line x1="351.7" y1="542.1" x2="354.3" y2="542.1" stroke="#000" stroke-width="1.0" />
<line x1="355.5" y1="532.5" x2="355.5" y2="540.4" stroke="#000" stroke-width="1.0" />
<line x1="354.2" y1="532.5" x2="356.8" y2="532.5" stroke="#000" stroke-width="1.0" />
<line x1="354.2" y1="540.4" x2="356.8" y2="540.4" stroke="#000" stroke-width="1.0" />
<line x1="357.9" y1="533.4" x2="357.9" y2="541.3" stroke="#000" stroke-width="1.0" />
<line x1="356.6" y1="533.4" x2="359.2" y2="533.4" stroke="#000" stroke-width="1.0" />
<line x1="356.6" y1="541.3" x2="359.2" y2="541.3" stroke="#000" stroke-width="1.0" />
<line x1="360.4" y1="533.9" x2="360.4" y2="541.8" stroke="#000" stroke-width="1.0" />
<line x1="359.1" y1="533.9" x2="361.7" y2="533.9" stroke="#000" stroke-width="1.0" />
<line x1="359.1" y1="541.8" x2="361.7" y2="541.8" stroke="#000" stroke-width="1.0" />
<line x1="362.8" y1="533.4" x2="362.8" y2="541.2" stroke="#000" stroke-width="1.0" />
<line x1="361.5" y1="533.4" x2="364.1" y2="533.4" stroke="#000" stroke-width="1.0" />
<line x1="361.5" y1="541.2" x2="364.1" y2="541.2" stroke="#000" stroke-width="1.0" />
<line x1="365.3" y1="532.0" x2="365.3" y2="539.9" stroke="#000" stroke-width="1.0" />
<line x1="364.0" y1="532.0" x2="366.6" y2="532.0" stroke="#000" stroke-width="1.0" />
<line x1="364.0" y1="539.9" x2="366.6" y2="539.9" stroke="#000" stroke-width="1.0" />
<line x1="367.7" y1="531.6" x2="367.7" y2="539.5" stroke="#000" stroke-width="1.0" />
<line x1="366.4" y1="531.6" x2="369.0" y2="531.6" stroke="#000" stroke-width="1.0" />
<line x1="366.4" y1="539.5" x2="369.0" y2="539.5" stroke="#000" stroke-width="1.0" />
<line x1="370.2" y1="533.6" x2="370.2" y2="541.4" stroke="#000" stroke-width="1.0" />
<line x1="368.9" y1="533.6" x2="371.5" y2="533.6" stroke="#000" stroke-width="1.0" />
<line x1="368.9" y1="541.4" x2="371.5" y2="541.4" stroke="#000" stroke-width="1.0" />
<line x1="372.7" y1="532.0" x2="372.7" y2="539.9" stroke="#000" stroke-width="1.0" />
<line x1="371.4" y1="532.0" x2="374.0" y2="532.0" stroke="#000" stroke-width="1.0" />
<line x1="371.4" y1="539.9" x2="374.0" y2="539.9" stroke="#000" stroke-width="1.0" />
<line x1="375.1" y1="533.3" x2="375.1" y2="541.1" stroke="#000" stroke-width="1.0" />
<line x1="373.8" y1="533.3" x2="376.4" y2="533.3" stroke="#000" stroke-width="1.0" />
<line x1="373.8" y1="541.1" x2="376.4" y2="541.1" stroke="#000" stroke-width="1.0" />
<line x1="377.6" y1="531.4" x2="377.6" y2="539.3" stroke="#000" stroke-width="1.0" />
<line x1="376.3" y1="531.4" x2="378.9" y2="531.4" stroke="#000" stroke-width="1.0" />
<line x1="376.3" y1="539.3" x2="378.9" y2="539.3" stroke="#000" stroke-width="1.0" />
<line x1="380.0" y1="532.3" x2="380.0" y2="540.2" stroke="#000" stroke-width="1.0" />
<line x1="378.7" y1="532.3" x2="381.3" y2="532.3" stroke="#000" stroke-width="1.0" />
<line x1="378.7" y1="540.2" x2="381.3" y2="540.2" stroke="#000" stroke-width="1.0" />
<line x1="382.5" y1="530.9" x2="382.5" y2="538.8" stroke="#000" stroke-width="1.0" />
<line x1="381.2" y1="530.9" x2="383.8" y2="530.9" stroke="#000" stroke-width="1.0" />
<line x1="381.2" y1="538.8" x2="383.8" y2="538.8" stroke="#000" stroke-width="1.0" />
<line x1="384.9" y1="530.7" x2="384.9" y2="538.5" stroke="#000" stroke-width="1.0" />
<line x1="383.6" y1="530.7" x2="386.2" y2="530.7" stroke="#000" stroke-width="1.0" />
<line x1="383.6" y1="538.5" x2="386.2" y2="538.5" stroke="#000" stroke-width="1.0" />
<line x1="387.4" y1="531.9" x2="387.4" y2="539.8" stroke="#000" stroke-width="1.0" />
<line x1="386.1" y1="531.9" x2="388.7" y2="531.9" stroke="#000" stroke-width="1.0" />
<line x1="386.1" y1="539.8" x2="388.7" y2="539.8" stroke="#000" stroke-width="1.0" />
<line x1="389.9" y1="530.7" x2="389.9" y2="538.5" stroke="#000" stroke-width="1.0" />
<line x1="388.6" y1="530.7" x2="391.2" y2="530.7" stroke="#000" stroke-width="1.0" />
<line x1="388.6" y1="538.5" x2="391.2" y2="538.5" stroke="#000" stroke-width="1.0" />
<line x1="392.3" y1="532.4" x2="392.3" y2="540.3" stroke="#000" stroke-width="1.0" />
<line x1="391.0" y1="532.4" x2="393.6" y2="532.4" stroke="#000" stroke-width="1.0" />
<line x1="391.0" y1="540.3" x2="393.6" y2="540.3" stroke="#000" stroke-width="1.0" />
<line x1="394.8" y1="533.0" x2="394.8" y2="540.9" stroke="#000" stroke-width="1.0" />
<line x1="393.5" y1="533.0" x2="396.1" y2="533.0" stroke="#000" stroke-width="1.0" />
<line x1="393.5" y1="540.9" x2="396.1" y2="540.9" stroke="#000" stroke-width="1.0" />
<line x1="397.2" y1="531.7" x2="397.2" y2="539.6" stroke="#000" stroke-width="1.0" />
<line x1="395.9" y1="531.7" x2="398.5" y2="531.7" stroke="#000" stroke-width="1.0" />
<line x1="395.9" y1="539.6" x2="398.5" y2="539.6" stroke="#000" stroke-width="1.0" />
<line x1="399.7" y1="533.1" x2="399.7" y2="541.0" stroke="#000" stroke-width="1.0" />
<line x1="398.4" y1="533.1" x2="401.0" y2="533.1" stroke="#000" stroke-width="1.0" />
<line x1="398.4" y1="541.0" x2="401.0" y2="541.0" stroke="#000" stroke-width="1.0" />
<line x1="402.1" y1="532.7" x2="402.1" y2="540.6" stroke="#000" stroke-width="1.0" />
<line x1="400.8" y1="532.7" x2="403.4" y2="532.7" stroke="#000" stroke-width="1.0" />
<line x1="400.8" y1="540.6" x2="403.4" y2="540.6" stroke="#000" stroke-width="1.0" />
<line x1="404.6" y1="532.2" x2="404.6" y2="540.1" stroke="#000" stroke-width="1.0" />
<line x1="403.3" y1="532.2" x2="405.9" y2="532.2" stroke="#000" stroke-width="1.0" />
<line x1="403.3" y1="540.1" x2="405.9" y2="540.1" stroke="#000" stroke-width="1.0" />
<line x1="407.0" y1="531.7" x2="407.0" y2="539.6" stroke="#000" stroke-width="1.0" />
<line x1="405.7" y1="531.7" x2="408.3" y2="531.7" stroke="#000" stroke-width="1.0" />
<line x1="405.7" y1="539.6" x2="408.3" y2="539.6" stroke="#000" stroke-width="1.0" />
<line x1="409.5" y1="532.9" x2="409.5" y2="540.7" stroke="#000" stroke-width="1.0" />
<line x1="408.2" y1="532.9" x2="410.8" y2="532.9" stroke="#000" stroke-width="1.0" />
<line x1="408.2" y1="540.7" x2="410.8" y2="540.7" stroke="#000" stroke-width="1.0" />
<line x1="412.0" y1="533.2" x2="412.0" y2="541.0" stroke="#000" stroke-width="1.0" />
<line x1="410.7" y1="533.2" x2="413.3" y2="533.2" stroke="#000" stroke-width="1.0" />
<line x1="410.7" y1="541.0" x2="413.3" y2="541.0" stroke="#000" stroke-width="1.0" />
<line x1="414.4" y1="531.1" x2="414.4" y2="539.0" stroke="#000" stroke-width="1.0" />
<line x1="413.1" y1="531.1" x2="415.7" y2="531.1" stroke="#000" stroke-width="1.0" />
<line x1="413.1" y1="539.0" x2="415.7" y2="539.0" stroke="#000" stroke-width="1.0" />
<line x1="416.9" y1="532.5" x2="416.9" y2="540.4" stroke="#000" stroke-width="1.0" />
<line x1="415.6" y1="532.5" x2="418.2" y2="532.5" stroke="#000" stroke-width="1.0" />
<line x1="415.6" y1="540.4" x2="418.2" y2="540.4" stroke="#000" stroke-width="1.0" />
<line x1="419.3" y1="530.9" x2="419.3" y2="538.8" stroke="#000" stroke-width="1.0" />
<line x1="418.0" y1="530.9" x2="420.6" y2="530.9" stroke="#000" stroke-width="1.0" />
<line x1="418.0" y1="538.8" x2="420.6" y2="538.8" stroke="#000" stroke-width="1.0" />
<line x1="421.8" y1="531.1" x2="421.8" y2="538.9" stroke="#000" stroke-width="1.0" />
<line x1="420.5" y1="531.1" x2="423.1" y2="531.1" stroke="#000" stroke-width="1.0" />
<line x1="420.5" y1="538.9" x2="423.1" y2="538.9" stroke="#000" stroke-width="1.0" />
<line x1="424.2" y1="532.4" x2="424.2" y2="540.2" stroke="#000" stroke-width="1.0" />
<line x1="422.9" y1="532.4" x2="425.5" y2="532.4" stroke="#000" stroke-width="1.0" />
<line x1="422.9" y1="540.2" x2="425.5" y2="540.2" stroke="#000" stroke-width="1.0" />
<line x1="426.7" y1="532.1" x2="426.7" y2="540.0" stroke="#000" stroke-width="1.0" />
<line x1="425.4" y1="532.1" x2="428.0" y2="532.1" stroke="#000" stroke-width="1.0" />
<line x1="425.4" y1="540.0" x2="428.0" y2="540.0" stroke="#000" stroke-width="1.0" />
<line x1="429.1" y1="532.0" x2="429.1" y2="539.8" stroke="#000" stroke-width="1.0" />
<line x1="427.8" y1="532.0" x2="430.4" y2="532.0" stroke="#000" stroke-width="1.0" />
<line x1="427.8" y1="539.8" x2="430.4" y2="539.8" stroke="#000" stroke-width="1.0" />
<line x1="431.6" y1="531.6" x2="431.6" y2="539.5" stroke="#000" stroke-width="1.0" />
<line x1="430.3" y1="531.6" x2="432.9" y2="531.6" stroke="#000" stroke-width="1.0" />
<line x1="430.3" y1="539.5" x2="432.9" y2="539.5" stroke="#000" stroke-width="1.0" />
<line x1="434.1" y1="531.7" x2="434.1" y2="539.6" stroke="#000" stroke-width="1.0" />
<line x1="432.8" y1="531.7" x2="435.4" y2="531.7" stroke="#000" stroke-width="1.0" />
<line x1="432.8" y1="539.6" x2="435.4" y2="539.6" stroke="#000" stroke-width="1.0" />
<line x1="436.5" y1="531.8" x2="436.5" y2="539.6" stroke="#000" stroke-width="1.0" />
<line x1="435.2" y1="531.8" x2="437.8" y2="531.8" stroke="#000" stroke-width="1.0" />
<line x1="435.2" y1="539.6" x2="437.8" y2="539.6" stroke="#000" stroke-width="1.0" />
<line x1="439.0" y1="531.6" x2="439.0" y2="539.5" stroke="#000" stroke-width="1.0" />
<line x1="437.7" y1="531.6" x2="440.3" y2="531.6" stroke="#000" stroke-width="1.0" />
<line x1="437.7" y1="539.5" x2="440.3" y2="539.5" stroke="#000" stroke-width="1.0" />
<line x1="441.4" y1="530.8" x2="441.4" y2="538.6" stroke="#000" stroke-width="1.0" />
<line x1="440.1" y1="530.8" x2="442.7" y2="530.8" stroke="#000" stroke-width="1.0" />
<line x1="440.1" y1="538.6" x2="442.7" y2="538.6" stroke="#000" stroke-width="1.0" />
<line x1="443.9" y1="531.8" x2="443.9" y2="539.7" stroke="#000" stroke-width="1.0" />
<line x1="442.6" y1="531.8" x2="445.2" y2="531.8" stroke="#000" stroke-width="1.0" />
<line x1="442.6" y1="539.7" x2="445.2" y2="539.7" stroke="#000" stroke-width="1.0" />
<line x1="446.3" y1="532.0" x2="446.3" y2="539.9" stroke="#000" stroke-width="1.0" />
<line x1="445.0" y1="532.0" x2="447.6" y2="532.0" stroke="#000" stroke-width="1.0" />
<line x1="445.0" y1="539.9" x2="447.6" y2="539.9" stroke="#000" stroke-width="1.0" />
<line x1="448.8" y1="531.2" x2="448.8" y2="539.1" stroke="#000" stroke-width="1.0" />
<line x1="447.5" y1="531.2" x2="450.1" y2="531.2" stroke="#000" stroke-width="1.0" />
<line x1="447.5" y1="539.1" x2="450.1" y2="539.1" stroke="#000" stroke-width="1.0" />
<line x1="451.3" y1="532.4" x2="451.3" y2="540.3" stroke="#000" stroke-width="1.0" />
<line x1="450.0" y1="532.4" x2="452.6" y2="532.4" stroke="#000" stroke-width="1.0" />
<line x1="450.0" y1="540.3" x2="452.6" y2="540.3" stroke="#000" stroke-width="1.0" />
<line x1="453.7" y1="532.2" x2="453.7" y2="540.1" stroke="#000" stroke-width="1.0" />
<line x1="452.4" y1="532.2" x2="455.0" y2="532.2" stroke="#000" stroke-width="1.0" />
<line x1="452.4" y1="540.1" x2="455.0" y2="540.1" stroke="#000" stroke-width="1.0" />
<line x1="456.2" y1="530.5" x2="456.2" y2="538.4" stroke="#000" stroke-width="1.0" />
<line x1="454.9" y1="530.5" x2="457.5" y2="530.5" stroke="#000" stroke-width="1.0" />
<line x1="454.9" y1="538.4" x2="457.5" y2="538.4" stroke="#000" stroke-width="1.0" />
<line x1="458.6" y1="531.6" x2="458.6" y2="539.5" stroke="#000" stroke-width="1.0" />
<line x1="457.3" y1="531.6" x2="459.9" y2="531.6" stroke="#000" stroke-width="1.0" />
<line x1="457.3" y1="539.5" x2="459.9" y2="539.5" stroke="#000" stroke-width="1.0" />
<line x1="461.1" y1="531.5" x2="461.1" y2="539.4" stroke="#000" stroke-width="1.0" />
<line x1="459.8" y1="531.5" x2="462.4" y2="531.5" stroke="#000" stroke-width="1.0" />
<line x1="459.8" y1="539.4" x2="462.4" y2="539.4" stroke="#000" stroke-width="1.0" />
<line x1="463.5" y1="532.9" x2="463.5" y2="540.7" stroke="#000" stroke-width="1.0" />
<line x1="462.2" y1="532.9" x2="464.8" y2="532.9" stroke="#000" stroke-width="1.0" />
<line x1="462.2" y1="540.7" x2="464.8" y2="540.7" stroke="#000" stroke-width="1.0" />
<line x1="466.0" y1="531.8" x2="466.0" y2="539.7" stroke="#000" stroke-width="1.0" />
<line x1="464.7" y1="531.8" x2="467.3" y2="531.8" stroke="#000" stroke-width="1.0" />
<line x1="464.7" y1="539.7" x2="467.3" y2="539.7" stroke="#000" stroke-width="1.0" />
<circle cx="126.2" cy="575.7" r="3.4" fill="#000"/>
<circle cx="131.0" cy="572.5" r="3.4" fill="#000"/>
<circle cx="135.9" cy="570.3" r="3.4" fill="#000"/>
<circle cx="139.1" cy="574.1" r="3.4" fill="#000"/>
<circle cx="143.8" cy="570.3" r="3.4" fill="#000"/>
<circle cx="150.2" cy="568.4" r="3.4" fill="#000"/>
<circle cx="155.0" cy="573.5" r="3.4" fill="#000"/>
<circle cx="159.8" cy="573.5" r="3.4" fill="#000"/>
<circle cx="164.6" cy="572.5" r="3.4" fill="#000"/>
<circle cx="169.4" cy="571.6" r="3.4" fill="#000"/>
<circle cx="174.1" cy="567.7" r="3.4" fill="#000"/>
<circle cx="179.0" cy="570.9" r="3.4" fill="#000"/>
<circle cx="183.8" cy="567.7" r="3.4" fill="#000"/>
<circle cx="186.0" cy="546.0" r="3.4" fill="#000"/>
<circle cx="188.5" cy="547.0" r="3.4" fill="#000"/>
<circle cx="190.9" cy="549.2" r="3.4" fill="#000"/>
<circle cx="193.4" cy="548.8" r="3.4" fill="#000"/>
<circle cx="195.8" cy="548.2" r="3.4" fill="#000"/>
<circle cx="198.3" cy="549.0" r="3.4" fill="#000"/>
<circle cx="200.7" cy="548.5" r="3.4" fill="#000"/>
<circle cx="203.2" cy="545.8" r="3.4" fill="#000"/>
<circle cx="205.7" cy="546.7" r="3.4" fill="#000"/>
<circle cx="208.1" cy="546.1" r="3.4" fill="#000"/>
<circle cx="210.6" cy="543.6" r="3.4" fill="#000"/>
<circle cx="213.0" cy="544.3" r="3.4" fill="#000"/>
<circle cx="215.5" cy="542.7" r="3.4" fill="#000"/>
<circle cx="217.9" cy="543.0" r="3.4" fill="#000"/>
<circle cx="220.4" cy="541.9" r="3.4" fill="#000"/>
<circle cx="222.8" cy="542.3" r="3.4" fill="#000"/>
<circle cx="225.3" cy="540.3" r="3.4" fill="#000"/>
<circle cx="227.8" cy="538.9" r="3.4" fill="#000"/>
<circle cx="230.2" cy="539.0" r="3.4" fill="#000"/>
<circle cx="232.7" cy="538.1" r="3.4" fill="#000"/>
<circle cx="235.1" cy="538.9" r="3.4" fill="#000"/>
<circle cx="237.6" cy="541.1" r="3.4" fill="#000"/>
<circle cx="240.0" cy="540.0" r="3.4" fill="#000"/>
<circle cx="242.5" cy="540.4" r="3.4" fill="#000"/>
<circle cx="244.9" cy="540.3" r="3.4" fill="#000"/>
<circle cx="247.4" cy="540.2" r="3.4" fill="#000"/>
<circle cx="249.9" cy="537.3" r="3.4" fill="#000"/>
<circle cx="252.3" cy="537.5" r="3.4" fill="#000"/>
<circle cx="254.8" cy="535.9" r="3.4" fill="#000"/>
<circle cx="257.2" cy="534.2" r="3.4" fill="#000"/>
<circle cx="259.7" cy="533.2" r="3.4" fill="#000"/>
<circle cx="262.1" cy="531.4" r="3.4" fill="#000"/>
<circle cx="264.6" cy="531.3" r="3.4" fill="#000"/>
<circle cx="267.1" cy="529.6" r="3.4" fill="#000"/>
<circle cx="269.5" cy="529.8" r="3.4" fill="#000"/>
<circle cx="272.0" cy="527.9" r="3.4" fill="#000"/>
<circle cx="274.4" cy="527.8" r="3.4" fill="#000"/>
<circle cx="276.9" cy="530.4" r="3.4" fill="#000"/>
<circle cx="279.3" cy="531.1" r="3.4" fill="#000"/>
<circle cx="281.8" cy="531.6" r="3.4" fill="#000"/>
<circle cx="284.2" cy="530.4" r="3.4" fill="#000"/>
<circle cx="286.7" cy="532.4" r="3.4" fill="#000"/>
<circle cx="289.2" cy="532.5" r="3.4" fill="#000"/>
<circle cx="291.6" cy="533.9" r="3.4" fill="#000"/>
<circle cx="294.1" cy="533.9" r="3.4" fill="#000"/>
<circle cx="296.5" cy="534.8" r="3.4" fill="#000"/>
<circle cx="299.0" cy="535.5" r="3.4" fill="#000"/>
<circle cx="301.4" cy="535.4" r="3.4" fill="#000"/>
<circle cx="303.9" cy="535.4" r="3.4" fill="#000"/>
<circle cx="306.3" cy="534.5" r="3.4" fill="#000"/>
<circle cx="308.8" cy="534.9" r="3.4" fill="#000"/>
<circle cx="311.3" cy="534.2" r="3.4" fill="#000"/>
<circle cx="313.7" cy="534.3" r="3.4" fill="#000"/>
<circle cx="316.2" cy="533.8" r="3.4" fill="#000"/>
<circle cx="318.6" cy="534.5" r="3.4" fill="#000"/>
<circle cx="321.1" cy="535.7" r="3.4" fill="#000"/>
<circle cx="323.5" cy="533.8" r="3.4" fill="#000"/>
<circle cx="326.0" cy="533.7" r="3.4" fill="#000"/>
<circle cx="328.5" cy="534.1" r="3.4" fill="#000"/>
<circle cx="330.9" cy="535.1" r="3.4" fill="#000"/>
<circle cx="333.4" cy="535.0" r="3.4" fill="#000"/>
<circle cx="335.8" cy="536.5" r="3.4" fill="#000"/>
<circle cx="338.3" cy="535.1" r="3.4" fill="#000"/>
<circle cx="340.7" cy="536.0" r="3.4" fill="#000"/>
<circle cx="343.2" cy="536.9" r="3.4" fill="#000"/>
<circle cx="345.6" cy="537.7" r="3.4" fill="#000"/>
<circle cx="348.1" cy="535.9" r="3.4" fill="#000"/>
<circle cx="350.6" cy="535.7" r="3.4" fill="#000"/>
<circle cx="353.0" cy="538.2" r="3.4" fill="#000"/>
<circle cx="355.5" cy="536.5" r="3.4" fill="#000"/>
<circle cx="357.9" cy="537.3" r="3.4" fill="#000"/>
<circle cx="360.4" cy="537.8" r="3.4" fill="#000"/>
<circle cx="362.8" cy="537.3" r="3.4" fill="#000"/>
<circle cx="365.3" cy="536.0" r="3.4" fill="#000"/>
<circle cx="367.7" cy="535.6" r="3.4" fill="#000"/>
<circle cx="370.2" cy="537.5" r="3.4" fill="#000"/>
<circle cx="372.7" cy="535.9" r="3.4" fill="#000"/>
<circle cx="375.1" cy="537.2" r="3.4" fill="#000"/>
<circle cx="377.6" cy="535.4" r="3.4" fill="#000"/>
<circle cx="380.0" cy="536.2" r="3.4" fill="#000"/>
<circle cx="382.5" cy="534.9" r="3.4" fill="#000"/>
<circle cx="384.9" cy="534.6" r="3.4" fill="#000"/>
<circle cx="387.4" cy="535.8" r="3.4" fill="#000"/>
<circle cx="389.9" cy="534.6" r="3.4" fill="#000"/>
<circle cx="392.3" cy="536.3" r="3.4" fill="#000"/>
<circle cx="394.8" cy="536.9" r="3.4" fill="#000"/>
<circle cx="397.2" cy="535.6" r="3.4" fill="#000"/>
<circle cx="399.7" cy="537.1" r="3.4" fill="#000"/>
<circle cx="402.1" cy="536.7" r="3.4" fill="#000"/>
<circle cx="404.6" cy="536.1" r="3.4" fill="#000"/>
<circle cx="407.0" cy="535.6" r="3.4" fill="#000"/>
<circle cx="409.5" cy="536.8" r="3.4" fill="#000"/>
<circle cx="412.0" cy="537.1" r="3.4" fill="#000"/>
<circle cx="414.4" cy="535.0" r="3.4" fill="#000"/>
<circle cx="416.9" cy="536.4" r="3.4" fill="#000"/>
<circle cx="419.3" cy="534.8" r="3.4" fill="#000"/>
<circle cx="421.8" cy="535.0" r="3.4" fill="#000"/>
<circle cx="424.2" cy="536.3" r="3.4" fill="#000"/>
<circle cx="426.7" cy="536.1" r="3.4" fill="#000"/>
<circle cx="429.1" cy="535.9" r="3.4" fill="#000"/>
<circle cx="431.6" cy="535.6" r="3.4" fill="#000"/>
<circle cx="434.1" cy="535.6" r="3.4" fill="#000"/>
<circle cx="436.5" cy="535.7" r="3.4" fill="#000"/>
<circle cx="439.0" cy="535.5" r="3.4" fill="#000"/>
<circle cx="441.4" cy="534.7" r="3.4" fill="#000"/>
<circle cx="443.9" cy="535.8" r="3.4" fill="#000"/>
<circle cx="446.3" cy="535.9" r="3.4" fill="#000"/>
<circle cx="448.8" cy="535.2" r="3.4" fill="#000"/>
<circle cx="451.3" cy="536.4" r="3.4" fill="#000"/>
<circle cx="453.7" cy="536.2" r="3.4" fill="#000"/>
<circle cx="456.2" cy="534.4" r="3.4" fill="#000"/>
<circle cx="458.6" cy="535.6" r="3.4" fill="#000"/>
<circle cx="461.1" cy="535.5" r="3.4" fill="#000"/>
<circle cx="463.5" cy="536.8" r="3.4" fill="#000"/>
<circle cx="466.0" cy="535.7" r="3.4" fill="#000"/>
<line x1="104.5" y1="510.6" x2="117.8" y2="510.6" stroke="#000" stroke-width="1.5" />
<circle cx="111.6" cy="510.6" r="2.7" fill="#000"/>
<text x="120.3" y="512.9" font-family='"Liberation Sans", sans-serif' font-size="12.8" font-weight="bold" fill="#000" text-anchor="start"  textLength="35" lengthAdjust="spacingAndGlyphs">sTBS</text>
<text x="160.1" y="551.5" font-family='"Liberation Sans", sans-serif' font-size="10" font-weight="bold" fill="#000" text-anchor="middle" >1</text>
<text x="212.2" y="530.1" font-family='"Liberation Sans", sans-serif' font-size="10" font-weight="bold" fill="#000" text-anchor="middle" >2</text>
<text x="397.0" y="514.6" font-family='"Liberation Sans", sans-serif' font-size="10" font-weight="bold" fill="#000" text-anchor="middle" >3</text>
<text x="391.2" y="604.0" font-family='"Liberation Sans", sans-serif' font-size="12" font-weight="bold" fill="#000" text-anchor="start"  textLength="90.2" lengthAdjust="spacingAndGlyphs">n=8 chs/1 slice</text>
<line x1="187.5" y1="589.0" x2="187.5" y2="609.5" stroke="#000" stroke-width="1.6" />
<path d="M184.3,591.0 L190.7,591.0 L187.5,584.0 Z" fill="#000"/>
<line x1="218.2" y1="594.6" x2="218.2" y2="608.0" stroke="#f01212" stroke-width="1.6" />
<path d="M215.0,596.6 L221.4,596.6 L218.2,589.6 Z" fill="#f01212"/>
<line x1="87.7" y1="837.6" x2="87.7" y2="957.2" stroke="#000" stroke-width="1.9" />
<line x1="82.3" y1="838.2" x2="87.7" y2="838.2" stroke="#000" stroke-width="1.9" />
<text x="76.2" y="842.5" font-family='"Liberation Sans", sans-serif' font-size="12.2" font-weight="bold" fill="#000" text-anchor="end"  textLength="21.2" lengthAdjust="spacingAndGlyphs">200</text>
<line x1="82.3" y1="877.6" x2="87.7" y2="877.6" stroke="#000" stroke-width="1.9" />
<text x="76.2" y="881.9" font-family='"Liberation Sans", sans-serif' font-size="12.2" font-weight="bold" fill="#000" text-anchor="end"  textLength="21.2" lengthAdjust="spacingAndGlyphs">150</text>
<line x1="82.3" y1="916.9" x2="87.7" y2="916.9" stroke="#000" stroke-width="1.9" />
<text x="76.2" y="921.2" font-family='"Liberation Sans", sans-serif' font-size="12.2" font-weight="bold" fill="#000" text-anchor="end"  textLength="21.2" lengthAdjust="spacingAndGlyphs">100</text>
<line x1="82.3" y1="956.3" x2="87.7" y2="956.3" stroke="#000" stroke-width="1.9" />
<text x="76.2" y="960.6" font-family='"Liberation Sans", sans-serif' font-size="12.2" font-weight="bold" fill="#000" text-anchor="end"  textLength="14.1" lengthAdjust="spacingAndGlyphs">50</text>
<line x1="96.9" y1="955.9" x2="496.9" y2="955.9" stroke="#000" stroke-width="1.9" />
<line x1="96.9" y1="955.9" x2="96.9" y2="958.5" stroke="#000" stroke-width="1.7" />
<line x1="127.6" y1="955.9" x2="127.6" y2="960.9" stroke="#000" stroke-width="1.7" />
<line x1="158.3" y1="955.9" x2="158.3" y2="958.5" stroke="#000" stroke-width="1.7" />
<line x1="189.0" y1="955.9" x2="189.0" y2="960.9" stroke="#000" stroke-width="1.7" />
<line x1="219.7" y1="955.9" x2="219.7" y2="958.5" stroke="#000" stroke-width="1.7" />
<line x1="250.4" y1="955.9" x2="250.4" y2="960.9" stroke="#000" stroke-width="1.7" />
<line x1="281.1" y1="955.9" x2="281.1" y2="958.5" stroke="#000" stroke-width="1.7" />
<line x1="311.8" y1="955.9" x2="311.8" y2="960.9" stroke="#000" stroke-width="1.7" />
<line x1="342.5" y1="955.9" x2="342.5" y2="958.5" stroke="#000" stroke-width="1.7" />
<line x1="373.2" y1="955.9" x2="373.2" y2="960.9" stroke="#000" stroke-width="1.7" />
<line x1="403.9" y1="955.9" x2="403.9" y2="958.5" stroke="#000" stroke-width="1.7" />
<line x1="434.6" y1="955.9" x2="434.6" y2="960.9" stroke="#000" stroke-width="1.7" />
<line x1="465.3" y1="955.9" x2="465.3" y2="958.5" stroke="#000" stroke-width="1.7" />
<line x1="496.0" y1="955.9" x2="496.0" y2="960.9" stroke="#000" stroke-width="1.7" />
<text x="126.8" y="978.1" font-family='"Liberation Sans", sans-serif' font-size="12.2" font-weight="bold" fill="#000" text-anchor="middle" >-1</text>
<text x="189.0" y="978.1" font-family='"Liberation Sans", sans-serif' font-size="12.2" font-weight="bold" fill="#000" text-anchor="middle" >0</text>
<text x="250.4" y="978.1" font-family='"Liberation Sans", sans-serif' font-size="12.2" font-weight="bold" fill="#000" text-anchor="middle" >1</text>
<text x="311.8" y="978.1" font-family='"Liberation Sans", sans-serif' font-size="12.2" font-weight="bold" fill="#000" text-anchor="middle" >2</text>
<text x="373.2" y="978.1" font-family='"Liberation Sans", sans-serif' font-size="12.2" font-weight="bold" fill="#000" text-anchor="middle" >3</text>
<text x="434.6" y="978.1" font-family='"Liberation Sans", sans-serif' font-size="12.2" font-weight="bold" fill="#000" text-anchor="middle" >4</text>
<text x="496.0" y="978.1" font-family='"Liberation Sans", sans-serif' font-size="12.2" font-weight="bold" fill="#000" text-anchor="middle" >5</text>
<text x="259.9" y="988.9" font-family='"Liberation Sans", sans-serif' font-size="12" font-weight="bold" fill="#000" text-anchor="start"  textLength="48.3" lengthAdjust="spacingAndGlyphs">Time (h)</text>
<text x="0" y="0" font-family='"Liberation Sans", sans-serif' font-size="13.5" font-weight="bold" fill="#000" text-anchor="middle" textLength="98" lengthAdjust="spacingAndGlyphs" transform="translate(46.6 891.3) rotate(-90)">fEPSP slope (%)</text>
<line x1="92.2" y1="916.4" x2="486.6" y2="916.4" stroke="#000" stroke-width="1.7" stroke-dasharray="4.6,2.6"/>
<path d="M128.8,918.9 L132.9,913.2 L137.0,919.3 L141.1,915.2 L145.1,914.4 L149.8,921.3 L153.8,916.4 L157.9,919.9 L162.0,915.2 L166.1,914.4 L170.2,919.9 L174.2,915.2 L178.2,918.9 L182.3,913.2 L186.4,910.7 L190.5,907.0 L194.6,905.6 L198.6,907.7 L202.7,903.6 L206.7,912.4 L210.8,904.6 L214.9,911.7 L219.0,903.6 L223.0,908.7 L227.1,906.2 L231.2,902.6 L235.2,898.5 L239.3,904.6 L243.3,892.4 L247.4,900.9 L251.5,897.5 L255.6,901.5 L259.5,888.3 L263.5,891.3 L267.5,897.5 L271.6,895.4 L275.7,890.3 L279.8,890.3 L283.9,901.5 L287.9,898.1 L292.0,887.3 L296.1,892.4 L300.1,893.4 L304.2,897.5 L308.2,887.3 L312.3,897.5 L316.4,887.3 L320.5,888.3 L324.6,884.2 L328.6,881.1 L332.6,891.3 L336.7,882.1 L340.8,877.0 L344.9,880.1 L349.0,882.1 L353.0,881.1 L357.1,884.2 L361.1,883.8 L365.2,883.8 L369.3,884.2 L373.3,886.2 L377.4,892.4 L381.5,890.3 L385.6,888.3 L388.3,888.2 L391.1,890.2 L393.8,887.7 L396.6,887.3 L399.4,889.9 L402.1,888.6 L404.9,889.9 L407.7,889.9 L410.4,891.2 L413.2,889.0 L416.0,887.9 L418.7,889.4 L421.5,888.7 L424.2,887.0 L427.0,886.6 L429.8,892.7 L432.5,896.0 L435.3,896.7 L438.1,897.1 L440.8,896.3 L443.6,898.2 L446.3,900.5 L449.1,902.2 L451.9,902.0 L454.6,899.7 L457.4,897.9 L460.2,901.9 L462.9,901.6 L465.7,903.5" fill="none" stroke="#f01212" stroke-width="1.5"/>
<line x1="190.5" y1="904.6" x2="190.5" y2="909.4" stroke="#f01212" stroke-width="1.0" />
<line x1="189.2" y1="904.6" x2="191.8" y2="904.6" stroke="#f01212" stroke-width="1.0" />
<line x1="189.2" y1="909.4" x2="191.8" y2="909.4" stroke="#f01212" stroke-width="1.0" />
<line x1="194.6" y1="903.2" x2="194.6" y2="908.0" stroke="#f01212" stroke-width="1.0" />
<line x1="193.3" y1="903.2" x2="195.9" y2="903.2" stroke="#f01212" stroke-width="1.0" />
<line x1="193.3" y1="908.0" x2="195.9" y2="908.0" stroke="#f01212" stroke-width="1.0" />
<line x1="198.6" y1="905.3" x2="198.6" y2="910.1" stroke="#f01212" stroke-width="1.0" />
<line x1="197.3" y1="905.3" x2="199.9" y2="905.3" stroke="#f01212" stroke-width="1.0" />
<line x1="197.3" y1="910.1" x2="199.9" y2="910.1" stroke="#f01212" stroke-width="1.0" />
<line x1="202.7" y1="901.2" x2="202.7" y2="906.0" stroke="#f01212" stroke-width="1.0" />
<line x1="201.4" y1="901.2" x2="204.0" y2="901.2" stroke="#f01212" stroke-width="1.0" />
<line x1="201.4" y1="906.0" x2="204.0" y2="906.0" stroke="#f01212" stroke-width="1.0" />
<line x1="206.7" y1="910.0" x2="206.7" y2="914.8" stroke="#f01212" stroke-width="1.0" />
<line x1="205.4" y1="910.0" x2="208.0" y2="910.0" stroke="#f01212" stroke-width="1.0" />
<line x1="205.4" y1="914.8" x2="208.0" y2="914.8" stroke="#f01212" stroke-width="1.0" />
<line x1="210.8" y1="902.2" x2="210.8" y2="907.0" stroke="#f01212" stroke-width="1.0" />
<line x1="209.5" y1="902.2" x2="212.1" y2="902.2" stroke="#f01212" stroke-width="1.0" />
<line x1="209.5" y1="907.0" x2="212.1" y2="907.0" stroke="#f01212" stroke-width="1.0" />
<line x1="214.9" y1="909.3" x2="214.9" y2="914.1" stroke="#f01212" stroke-width="1.0" />
<line x1="213.6" y1="909.3" x2="216.2" y2="909.3" stroke="#f01212" stroke-width="1.0" />
<line x1="213.6" y1="914.1" x2="216.2" y2="914.1" stroke="#f01212" stroke-width="1.0" />
<line x1="219.0" y1="901.2" x2="219.0" y2="906.0" stroke="#f01212" stroke-width="1.0" />
<line x1="217.7" y1="901.2" x2="220.3" y2="901.2" stroke="#f01212" stroke-width="1.0" />
<line x1="217.7" y1="906.0" x2="220.3" y2="906.0" stroke="#f01212" stroke-width="1.0" />
<line x1="223.0" y1="906.3" x2="223.0" y2="911.1" stroke="#f01212" stroke-width="1.0" />
<line x1="221.7" y1="906.3" x2="224.3" y2="906.3" stroke="#f01212" stroke-width="1.0" />
<line x1="221.7" y1="911.1" x2="224.3" y2="911.1" stroke="#f01212" stroke-width="1.0" />
<line x1="227.1" y1="903.8" x2="227.1" y2="908.6" stroke="#f01212" stroke-width="1.0" />
<line x1="225.8" y1="903.8" x2="228.4" y2="903.8" stroke="#f01212" stroke-width="1.0" />
<line x1="225.8" y1="908.6" x2="228.4" y2="908.6" stroke="#f01212" stroke-width="1.0" />
<line x1="231.2" y1="900.2" x2="231.2" y2="905.0" stroke="#f01212" stroke-width="1.0" />
<line x1="229.9" y1="900.2" x2="232.5" y2="900.2" stroke="#f01212" stroke-width="1.0" />
<line x1="229.9" y1="905.0" x2="232.5" y2="905.0" stroke="#f01212" stroke-width="1.0" />
<line x1="235.2" y1="896.1" x2="235.2" y2="900.9" stroke="#f01212" stroke-width="1.0" />
<line x1="233.9" y1="896.1" x2="236.5" y2="896.1" stroke="#f01212" stroke-width="1.0" />
<line x1="233.9" y1="900.9" x2="236.5" y2="900.9" stroke="#f01212" stroke-width="1.0" />
<line x1="239.3" y1="902.2" x2="239.3" y2="907.0" stroke="#f01212" stroke-width="1.0" />
<line x1="238.0" y1="902.2" x2="240.6" y2="902.2" stroke="#f01212" stroke-width="1.0" />
<line x1="238.0" y1="907.0" x2="240.6" y2="907.0" stroke="#f01212" stroke-width="1.0" />
<line x1="243.3" y1="890.0" x2="243.3" y2="894.8" stroke="#f01212" stroke-width="1.0" />
<line x1="242.0" y1="890.0" x2="244.6" y2="890.0" stroke="#f01212" stroke-width="1.0" />
<line x1="242.0" y1="894.8" x2="244.6" y2="894.8" stroke="#f01212" stroke-width="1.0" />
<line x1="247.4" y1="898.5" x2="247.4" y2="903.3" stroke="#f01212" stroke-width="1.0" />
<line x1="246.1" y1="898.5" x2="248.7" y2="898.5" stroke="#f01212" stroke-width="1.0" />
<line x1="246.1" y1="903.3" x2="248.7" y2="903.3" stroke="#f01212" stroke-width="1.0" />
<line x1="251.5" y1="895.1" x2="251.5" y2="899.9" stroke="#f01212" stroke-width="1.0" />
<line x1="250.2" y1="895.1" x2="252.8" y2="895.1" stroke="#f01212" stroke-width="1.0" />
<line x1="250.2" y1="899.9" x2="252.8" y2="899.9" stroke="#f01212" stroke-width="1.0" />
<line x1="255.6" y1="899.1" x2="255.6" y2="903.9" stroke="#f01212" stroke-width="1.0" />
<line x1="254.3" y1="899.1" x2="256.9" y2="899.1" stroke="#f01212" stroke-width="1.0" />
<line x1="254.3" y1="903.9" x2="256.9" y2="903.9" stroke="#f01212" stroke-width="1.0" />
<line x1="259.5" y1="885.9" x2="259.5" y2="890.7" stroke="#f01212" stroke-width="1.0" />
<line x1="258.2" y1="885.9" x2="260.8" y2="885.9" stroke="#f01212" stroke-width="1.0" />
<line x1="258.2" y1="890.7" x2="260.8" y2="890.7" stroke="#f01212" stroke-width="1.0" />
<line x1="263.5" y1="888.9" x2="263.5" y2="893.7" stroke="#f01212" stroke-width="1.0" />
<line x1="262.2" y1="888.9" x2="264.8" y2="888.9" stroke="#f01212" stroke-width="1.0" />
<line x1="262.2" y1="893.7" x2="264.8" y2="893.7" stroke="#f01212" stroke-width="1.0" />
<line x1="267.5" y1="895.1" x2="267.5" y2="899.9" stroke="#f01212" stroke-width="1.0" />
<line x1="266.2" y1="895.1" x2="268.8" y2="895.1" stroke="#f01212" stroke-width="1.0" />
<line x1="266.2" y1="899.9" x2="268.8" y2="899.9" stroke="#f01212" stroke-width="1.0" />
<line x1="271.6" y1="893.0" x2="271.6" y2="897.8" stroke="#f01212" stroke-width="1.0" />
<line x1="270.3" y1="893.0" x2="272.9" y2="893.0" stroke="#f01212" stroke-width="1.0" />
<line x1="270.3" y1="897.8" x2="272.9" y2="897.8" stroke="#f01212" stroke-width="1.0" />
<line x1="275.7" y1="887.9" x2="275.7" y2="892.7" stroke="#f01212" stroke-width="1.0" />
<line x1="274.4" y1="887.9" x2="277.0" y2="887.9" stroke="#f01212" stroke-width="1.0" />
<line x1="274.4" y1="892.7" x2="277.0" y2="892.7" stroke="#f01212" stroke-width="1.0" />
<line x1="279.8" y1="887.9" x2="279.8" y2="892.7" stroke="#f01212" stroke-width="1.0" />
<line x1="278.5" y1="887.9" x2="281.1" y2="887.9" stroke="#f01212" stroke-width="1.0" />
<line x1="278.5" y1="892.7" x2="281.1" y2="892.7" stroke="#f01212" stroke-width="1.0" />
<line x1="283.9" y1="899.1" x2="283.9" y2="903.9" stroke="#f01212" stroke-width="1.0" />
<line x1="282.6" y1="899.1" x2="285.2" y2="899.1" stroke="#f01212" stroke-width="1.0" />
<line x1="282.6" y1="903.9" x2="285.2" y2="903.9" stroke="#f01212" stroke-width="1.0" />
<line x1="287.9" y1="895.7" x2="287.9" y2="900.5" stroke="#f01212" stroke-width="1.0" />
<line x1="286.6" y1="895.7" x2="289.2" y2="895.7" stroke="#f01212" stroke-width="1.0" />
<line x1="286.6" y1="900.5" x2="289.2" y2="900.5" stroke="#f01212" stroke-width="1.0" />
<line x1="292.0" y1="884.9" x2="292.0" y2="889.7" stroke="#f01212" stroke-width="1.0" />
<line x1="290.7" y1="884.9" x2="293.3" y2="884.9" stroke="#f01212" stroke-width="1.0" />
<line x1="290.7" y1="889.7" x2="293.3" y2="889.7" stroke="#f01212" stroke-width="1.0" />
<line x1="296.1" y1="890.0" x2="296.1" y2="894.8" stroke="#f01212" stroke-width="1.0" />
<line x1="294.8" y1="890.0" x2="297.4" y2="890.0" stroke="#f01212" stroke-width="1.0" />
<line x1="294.8" y1="894.8" x2="297.4" y2="894.8" stroke="#f01212" stroke-width="1.0" />
<line x1="300.1" y1="891.0" x2="300.1" y2="895.8" stroke="#f01212" stroke-width="1.0" />
<line x1="298.8" y1="891.0" x2="301.4" y2="891.0" stroke="#f01212" stroke-width="1.0" />
<line x1="298.8" y1="895.8" x2="301.4" y2="895.8" stroke="#f01212" stroke-width="1.0" />
<line x1="304.2" y1="895.1" x2="304.2" y2="899.9" stroke="#f01212" stroke-width="1.0" />
<line x1="302.9" y1="895.1" x2="305.5" y2="895.1" stroke="#f01212" stroke-width="1.0" />
<line x1="302.9" y1="899.9" x2="305.5" y2="899.9" stroke="#f01212" stroke-width="1.0" />
<line x1="308.2" y1="884.9" x2="308.2" y2="889.7" stroke="#f01212" stroke-width="1.0" />
<line x1="306.9" y1="884.9" x2="309.5" y2="884.9" stroke="#f01212" stroke-width="1.0" />
<line x1="306.9" y1="889.7" x2="309.5" y2="889.7" stroke="#f01212" stroke-width="1.0" />
<line x1="312.3" y1="895.1" x2="312.3" y2="899.9" stroke="#f01212" stroke-width="1.0" />
<line x1="311.0" y1="895.1" x2="313.6" y2="895.1" stroke="#f01212" stroke-width="1.0" />
<line x1="311.0" y1="899.9" x2="313.6" y2="899.9" stroke="#f01212" stroke-width="1.0" />
<line x1="316.4" y1="884.9" x2="316.4" y2="889.7" stroke="#f01212" stroke-width="1.0" />
<line x1="315.1" y1="884.9" x2="317.7" y2="884.9" stroke="#f01212" stroke-width="1.0" />
<line x1="315.1" y1="889.7" x2="317.7" y2="889.7" stroke="#f01212" stroke-width="1.0" />
<line x1="320.5" y1="885.9" x2="320.5" y2="890.7" stroke="#f01212" stroke-width="1.0" />
<line x1="319.2" y1="885.9" x2="321.8" y2="885.9" stroke="#f01212" stroke-width="1.0" />
<line x1="319.2" y1="890.7" x2="321.8" y2="890.7" stroke="#f01212" stroke-width="1.0" />
<line x1="324.6" y1="881.8" x2="324.6" y2="886.6" stroke="#f01212" stroke-width="1.0" />
<line x1="323.3" y1="881.8" x2="325.9" y2="881.8" stroke="#f01212" stroke-width="1.0" />
<line x1="323.3" y1="886.6" x2="325.9" y2="886.6" stroke="#f01212" stroke-width="1.0" />
<line x1="328.6" y1="878.7" x2="328.6" y2="883.5" stroke="#f01212" stroke-width="1.0" />
<line x1="327.3" y1="878.7" x2="329.9" y2="878.7" stroke="#f01212" stroke-width="1.0" />
<line x1="327.3" y1="883.5" x2="329.9" y2="883.5" stroke="#f01212" stroke-width="1.0" />
<line x1="332.6" y1="888.9" x2="332.6" y2="893.7" stroke="#f01212" stroke-width="1.0" />
<line x1="331.3" y1="888.9" x2="333.9" y2="888.9" stroke="#f01212" stroke-width="1.0" />
<line x1="331.3" y1="893.7" x2="333.9" y2="893.7" stroke="#f01212" stroke-width="1.0" />
<line x1="336.7" y1="879.7" x2="336.7" y2="884.5" stroke="#f01212" stroke-width="1.0" />
<line x1="335.4" y1="879.7" x2="338.0" y2="879.7" stroke="#f01212" stroke-width="1.0" />
<line x1="335.4" y1="884.5" x2="338.0" y2="884.5" stroke="#f01212" stroke-width="1.0" />
<line x1="340.8" y1="874.6" x2="340.8" y2="879.4" stroke="#f01212" stroke-width="1.0" />
<line x1="339.5" y1="874.6" x2="342.1" y2="874.6" stroke="#f01212" stroke-width="1.0" />
<line x1="339.5" y1="879.4" x2="342.1" y2="879.4" stroke="#f01212" stroke-width="1.0" />
<line x1="344.9" y1="877.7" x2="344.9" y2="882.5" stroke="#f01212" stroke-width="1.0" />
<line x1="343.6" y1="877.7" x2="346.2" y2="877.7" stroke="#f01212" stroke-width="1.0" />
<line x1="343.6" y1="882.5" x2="346.2" y2="882.5" stroke="#f01212" stroke-width="1.0" />
<line x1="349.0" y1="879.7" x2="349.0" y2="884.5" stroke="#f01212" stroke-width="1.0" />
<line x1="347.7" y1="879.7" x2="350.3" y2="879.7" stroke="#f01212" stroke-width="1.0" />
<line x1="347.7" y1="884.5" x2="350.3" y2="884.5" stroke="#f01212" stroke-width="1.0" />
<line x1="353.0" y1="878.7" x2="353.0" y2="883.5" stroke="#f01212" stroke-width="1.0" />
<line x1="351.7" y1="878.7" x2="354.3" y2="878.7" stroke="#f01212" stroke-width="1.0" />
<line x1="351.7" y1="883.5" x2="354.3" y2="883.5" stroke="#f01212" stroke-width="1.0" />
<line x1="357.1" y1="881.8" x2="357.1" y2="886.6" stroke="#f01212" stroke-width="1.0" />
<line x1="355.8" y1="881.8" x2="358.4" y2="881.8" stroke="#f01212" stroke-width="1.0" />
<line x1="355.8" y1="886.6" x2="358.4" y2="886.6" stroke="#f01212" stroke-width="1.0" />
<line x1="361.1" y1="881.4" x2="361.1" y2="886.2" stroke="#f01212" stroke-width="1.0" />
<line x1="359.8" y1="881.4" x2="362.4" y2="881.4" stroke="#f01212" stroke-width="1.0" />
<line x1="359.8" y1="886.2" x2="362.4" y2="886.2" stroke="#f01212" stroke-width="1.0" />
<line x1="365.2" y1="881.4" x2="365.2" y2="886.2" stroke="#f01212" stroke-width="1.0" />
<line x1="363.9" y1="881.4" x2="366.5" y2="881.4" stroke="#f01212" stroke-width="1.0" />
<line x1="363.9" y1="886.2" x2="366.5" y2="886.2" stroke="#f01212" stroke-width="1.0" />
<line x1="369.3" y1="881.8" x2="369.3" y2="886.6" stroke="#f01212" stroke-width="1.0" />
<line x1="368.0" y1="881.8" x2="370.6" y2="881.8" stroke="#f01212" stroke-width="1.0" />
<line x1="368.0" y1="886.6" x2="370.6" y2="886.6" stroke="#f01212" stroke-width="1.0" />
<line x1="373.3" y1="883.8" x2="373.3" y2="888.6" stroke="#f01212" stroke-width="1.0" />
<line x1="372.0" y1="883.8" x2="374.6" y2="883.8" stroke="#f01212" stroke-width="1.0" />
<line x1="372.0" y1="888.6" x2="374.6" y2="888.6" stroke="#f01212" stroke-width="1.0" />
<line x1="377.4" y1="890.0" x2="377.4" y2="894.8" stroke="#f01212" stroke-width="1.0" />
<line x1="376.1" y1="890.0" x2="378.7" y2="890.0" stroke="#f01212" stroke-width="1.0" />
<line x1="376.1" y1="894.8" x2="378.7" y2="894.8" stroke="#f01212" stroke-width="1.0" />
<line x1="381.5" y1="887.9" x2="381.5" y2="892.7" stroke="#f01212" stroke-width="1.0" />
<line x1="380.2" y1="887.9" x2="382.8" y2="887.9" stroke="#f01212" stroke-width="1.0" />
<line x1="380.2" y1="892.7" x2="382.8" y2="892.7" stroke="#f01212" stroke-width="1.0" />
<line x1="385.6" y1="885.9" x2="385.6" y2="890.7" stroke="#f01212" stroke-width="1.0" />
<line x1="384.3" y1="885.9" x2="386.9" y2="885.9" stroke="#f01212" stroke-width="1.0" />
<line x1="384.3" y1="890.7" x2="386.9" y2="890.7" stroke="#f01212" stroke-width="1.0" />
<line x1="388.3" y1="884.3" x2="388.3" y2="892.1" stroke="#f01212" stroke-width="1.0" />
<line x1="387.0" y1="884.3" x2="389.6" y2="884.3" stroke="#f01212" stroke-width="1.0" />
<line x1="387.0" y1="892.1" x2="389.6" y2="892.1" stroke="#f01212" stroke-width="1.0" />
<line x1="391.1" y1="886.2" x2="391.1" y2="894.1" stroke="#f01212" stroke-width="1.0" />
<line x1="389.8" y1="886.2" x2="392.4" y2="886.2" stroke="#f01212" stroke-width="1.0" />
<line x1="389.8" y1="894.1" x2="392.4" y2="894.1" stroke="#f01212" stroke-width="1.0" />
<line x1="393.8" y1="883.8" x2="393.8" y2="891.7" stroke="#f01212" stroke-width="1.0" />
<line x1="392.5" y1="883.8" x2="395.1" y2="883.8" stroke="#f01212" stroke-width="1.0" />
<line x1="392.5" y1="891.7" x2="395.1" y2="891.7" stroke="#f01212" stroke-width="1.0" />
<line x1="396.6" y1="883.3" x2="396.6" y2="891.2" stroke="#f01212" stroke-width="1.0" />
<line x1="395.3" y1="883.3" x2="397.9" y2="883.3" stroke="#f01212" stroke-width="1.0" />
<line x1="395.3" y1="891.2" x2="397.9" y2="891.2" stroke="#f01212" stroke-width="1.0" />
<line x1="399.4" y1="885.9" x2="399.4" y2="893.8" stroke="#f01212" stroke-width="1.0" />
<line x1="398.1" y1="885.9" x2="400.7" y2="885.9" stroke="#f01212" stroke-width="1.0" />
<line x1="398.1" y1="893.8" x2="400.7" y2="893.8" stroke="#f01212" stroke-width="1.0" />
<line x1="402.1" y1="884.7" x2="402.1" y2="892.6" stroke="#f01212" stroke-width="1.0" />
<line x1="400.8" y1="884.7" x2="403.4" y2="884.7" stroke="#f01212" stroke-width="1.0" />
<line x1="400.8" y1="892.6" x2="403.4" y2="892.6" stroke="#f01212" stroke-width="1.0" />
<line x1="404.9" y1="886.0" x2="404.9" y2="893.8" stroke="#f01212" stroke-width="1.0" />
<line x1="403.6" y1="886.0" x2="406.2" y2="886.0" stroke="#f01212" stroke-width="1.0" />
<line x1="403.6" y1="893.8" x2="406.2" y2="893.8" stroke="#f01212" stroke-width="1.0" />
<line x1="407.7" y1="885.9" x2="407.7" y2="893.8" stroke="#f01212" stroke-width="1.0" />
<line x1="406.4" y1="885.9" x2="409.0" y2="885.9" stroke="#f01212" stroke-width="1.0" />
<line x1="406.4" y1="893.8" x2="409.0" y2="893.8" stroke="#f01212" stroke-width="1.0" />
<line x1="410.4" y1="887.3" x2="410.4" y2="895.2" stroke="#f01212" stroke-width="1.0" />
<line x1="409.1" y1="887.3" x2="411.7" y2="887.3" stroke="#f01212" stroke-width="1.0" />
<line x1="409.1" y1="895.2" x2="411.7" y2="895.2" stroke="#f01212" stroke-width="1.0" />
<line x1="413.2" y1="885.1" x2="413.2" y2="892.9" stroke="#f01212" stroke-width="1.0" />
<line x1="411.9" y1="885.1" x2="414.5" y2="885.1" stroke="#f01212" stroke-width="1.0" />
<line x1="411.9" y1="892.9" x2="414.5" y2="892.9" stroke="#f01212" stroke-width="1.0" />
<line x1="416.0" y1="884.0" x2="416.0" y2="891.8" stroke="#f01212" stroke-width="1.0" />
<line x1="414.7" y1="884.0" x2="417.3" y2="884.0" stroke="#f01212" stroke-width="1.0" />
<line x1="414.7" y1="891.8" x2="417.3" y2="891.8" stroke="#f01212" stroke-width="1.0" />
<line x1="418.7" y1="885.5" x2="418.7" y2="893.3" stroke="#f01212" stroke-width="1.0" />
<line x1="417.4" y1="885.5" x2="420.0" y2="885.5" stroke="#f01212" stroke-width="1.0" />
<line x1="417.4" y1="893.3" x2="420.0" y2="893.3" stroke="#f01212" stroke-width="1.0" />
<line x1="421.5" y1="884.7" x2="421.5" y2="892.6" stroke="#f01212" stroke-width="1.0" />
<line x1="420.2" y1="884.7" x2="422.8" y2="884.7" stroke="#f01212" stroke-width="1.0" />
<line x1="420.2" y1="892.6" x2="422.8" y2="892.6" stroke="#f01212" stroke-width="1.0" />
<line x1="424.2" y1="883.1" x2="424.2" y2="891.0" stroke="#f01212" stroke-width="1.0" />
<line x1="422.9" y1="883.1" x2="425.5" y2="883.1" stroke="#f01212" stroke-width="1.0" />
<line x1="422.9" y1="891.0" x2="425.5" y2="891.0" stroke="#f01212" stroke-width="1.0" />
<line x1="427.0" y1="882.6" x2="427.0" y2="890.5" stroke="#f01212" stroke-width="1.0" />
<line x1="425.7" y1="882.6" x2="428.3" y2="882.6" stroke="#f01212" stroke-width="1.0" />
<line x1="425.7" y1="890.5" x2="428.3" y2="890.5" stroke="#f01212" stroke-width="1.0" />
<line x1="429.8" y1="888.8" x2="429.8" y2="896.7" stroke="#f01212" stroke-width="1.0" />
<line x1="428.5" y1="888.8" x2="431.1" y2="888.8" stroke="#f01212" stroke-width="1.0" />
<line x1="428.5" y1="896.7" x2="431.1" y2="896.7" stroke="#f01212" stroke-width="1.0" />
<line x1="432.5" y1="892.1" x2="432.5" y2="899.9" stroke="#f01212" stroke-width="1.0" />
<line x1="431.2" y1="892.1" x2="433.8" y2="892.1" stroke="#f01212" stroke-width="1.0" />
<line x1="431.2" y1="899.9" x2="433.8" y2="899.9" stroke="#f01212" stroke-width="1.0" />
<line x1="435.3" y1="892.8" x2="435.3" y2="900.7" stroke="#f01212" stroke-width="1.0" />
<line x1="434.0" y1="892.8" x2="436.6" y2="892.8" stroke="#f01212" stroke-width="1.0" />
<line x1="434.0" y1="900.7" x2="436.6" y2="900.7" stroke="#f01212" stroke-width="1.0" />
<line x1="438.1" y1="893.1" x2="438.1" y2="901.0" stroke="#f01212" stroke-width="1.0" />
<line x1="436.8" y1="893.1" x2="439.4" y2="893.1" stroke="#f01212" stroke-width="1.0" />
<line x1="436.8" y1="901.0" x2="439.4" y2="901.0" stroke="#f01212" stroke-width="1.0" />
<line x1="440.8" y1="892.4" x2="440.8" y2="900.3" stroke="#f01212" stroke-width="1.0" />
<line x1="439.5" y1="892.4" x2="442.1" y2="892.4" stroke="#f01212" stroke-width="1.0" />
<line x1="439.5" y1="900.3" x2="442.1" y2="900.3" stroke="#f01212" stroke-width="1.0" />
<line x1="443.6" y1="894.2" x2="443.6" y2="902.1" stroke="#f01212" stroke-width="1.0" />
<line x1="442.3" y1="894.2" x2="444.9" y2="894.2" stroke="#f01212" stroke-width="1.0" />
<line x1="442.3" y1="902.1" x2="444.9" y2="902.1" stroke="#f01212" stroke-width="1.0" />
<line x1="446.3" y1="896.5" x2="446.3" y2="904.4" stroke="#f01212" stroke-width="1.0" />
<line x1="445.0" y1="896.5" x2="447.6" y2="896.5" stroke="#f01212" stroke-width="1.0" />
<line x1="445.0" y1="904.4" x2="447.6" y2="904.4" stroke="#f01212" stroke-width="1.0" />
<line x1="449.1" y1="898.2" x2="449.1" y2="906.1" stroke="#f01212" stroke-width="1.0" />
<line x1="447.8" y1="898.2" x2="450.4" y2="898.2" stroke="#f01212" stroke-width="1.0" />
<line x1="447.8" y1="906.1" x2="450.4" y2="906.1" stroke="#f01212" stroke-width="1.0" />
<line x1="451.9" y1="898.1" x2="451.9" y2="906.0" stroke="#f01212" stroke-width="1.0" />
<line x1="450.6" y1="898.1" x2="453.2" y2="898.1" stroke="#f01212" stroke-width="1.0" />
<line x1="450.6" y1="906.0" x2="453.2" y2="906.0" stroke="#f01212" stroke-width="1.0" />
<line x1="454.6" y1="895.7" x2="454.6" y2="903.6" stroke="#f01212" stroke-width="1.0" />
<line x1="453.3" y1="895.7" x2="455.9" y2="895.7" stroke="#f01212" stroke-width="1.0" />
<line x1="453.3" y1="903.6" x2="455.9" y2="903.6" stroke="#f01212" stroke-width="1.0" />
<line x1="457.4" y1="894.0" x2="457.4" y2="901.9" stroke="#f01212" stroke-width="1.0" />
<line x1="456.1" y1="894.0" x2="458.7" y2="894.0" stroke="#f01212" stroke-width="1.0" />
<line x1="456.1" y1="901.9" x2="458.7" y2="901.9" stroke="#f01212" stroke-width="1.0" />
<line x1="460.2" y1="898.0" x2="460.2" y2="905.8" stroke="#f01212" stroke-width="1.0" />
<line x1="458.9" y1="898.0" x2="461.5" y2="898.0" stroke="#f01212" stroke-width="1.0" />
<line x1="458.9" y1="905.8" x2="461.5" y2="905.8" stroke="#f01212" stroke-width="1.0" />
<line x1="462.9" y1="897.7" x2="462.9" y2="905.5" stroke="#f01212" stroke-width="1.0" />
<line x1="461.6" y1="897.7" x2="464.2" y2="897.7" stroke="#f01212" stroke-width="1.0" />
<line x1="461.6" y1="905.5" x2="464.2" y2="905.5" stroke="#f01212" stroke-width="1.0" />
<line x1="465.7" y1="899.5" x2="465.7" y2="907.4" stroke="#f01212" stroke-width="1.0" />
<line x1="464.4" y1="899.5" x2="467.0" y2="899.5" stroke="#f01212" stroke-width="1.0" />
<line x1="464.4" y1="907.4" x2="467.0" y2="907.4" stroke="#f01212" stroke-width="1.0" />
<circle cx="128.8" cy="918.9" r="3.7" fill="#f01212"/>
<circle cx="132.9" cy="913.2" r="3.7" fill="#f01212"/>
<circle cx="137.0" cy="919.3" r="3.7" fill="#f01212"/>
<circle cx="141.1" cy="915.2" r="3.7" fill="#f01212"/>
<circle cx="145.1" cy="914.4" r="3.7" fill="#f01212"/>
<circle cx="149.8" cy="921.3" r="3.7" fill="#f01212"/>
<circle cx="153.8" cy="916.4" r="3.7" fill="#f01212"/>
<circle cx="157.9" cy="919.9" r="3.7" fill="#f01212"/>
<circle cx="162.0" cy="915.2" r="3.7" fill="#f01212"/>
<circle cx="166.1" cy="914.4" r="3.7" fill="#f01212"/>
<circle cx="170.2" cy="919.9" r="3.7" fill="#f01212"/>
<circle cx="174.2" cy="915.2" r="3.7" fill="#f01212"/>
<circle cx="178.2" cy="918.9" r="3.7" fill="#f01212"/>
<circle cx="182.3" cy="913.2" r="3.7" fill="#f01212"/>
<circle cx="186.4" cy="910.7" r="3.7" fill="#f01212"/>
<circle cx="190.5" cy="907.0" r="3.7" fill="#f01212"/>
<circle cx="194.6" cy="905.6" r="3.7" fill="#f01212"/>
<circle cx="198.6" cy="907.7" r="3.7" fill="#f01212"/>
<circle cx="202.7" cy="903.6" r="3.7" fill="#f01212"/>
<circle cx="206.7" cy="912.4" r="3.7" fill="#f01212"/>
<circle cx="210.8" cy="904.6" r="3.7" fill="#f01212"/>
<circle cx="214.9" cy="911.7" r="3.7" fill="#f01212"/>
<circle cx="219.0" cy="903.6" r="3.7" fill="#f01212"/>
<circle cx="223.0" cy="908.7" r="3.7" fill="#f01212"/>
<circle cx="227.1" cy="906.2" r="3.7" fill="#f01212"/>
<circle cx="231.2" cy="902.6" r="3.7" fill="#f01212"/>
<circle cx="235.2" cy="898.5" r="3.7" fill="#f01212"/>
<circle cx="239.3" cy="904.6" r="3.7" fill="#f01212"/>
<circle cx="243.3" cy="892.4" r="3.7" fill="#f01212"/>
<circle cx="247.4" cy="900.9" r="3.7" fill="#f01212"/>
<circle cx="251.5" cy="897.5" r="3.7" fill="#f01212"/>
<circle cx="255.6" cy="901.5" r="3.7" fill="#f01212"/>
<circle cx="259.5" cy="888.3" r="3.7" fill="#f01212"/>
<circle cx="263.5" cy="891.3" r="3.7" fill="#f01212"/>
<circle cx="267.5" cy="897.5" r="3.7" fill="#f01212"/>
<circle cx="271.6" cy="895.4" r="3.7" fill="#f01212"/>
<circle cx="275.7" cy="890.3" r="3.7" fill="#f01212"/>
<circle cx="279.8" cy="890.3" r="3.7" fill="#f01212"/>
<circle cx="283.9" cy="901.5" r="3.7" fill="#f01212"/>
<circle cx="287.9" cy="898.1" r="3.7" fill="#f01212"/>
<circle cx="292.0" cy="887.3" r="3.7" fill="#f01212"/>
<circle cx="296.1" cy="892.4" r="3.7" fill="#f01212"/>
<circle cx="300.1" cy="893.4" r="3.7" fill="#f01212"/>
<circle cx="304.2" cy="897.5" r="3.7" fill="#f01212"/>
<circle cx="308.2" cy="887.3" r="3.7" fill="#f01212"/>
<circle cx="312.3" cy="897.5" r="3.7" fill="#f01212"/>
<circle cx="316.4" cy="887.3" r="3.7" fill="#f01212"/>
<circle cx="320.5" cy="888.3" r="3.7" fill="#f01212"/>
<circle cx="324.6" cy="884.2" r="3.7" fill="#f01212"/>
<circle cx="328.6" cy="881.1" r="3.7" fill="#f01212"/>
<circle cx="332.6" cy="891.3" r="3.7" fill="#f01212"/>
<circle cx="336.7" cy="882.1" r="3.7" fill="#f01212"/>
<circle cx="340.8" cy="877.0" r="3.7" fill="#f01212"/>
<circle cx="344.9" cy="880.1" r="3.7" fill="#f01212"/>
<circle cx="349.0" cy="882.1" r="3.7" fill="#f01212"/>
<circle cx="353.0" cy="881.1" r="3.7" fill="#f01212"/>
<circle cx="357.1" cy="884.2" r="3.7" fill="#f01212"/>
<circle cx="361.1" cy="883.8" r="3.7" fill="#f01212"/>
<circle cx="365.2" cy="883.8" r="3.7" fill="#f01212"/>
<circle cx="369.3" cy="884.2" r="3.7" fill="#f01212"/>
<circle cx="373.3" cy="886.2" r="3.7" fill="#f01212"/>
<circle cx="377.4" cy="892.4" r="3.7" fill="#f01212"/>
<circle cx="381.5" cy="890.3" r="3.7" fill="#f01212"/>
<circle cx="385.6" cy="888.3" r="3.7" fill="#f01212"/>
<circle cx="388.3" cy="888.2" r="3.7" fill="#f01212"/>
<circle cx="391.1" cy="890.2" r="3.7" fill="#f01212"/>
<circle cx="393.8" cy="887.7" r="3.7" fill="#f01212"/>
<circle cx="396.6" cy="887.3" r="3.7" fill="#f01212"/>
<circle cx="399.4" cy="889.9" r="3.7" fill="#f01212"/>
<circle cx="402.1" cy="888.6" r="3.7" fill="#f01212"/>
<circle cx="404.9" cy="889.9" r="3.7" fill="#f01212"/>
<circle cx="407.7" cy="889.9" r="3.7" fill="#f01212"/>
<circle cx="410.4" cy="891.2" r="3.7" fill="#f01212"/>
<circle cx="413.2" cy="889.0" r="3.7" fill="#f01212"/>
<circle cx="416.0" cy="887.9" r="3.7" fill="#f01212"/>
<circle cx="418.7" cy="889.4" r="3.7" fill="#f01212"/>
<circle cx="421.5" cy="888.7" r="3.7" fill="#f01212"/>
<circle cx="424.2" cy="887.0" r="3.7" fill="#f01212"/>
<circle cx="427.0" cy="886.6" r="3.7" fill="#f01212"/>
<circle cx="429.8" cy="892.7" r="3.7" fill="#f01212"/>
<circle cx="432.5" cy="896.0" r="3.7" fill="#f01212"/>
<circle cx="435.3" cy="896.7" r="3.7" fill="#f01212"/>
<circle cx="438.1" cy="897.1" r="3.7" fill="#f01212"/>
<circle cx="440.8" cy="896.3" r="3.7" fill="#f01212"/>
<circle cx="443.6" cy="898.2" r="3.7" fill="#f01212"/>
<circle cx="446.3" cy="900.5" r="3.7" fill="#f01212"/>
<circle cx="449.1" cy="902.2" r="3.7" fill="#f01212"/>
<circle cx="451.9" cy="902.0" r="3.7" fill="#f01212"/>
<circle cx="454.6" cy="899.7" r="3.7" fill="#f01212"/>
<circle cx="457.4" cy="897.9" r="3.7" fill="#f01212"/>
<circle cx="460.2" cy="901.9" r="3.7" fill="#f01212"/>
<circle cx="462.9" cy="901.6" r="3.7" fill="#f01212"/>
<circle cx="465.7" cy="903.5" r="3.7" fill="#f01212"/>
<line x1="98.8" y1="852.0" x2="113.4" y2="852.0" stroke="#f01212" stroke-width="1.5" />
<circle cx="106.1" cy="852" r="2.7" fill="#f01212"/>
<text x="115.0" y="854.5" font-family='"Liberation Sans", sans-serif' font-size="12.6" font-weight="bold" fill="#f01212" text-anchor="start"  textLength="81.5" lengthAdjust="spacingAndGlyphs">tagging TBS</text>
<text x="170.4" y="904.7" font-family='"Liberation Sans", sans-serif' font-size="10" font-weight="bold" fill="#f01212" text-anchor="middle" >1</text>
<text x="316.4" y="865.1" font-family='"Liberation Sans", sans-serif' font-size="10" font-weight="bold" fill="#f01212" text-anchor="middle" >2</text>
<text x="468.6" y="894.6" font-family='"Liberation Sans", sans-serif' font-size="10" font-weight="bold" fill="#f01212" text-anchor="middle" >3</text>
<text x="387.2" y="951.4" font-family='"Liberation Sans", sans-serif' font-size="12" font-weight="bold" fill="#000" text-anchor="start"  textLength="89.8" lengthAdjust="spacingAndGlyphs">n=6 chs/1 slice</text>
<line x1="189.0" y1="934.2" x2="189.0" y2="954.7" stroke="#000" stroke-width="1.6" />
<path d="M185.8,936.2 L192.2,936.2 L189.0,929.2 Z" fill="#000"/>
<line x1="219.7" y1="939.8" x2="219.7" y2="953.2" stroke="#f01212" stroke-width="1.6" />
<path d="M216.5,941.8 L222.9,941.8 L219.7,934.8 Z" fill="#f01212"/>
<text x="501.9" y="507.3" font-family='"Liberation Sans", sans-serif' font-size="11.3" font-weight="bold" fill="#000" text-anchor="middle" >1</text>
<text x="567.3" y="507.3" font-family='"Liberation Sans", sans-serif' font-size="11.3" font-weight="bold" fill="#000" text-anchor="middle" >2</text>
<text x="630.1" y="507.3" font-family='"Liberation Sans", sans-serif' font-size="11.3" font-weight="bold" fill="#000" text-anchor="middle" >3</text>
<line x1="497.7" y1="551.4" x2="679.7" y2="551.4" stroke="#000" stroke-width="2.2" stroke-dasharray="5,3.6"/>
<line x1="502.0" y1="522.0" x2="502.0" y2="566.4" stroke="#000" stroke-width="1.7" />
<line x1="566.7" y1="522.0" x2="566.7" y2="566.4" stroke="#000" stroke-width="1.7" />
<line x1="630.7" y1="522.0" x2="630.7" y2="566.4" stroke="#000" stroke-width="1.7" />
<path d="M497.5,537.3 L499.5,537.8 L501.0,536.8 L503.5,531.6 L505.5,532.6 L507.8,549.0 L509.8,552.0 L512.3,551.5 L513.4,549.5 L514.5,547.8 L515.6,547.2 L516.7,545.4 L517.8,544.3 L518.9,543.8 L520.0,543.4 L521.1,542.0 L522.2,541.7 L523.3,541.3 L524.5,541.5 L525.6,540.6 L526.7,540.8 L527.8,539.8 L528.9,539.7 L530.0,539.9 L531.1,540.0 L532.2,539.4 L533.3,539.0 L534.4,538.7 L535.5,539.1 L536.6,538.6 L537.7,539.3 L538.8,539.3 L539.9,538.4 L541.0,538.5 L542.1,539.1 L543.2,538.9 L544.3,539.0 L545.4,538.5 L546.6,538.2 L547.7,538.4 L548.8,539.0 L549.9,538.3 L551.0,538.4 L552.1,538.5 L553.2,538.5 L554.3,538.4 L555.4,539.0 L556.5,538.1" fill="none" stroke="#000" stroke-width="1.3" stroke-linejoin="round"/>
<path d="M562.2,537.3 L564.2,537.8 L565.7,536.8 L568.2,531.8 L570.2,532.8 L572.8,552.2 L574.8,555.2 L577.3,554.7 L578.4,551.8 L579.5,551.0 L580.6,549.3 L581.7,548.0 L582.8,546.0 L584.0,545.6 L585.1,544.6 L586.2,543.0 L587.3,542.9 L588.4,542.4 L589.5,541.7 L590.6,541.1 L591.7,540.4 L592.8,540.2 L594.0,539.8 L595.1,539.3 L596.2,539.7 L597.3,539.2 L598.4,539.7 L599.5,538.6 L600.6,539.5 L601.7,539.2 L602.8,539.4 L603.9,539.2 L605.0,539.2 L606.2,538.7 L607.3,538.0 L608.4,538.9 L609.5,538.1 L610.6,538.3 L611.7,538.7 L612.8,538.5 L613.9,538.3 L615.0,538.9 L616.2,538.5 L617.3,538.2 L618.4,538.1 L619.5,538.8 L620.6,538.3 L621.7,538.7" fill="none" stroke="#000" stroke-width="1.3" stroke-linejoin="round"/>
<path d="M626.2,537.3 L628.2,537.8 L629.7,536.8 L632.2,531.8 L634.2,532.8 L635.7,556.4 L637.7,559.4 L640.2,558.9 L641.3,555.8 L642.5,553.1 L643.6,551.4 L644.8,549.9 L645.9,547.5 L647.1,546.9 L648.2,545.9 L649.4,544.7 L650.5,543.9 L651.7,542.2 L652.8,542.3 L653.9,542.0 L655.1,540.6 L656.2,540.5 L657.4,540.1 L658.5,540.1 L659.7,539.7 L660.8,539.6 L662.0,539.8 L663.1,538.7 L664.2,538.6 L665.4,538.6 L666.5,538.5 L667.7,538.3 L668.8,539.3 L670.0,539.1 L671.1,538.1 L672.3,538.6 L673.4,538.3 L674.5,538.3 L675.7,538.3 L676.8,538.6 L678.0,538.5 L679.1,538.2 L680.3,538.0 L681.4,538.2 L682.6,537.9 L683.7,538.4 L684.9,538.6 L686.0,538.2" fill="none" stroke="#000" stroke-width="1.3" stroke-linejoin="round"/>
<line x1="575.0" y1="594.0" x2="575.0" y2="605.6" stroke="#000" stroke-width="1.6" />
<line x1="574.2" y1="605.0" x2="591.6" y2="605.0" stroke="#000" stroke-width="1.6" />
<text x="570.4" y="617.6" font-family='"Liberation Serif", serif' font-size="12.3" font-weight="bold" fill="#000" text-anchor="start"  textLength="34.3" lengthAdjust="spacingAndGlyphs">10 ms</text>
<text x="0" y="0" font-family='"Liberation Serif", serif' font-size="12" font-weight="bold" fill="#000" text-anchor="middle" textLength="31.5" lengthAdjust="spacingAndGlyphs" transform="translate(568.3 594.5) rotate(-90)">50 µv</text>
<text x="500.8" y="864.8" font-family='"Liberation Sans", sans-serif' font-size="11.2" font-weight="bold" fill="#f01212" text-anchor="middle" >1</text>
<text x="564.1" y="864.8" font-family='"Liberation Sans", sans-serif' font-size="11.2" font-weight="bold" fill="#f01212" text-anchor="middle" >2</text>
<text x="627.0" y="864.8" font-family='"Liberation Sans", sans-serif' font-size="11.2" font-weight="bold" fill="#f01212" text-anchor="middle" >3</text>
<line x1="489.8" y1="898.3" x2="672.2" y2="898.3" stroke="#f01212" stroke-width="2.0" stroke-dasharray="5,3.6"/>
<line x1="500.2" y1="872.5" x2="500.2" y2="917.0" stroke="#f01212" stroke-width="1.6" />
<line x1="563.6" y1="872.5" x2="563.6" y2="917.0" stroke="#f01212" stroke-width="1.6" />
<line x1="626.5" y1="872.5" x2="626.5" y2="917.0" stroke="#f01212" stroke-width="1.6" />
<path d="M495.7,887.7 L497.7,888.2 L499.2,887.2 L501.7,885.3 L503.7,886.3 L506.9,895.1 L508.9,898.1 L511.4,897.6 L512.5,895.8 L513.6,894.9 L514.7,894.2 L515.8,893.7 L516.9,893.2 L518.0,892.1 L519.1,892.1 L520.2,891.4 L521.3,890.8 L522.5,890.4 L523.6,890.3 L524.7,890.3 L525.8,889.7 L526.9,889.9 L528.0,889.5 L529.1,889.1 L530.2,889.3 L531.3,889.4 L532.4,888.5 L533.5,888.9 L534.6,888.8 L535.7,889.3 L536.8,889.3 L537.9,888.6 L539.0,889.2 L540.1,889.0 L541.2,888.4 L542.3,888.6 L543.4,888.2 L544.5,889.0 L545.7,888.8 L546.8,889.0 L547.9,888.9 L549.0,888.8 L550.1,888.8 L551.2,888.6 L552.3,888.1 L553.4,888.6 L554.5,887.9 L555.6,888.1" fill="none" stroke="#f01212" stroke-width="1.3" stroke-linejoin="round"/>
<path d="M559.1,887.2 L561.1,887.7 L562.6,886.7 L565.1,885.5 L567.1,886.5 L569.4,903.9 L571.4,906.9 L573.9,906.4 L575.0,904.6 L576.1,901.8 L577.2,900.2 L578.3,898.9 L579.4,898.6 L580.5,896.7 L581.6,895.6 L582.7,895.8 L583.8,894.3 L584.9,894.6 L586.0,893.9 L587.1,893.6 L588.2,893.4 L589.3,892.6 L590.4,892.6 L591.5,891.5 L592.6,892.1 L593.7,891.6 L594.8,891.7 L596.0,890.9 L597.1,891.5 L598.2,891.6 L599.3,890.5 L600.4,890.8 L601.5,891.0 L602.6,891.2 L603.7,890.5 L604.8,890.4 L605.9,890.4 L607.0,890.8 L608.1,891.0 L609.2,890.5 L610.3,890.5 L611.4,890.5 L612.5,890.4 L613.6,890.5 L614.7,890.1 L615.8,890.6 L616.9,891.1 L618.0,890.4" fill="none" stroke="#f01212" stroke-width="1.3" stroke-linejoin="round"/>
<path d="M622.0,887.2 L624.0,887.7 L625.5,886.7 L628.0,885.5 L630.0,886.5 L633.0,897.6 L635.0,900.6 L637.5,900.1 L638.6,898.8 L639.7,896.8 L640.8,896.3 L641.9,895.3 L642.9,894.4 L644.0,893.4 L645.1,892.7 L646.2,892.4 L647.3,892.2 L648.4,890.9 L649.5,890.4 L650.5,890.9 L651.6,890.8 L652.7,890.1 L653.8,889.8 L654.9,890.0 L656.0,889.2 L657.1,889.2 L658.2,889.0 L659.2,889.3 L660.3,888.9 L661.4,888.8 L662.5,889.2 L663.6,889.5 L664.7,888.7 L665.8,889.1 L666.9,888.7 L668.0,889.2 L669.0,888.9 L670.1,888.5 L671.2,888.4 L672.3,888.1 L673.4,888.7 L674.5,888.5 L675.6,888.3 L676.6,888.5 L677.7,888.4 L678.8,889.0 L679.9,888.2 L681.0,889.2" fill="none" stroke="#f01212" stroke-width="1.3" stroke-linejoin="round"/>
<line x1="579.7" y1="938.0" x2="579.7" y2="947.2" stroke="#f01212" stroke-width="1.6" />
<line x1="579.0" y1="946.5" x2="597.0" y2="946.5" stroke="#f01212" stroke-width="1.6" />
<text x="574.0" y="960.8" font-family='"Liberation Serif", serif' font-size="12.3" font-weight="bold" fill="#f01212" text-anchor="start"  textLength="33.5" lengthAdjust="spacingAndGlyphs">10 ms</text>
<text x="0" y="0" font-family='"Liberation Serif", serif' font-size="12" font-weight="bold" fill="#f01212" text-anchor="middle" transform="translate(569.5 944) rotate(-90)">50 µv</text>
</svg></body></html>
